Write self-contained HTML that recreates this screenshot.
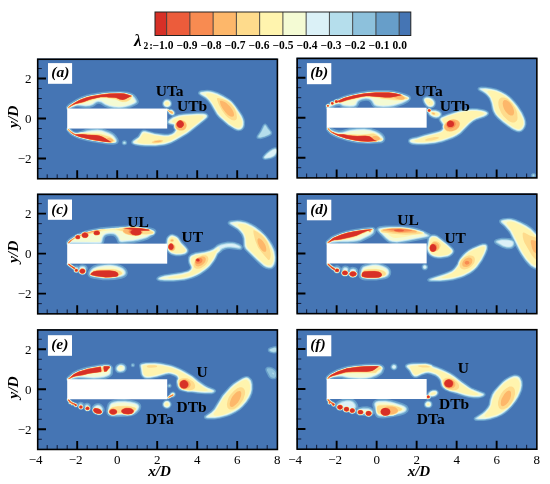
<!DOCTYPE html><html><head><meta charset="utf-8"><style>html,body{margin:0;padding:0;background:#fff;width:550px;height:484px;overflow:hidden}svg{display:block}</style></head><body>
<svg width="550" height="484" viewBox="0 0 550 484">
<rect width="550" height="484" fill="#fff"/>
<rect x="155.00" y="12.00" width="11.63" height="23.50" fill="#d73027"/>
<rect x="166.63" y="12.00" width="23.25" height="23.50" fill="#ec5c3b"/>
<rect x="189.88" y="12.00" width="23.25" height="23.50" fill="#f88b51"/>
<rect x="213.14" y="12.00" width="23.25" height="23.50" fill="#fdb76a"/>
<rect x="236.39" y="12.00" width="23.25" height="23.50" fill="#fedb8c"/>
<rect x="259.65" y="12.00" width="23.25" height="23.50" fill="#fff4ae"/>
<rect x="282.90" y="12.00" width="23.25" height="23.50" fill="#f4fbd4"/>
<rect x="306.15" y="12.00" width="23.25" height="23.50" fill="#dbf1f7"/>
<rect x="329.41" y="12.00" width="23.25" height="23.50" fill="#b5deec"/>
<rect x="352.66" y="12.00" width="23.25" height="23.50" fill="#8dc1dc"/>
<rect x="375.92" y="12.00" width="23.25" height="23.50" fill="#679ec9"/>
<rect x="399.17" y="12.00" width="11.63" height="23.50" fill="#4575b4"/>
<line x1="166.63" y1="12.00" x2="166.63" y2="35.50" stroke="#333" stroke-width="0.9"/>
<line x1="189.88" y1="12.00" x2="189.88" y2="35.50" stroke="#333" stroke-width="0.9"/>
<line x1="213.14" y1="12.00" x2="213.14" y2="35.50" stroke="#333" stroke-width="0.9"/>
<line x1="236.39" y1="12.00" x2="236.39" y2="35.50" stroke="#333" stroke-width="0.9"/>
<line x1="259.65" y1="12.00" x2="259.65" y2="35.50" stroke="#333" stroke-width="0.9"/>
<line x1="282.90" y1="12.00" x2="282.90" y2="35.50" stroke="#333" stroke-width="0.9"/>
<line x1="306.15" y1="12.00" x2="306.15" y2="35.50" stroke="#333" stroke-width="0.9"/>
<line x1="329.41" y1="12.00" x2="329.41" y2="35.50" stroke="#333" stroke-width="0.9"/>
<line x1="352.66" y1="12.00" x2="352.66" y2="35.50" stroke="#333" stroke-width="0.9"/>
<line x1="375.92" y1="12.00" x2="375.92" y2="35.50" stroke="#333" stroke-width="0.9"/>
<line x1="399.17" y1="12.00" x2="399.17" y2="35.50" stroke="#333" stroke-width="0.9"/>
<rect x="155.00" y="12.00" width="255.80" height="23.50" fill="none" stroke="#222" stroke-width="1"/>
<text x="163.00" y="49" text-anchor="middle" font-family="'Liberation Serif','Times New Roman',serif" font-weight="bold" font-size="11.5">−1.0</text>
<text x="187.00" y="49" text-anchor="middle" font-family="'Liberation Serif','Times New Roman',serif" font-weight="bold" font-size="11.5">−0.9</text>
<text x="211.00" y="49" text-anchor="middle" font-family="'Liberation Serif','Times New Roman',serif" font-weight="bold" font-size="11.5">−0.8</text>
<text x="235.00" y="49" text-anchor="middle" font-family="'Liberation Serif','Times New Roman',serif" font-weight="bold" font-size="11.5">−0.7</text>
<text x="259.00" y="49" text-anchor="middle" font-family="'Liberation Serif','Times New Roman',serif" font-weight="bold" font-size="11.5">−0.6</text>
<text x="283.00" y="49" text-anchor="middle" font-family="'Liberation Serif','Times New Roman',serif" font-weight="bold" font-size="11.5">−0.5</text>
<text x="307.00" y="49" text-anchor="middle" font-family="'Liberation Serif','Times New Roman',serif" font-weight="bold" font-size="11.5">−0.4</text>
<text x="331.00" y="49" text-anchor="middle" font-family="'Liberation Serif','Times New Roman',serif" font-weight="bold" font-size="11.5">−0.3</text>
<text x="355.00" y="49" text-anchor="middle" font-family="'Liberation Serif','Times New Roman',serif" font-weight="bold" font-size="11.5">−0.2</text>
<text x="379.00" y="49" text-anchor="middle" font-family="'Liberation Serif','Times New Roman',serif" font-weight="bold" font-size="11.5">−0.1</text>
<text x="399.80" y="49" text-anchor="middle" font-family="'Liberation Serif','Times New Roman',serif" font-weight="bold" font-size="11.5">0.0</text>
<text x="134" y="45.6" font-family="'Liberation Serif','Times New Roman',serif" font-weight="bold" font-style="italic" font-size="17">λ</text>
<text x="143.4" y="48.8" font-family="'Liberation Serif','Times New Roman',serif" font-weight="bold" font-size="9.5">2</text>
<text x="149.2" y="48.6" font-family="'Liberation Serif','Times New Roman',serif" font-weight="bold" font-size="11">:</text>
<g transform="translate(37.20 58.55)">
<rect x="0" y="0" width="240" height="120" fill="#4575b4"/>
<path fill="#679ec9" fill-rule="evenodd" d="M163.9 31.8 170.1 31.1 173.4 31.5 176.4 32.2 180.9 33.8 186.1 36.3 192.1 40 194.1 41.4 196.4 43.6 200.5 48.9 204.2 54.4 205.8 56.9 207.3 60.4 207.8 63.1 207.7 66.9 207.1 69.1 205.6 71.1 203.9 72.3 201.1 72.7 199.6 72.5 197.1 71.4 190.4 67.2 181.2 59.1 178.7 56.1 172.9 46 170.4 42.6 168.1 40.4 162.9 37.3 160.9 35.4 160.8 33.9 161.9 32.5Z M72.3 32.6 86.1 32.6 90.6 33.3 93.9 34.2 96.9 35.7 99.1 37.9 101.3 41.6 101.6 42.9 101.5 44.1 100.7 45.4 99.6 46.2 94.6 48.7 89.6 50.3 83.1 51.3 76.9 51 71.9 50 67.4 48.2 63.4 45.6 61.4 45.2 59.6 45.6 57.4 47.5 55.6 48.4 51.6 49.6 48.1 49.8 40.9 48.8 38.6 48.8 37.2 49.1 32.9 51.2 31.1 51.6 29.7 51.1 28.8 49.9 28.7 48.6 29.1 47.6 31.1 45.4 39.4 40.2 44.1 38 49.1 36.3 53.4 35.3 64.1 33.5Z M129.2 40.1 131.1 40.2 132.4 40.7 133.7 41.9 134.5 43.1 134.9 45.1 134.3 47.4 132.9 48.8 130.9 49.6 131.9 50.3 133.4 50 134.6 50.2 137.1 51.9 138 53.1 138.3 54.1 138.2 55.1 137.6 56.5 141.4 55.5 145.9 54.7 159.6 53.7 165.9 53.7 168.6 54.2 170.5 55.4 171.5 57.1 171.2 58.9 170.1 60.3 167.9 62.2 151.1 75.5 139.4 82.5 133.4 85.5 129.6 86.7 125.9 87.5 118.4 88.3 107.9 88.3 104.1 88 98.6 87.2 95.4 86 94.4 85.1 93.9 84.1 94 83.1 94.4 82.1 95.9 80.7 100.4 77.8 103.2 73.1 104.4 71.9 105.6 71.3 108.1 71.2 117.4 73.9 128.1 75.3 130.6 75.3 133.1 74.6 135.2 73.6 136.6 72.3 137.2 71.4 136.2 69.9 135.6 67.1 132.4 66.5 131.1 66 129.9 64.9 129.5 63.6 129.8 62.1 130.8 60.6 135.1 57.6 132.9 56.8 131.4 55.6 130.5 54.4 130.3 53.4 128.8 51.6 128.8 50.6 129.4 49.8 127.6 49.3 126.4 48.5 125.5 47.4 124.9 45.9 125 43.9 125.7 42.4 127.4 40.7Z M226.9 65.1 228.4 65 230.1 66.4 231.6 68.9 234.7 72.9 235 74.1 234.8 75.4 234.1 76.4 232.6 77.5 228.4 79.2 223.4 80.6 220.4 80.3 219.7 79.9 219.3 79.1 219.5 77.1 222.9 72.1 225.5 66.6Z M30.3 68.6 31.1 68.5 32.1 68.8 36 72.1 37.4 72.9 38.9 73.2 40.4 73.1 43.4 72.4 48.4 70.5 53.6 69.5 60.6 69.1 65.6 69.7 73.6 72.8 77.1 75 79 76.9 81 79.9 81.6 81.6 81.5 83.4 80.5 84.9 78.9 85.8 76.6 86.2 72.9 86.2 67.9 85.8 56.4 84 50.9 83 42.9 81 38.4 79.3 34.1 77 32.4 75.6 29.5 72.1 29 71.1 29.2 69.6Z M85.9 81.9 87.9 81.7 88.9 82.2 89.5 82.9 89.9 83.9 89.9 84.6 89.5 85.6 88.9 86.2 87.6 86.7 86.6 86.7 85.6 86.3 84.8 85.4 84.5 84.4 85 82.6Z M237.4 88.6 238.4 88.6 239.9 89 239.9 96.3 238.3 98.1 235.6 99.8 232.6 100.8 227.9 101.4 226.4 101 225.6 100.5 225.1 99.4 225.2 98.1 226 96.9 227.8 94.9 232.1 91.3 235.1 89.5Z"/>
<path fill="#8dc1dc" fill-rule="evenodd" d="M164.6 32.7 170.1 32.2 173.1 32.5 176.4 33.3 180.6 34.8 185.4 37.1 191.4 40.7 193.6 42.3 195.6 44.1 198.2 47.4 203.5 55.1 205 57.6 206.2 60.6 206.8 63.1 206.8 66.4 206.1 68.6 204.9 70.4 203.4 71.3 201.4 71.6 199.9 71.4 197.6 70.5 191.1 66.5 181.9 58.4 179.6 55.6 173.8 45.6 171.1 41.9 168.5 39.4 163.4 36.4 162.1 35.1 162 34.1 162.9 33.2Z M72.6 34 83.4 33.8 87.6 34.2 91.6 35 95.1 36.3 97.2 37.9 99 40.4 100 42.4 99.9 43.9 98.1 45.4 93.6 47.6 88.9 49 83.4 49.8 77.1 49.6 72.1 48.5 67.6 46.7 63.9 44.3 61.4 43.8 59.4 44.1 55.9 46.7 52.4 48 48.4 48.3 39.4 47.3 34.8 48.9 31.4 50.8 30.6 50.8 30 50.1 29.9 48.9 30.6 47.9 34.4 44.9 42.1 40.4 47.9 38.2 53.6 36.7 64.1 34.9Z M128.7 41.1 130.4 41 131.9 41.5 133.2 42.6 133.9 44.1 134 45.6 133.4 47.1 132.4 48.1 130.9 48.7 129.1 48.8 127.6 48.3 126.6 47.4 125.9 45.9 125.8 44.4 126.3 43.1 127.4 41.8Z M129.7 50.4 130.6 50.3 132.1 51.1 134.1 50.9 135.6 51.6 136.7 52.6 137.3 53.6 137.4 54.6 137.1 55.6 136.1 56.5 135.1 56.6 134.1 56.5 132.6 55.7 131.6 54.6 131.1 53.4 129.5 51.9 129.3 51.1Z M157.5 54.9 164.9 54.6 167.6 55 168.9 55.5 169.9 56.2 170.4 57.1 170.3 58.1 169.8 59.1 168.6 60.3 152.9 73 148.9 75.7 134.4 84 130.1 85.5 127.4 86.2 118.4 87.3 107.9 87.3 102.1 86.7 97.1 85.7 95.9 85.1 95.2 84.4 95 83.4 95.6 82.3 101 78.6 101.9 77.6 104.1 73.6 105.1 72.7 106.1 72.2 108.1 72.3 117.9 75 127.1 76.3 131.1 76.2 134.6 75.1 136.8 73.6 138.3 71.4 136.9 69.4 136.5 66.4 132.4 65.4 130.9 64.4 130.7 62.9 131.9 61.1 135.6 58.5 141.4 56.5 146.1 55.7Z M227.7 66.1 228.4 66.3 229.1 66.9 230.9 69.7 233.4 72.9 233.8 73.9 233.7 75.1 231.6 76.8 227.6 78.3 223.1 79.5 220.9 79.2 220.4 78.4 220.8 77.1 223.9 72.6 226.5 67.1 227.1 66.4Z M30.6 69.4 31.9 69.7 36 73.1 37.7 73.9 38.9 74.1 45.4 73.1 49.1 71.8 53.9 70.9 60.1 70.5 64.9 71 72.9 74 75.9 75.8 77.7 77.6 79.5 80.1 80.1 81.6 80 82.9 79.3 83.9 77.9 84.6 74.1 84.8 70.4 84.6 52.1 81.8 42.9 79.5 37.1 77.3 33.1 74.7 30 71.4 29.8 70.1Z M87 82.6 88.4 83.1 88.9 84.1 88.6 85.1 87.4 85.8 86.1 85.4 85.5 84.4 85.9 83.2Z M237.5 89.6 238.4 89.6 239.9 90.2 239.9 94.6 237.6 97.4 235.4 98.8 232.6 99.8 228.1 100.4 227.1 100.2 226.4 99.7 226.1 98.9 226.5 97.9 229.1 95 232.9 92 235.4 90.4Z"/>
<path fill="#b5deec" fill-rule="evenodd" d="M163.4 33.6 169.9 32.6 172.9 32.9 175.9 33.6 179.9 35 186.9 38.4 191.6 41.3 194.4 43.5 197.7 47.4 202 53.6 204.2 57.1 205.7 60.4 206.3 63.1 206.3 66.1 205.7 68.4 204.6 70 203.1 70.9 201.1 71.2 199.9 71 197.6 70 191.4 66.1 182.6 58.4 180 55.4 174.1 45.2 171.4 41.5 168.9 39.1 163.6 36 162.6 34.9 162.7 34.1Z M72.4 34.3 83.4 34 86.9 34.3 94.9 36.5 95.5 36.9 95.9 37.6 97.1 38.8 98.7 41.1 99.3 42.6 99.2 43.6 97.6 45 93.1 47 88.4 48.4 83.1 49.2 77.1 48.9 72.4 47.9 68.1 46.2 64.1 43.6 61.1 43.1 58.9 43.6 55.6 46.1 52.6 47.2 48.6 47.7 40.9 46.7 38.9 47.1 34.6 48.6 31.4 50.5 30.6 50.5 30.1 49.9 30.2 48.9 30.8 47.9 35.1 44.7 42.1 40.7 49.4 38 54.4 36.8 64.9 35.1Z M129.6 41.4 130.9 41.5 132.1 42.1 133.2 43.4 133.6 44.6 133.5 45.9 132.9 47.1 131.6 48 130.1 48.4 128.6 48.2 127.4 47.6 126.5 46.4 126.1 45.1 126.3 43.9 127.1 42.6 128.1 41.8Z M129.8 50.6 130.6 50.5 132.4 51.4 134.1 51.2 135.6 52 136.5 52.9 137 53.9 137.1 54.9 136.7 55.6 135.9 56.2 135.1 56.3 132.9 55.5 132 54.6 131.4 53.4 129.8 51.9 129.5 51.1Z M159.6 55.1 165.4 55.1 167.6 55.5 169.6 56.6 169.9 57.4 169.8 58.1 169.1 59.2 167.1 60.9 150.1 74.4 138.6 81.2 133.6 83.8 127.1 85.8 118.1 86.9 107.9 86.8 102.4 86.3 97.6 85.4 96.4 84.9 95.7 84.1 95.6 83.4 96.1 82.4 101.4 78.9 102.4 77.6 104.4 74 105.4 73.1 106.4 72.6 108.1 72.7 117.6 75.4 126.9 76.7 130.9 76.7 134.6 75.6 137.1 73.9 138.7 71.4 137.3 69.4 136.9 66 132.6 65 131.3 64.1 131.2 62.9 132.4 61.3 135.9 58.9 141.6 56.9 146.4 56.1Z M227.4 67.1 228.1 67 228.6 67.5 230.3 70.1 232.6 73 233.1 73.9 233 74.9 231.1 76.3 227.6 77.6 223.6 78.7 221.6 78.6 221.3 78.1 221.5 77.4 224.3 73.1Z M30.5 69.6 31.6 69.8 34 72.1 35.7 73.4 38.6 74.4 40.4 74.4 43.9 73.5 46.1 73.4 50.1 72.2 54.6 71.5 60.4 71.1 64.6 71.6 71.1 74 75.1 76.1 76.8 77.6 78.4 79.6 79.2 81.1 79.4 82.4 78.9 83.6 78.1 84.1 73.1 84.5 62.9 83.3 52.1 81.5 46.6 80.3 41.1 78.7 37.6 77.3 34.9 75.7 33.1 74.4 30.2 71.4 29.9 70.4Z M86.4 83.4 87.1 83.1 87.9 83.4 88.4 84.1 88.1 84.9 87.1 85.2 86.4 84.9 86 84.1Z M237.5 90.1 238.4 90.1 239.9 90.9 239.9 93.6 237.1 97.2 235.1 98.4 232.9 99.2 228.4 99.9 226.9 99.4 226.7 98.9 226.9 98.1 229.6 95.2 233.1 92.4 235.6 90.9Z"/>
<path fill="#dbf1f7" fill-rule="evenodd" d="M168.5 33.1 170.9 33.1 174.9 33.8 180.4 35.6 185.1 37.9 191.1 41.4 193.1 42.8 195.1 44.7 197.9 48.1 202.7 55.4 204.1 57.8 205.4 60.6 205.9 63.1 205.9 66.1 205.4 68.1 204.4 69.7 202.9 70.6 200.6 70.7 198.4 70 195.9 68.6 191.4 65.6 182.6 57.9 180.3 55.1 174.5 45.1 171.8 41.4 169.1 38.8 163.9 35.6 163.2 34.9 163.4 34.2 164.1 33.8Z M72.4 34.4 83.1 34.2 86.9 34.5 88.9 34.8 94.9 36.7 95.5 37.1 95.6 38.1 96.9 39.5 98.3 41.6 98.6 42.6 98.5 43.4 96.5 44.9 92.4 46.6 86.7 48.1 81.4 48.7 76.6 48.2 72.1 47.2 68.2 45.6 64.1 43 62.4 42.6 60.6 42.5 58.6 43.1 55.4 45.5 52.6 46.6 48.6 47.1 41.4 46.3 38.9 46.8 34.4 48.4 32.1 49.5 31.1 50.4 30.6 50.3 30.3 49.9 30.3 48.9 31 47.9 35.1 44.9 42.4 40.8 49.1 38.2 54.1 37 64.9 35.2Z M128.8 41.9 129.9 41.7 131.1 41.9 132.2 42.6 132.9 43.6 133.2 44.6 133.1 45.9 132.6 46.9 131.6 47.6 130.4 48.1 128.9 48 127.7 47.4 126.9 46.4 126.5 45.1 126.7 43.9 127.6 42.6Z M129.8 50.9 130.6 50.7 132.4 51.7 133.6 51.4 135.1 52 136.7 53.6 136.8 54.6 136.6 55.4 135.9 55.9 135.1 56.1 133.1 55.4 132.3 54.6 131.6 53.4 130 51.9Z M158.6 55.6 166.6 55.7 168.9 56.5 169.4 57.1 169.4 57.9 168.8 58.9 166.9 60.6 149.8 74.1 138.5 80.9 133.6 83.4 127.1 85.4 118.4 86.5 108.1 86.5 104.1 86.1 98.1 85.1 96.8 84.6 96.1 83.9 96.2 83.1 96.6 82.6 101.9 79 104.6 74.4 105.4 73.5 106.4 73.1 108.1 73.1 117.6 75.8 127.1 77.1 131.1 77.1 134.9 75.9 137.5 74.1 139.1 71.4 138.1 70.3 137.5 69.1 137.1 65.6 132.9 64.7 131.7 63.9 131.7 62.9 132.6 61.6 135.9 59.3 141.6 57.3 146.4 56.5Z M30.4 69.9 30.9 69.7 31.6 70 33.6 72.1 35.6 73.6 37.4 74.5 38.6 74.7 40.6 74.6 43.9 73.8 47.1 73.7 51 72.6 55.1 72.1 60.6 71.7 64.6 72.2 71.1 74.6 74.9 76.6 76.6 78.3 78.1 80.4 78.6 81.5 78.8 83.1 77.9 83.9 75.4 84.3 73.4 84.4 68.4 84 52.1 81.4 42.9 79.1 37.4 77 34.4 75.2 30.6 71.6 30.1 70.6Z M86.9 83.9 87.5 83.9 87.6 84.4 86.9 84.4Z M237.7 90.6 238.6 90.8 239.9 91.8 239.9 92.5 236.7 96.9 233 98.6 229.6 99.2 227.6 99.1 227.4 98.6 227.8 97.9 231.4 94.4 235.4 91.6Z"/>
<path fill="#f4fbd4" fill-rule="evenodd" d="M165.1 34.1 170.6 33.5 174.5 34.1 180.5 36.1 184.7 38.1 190.9 41.6 194.6 44.7 197.6 48.4 202.4 55.7 204.9 60.6 205.5 63.1 205.5 65.9 204.9 68.1 204 69.4 202.6 70.1 200.6 70.2 198.4 69.5 195.9 68.1 191.7 65.4 183 57.6 180.6 54.9 174.8 44.9 172.1 41.1 169.4 38.4 164.2 34.9 164.4 34.4Z M72.4 34.6 83.4 34.3 86.9 34.6 88.9 35 94.9 36.8 95.4 37.4 95.2 38.9 97.3 41.6 97.6 42.4 97.5 43.1 94.8 44.9 89.8 46.6 85.4 47.6 81.1 47.9 76.4 47.4 72.1 46.4 68.5 44.9 64.4 42.3 62.4 41.8 60.6 41.8 58.1 42.5 55 44.9 52.4 45.9 48.6 46.3 42.9 45.6 38.9 46.5 34.4 48 32.6 48.9 31.1 50.3 30.4 49.9 30.5 48.9 31.6 47.5 37.6 43.5 42.4 40.9 49.4 38.3 54.4 37.1 64.9 35.3Z M128.6 42.4 130.6 42.2 131.6 42.7 132.4 43.4 132.8 44.6 132.8 45.6 132.3 46.6 130.4 47.6 129.1 47.6 128 47.1 127.3 46.4 126.9 45.4 127 44.4 127.6 43.2Z M130.1 50.9 130.9 50.9 132.4 51.8 133.9 51.7 135.1 52.3 136.5 53.9 136.4 55.2 135.1 55.8 133.2 55.1 131.8 53.4 130 51.6Z M146.4 57 160.9 55.9 166.1 56.1 168.4 56.8 168.8 57.4 168.8 57.9 168.1 58.9 166.2 60.6 149.4 73.9 138 80.6 133.1 83.1 127.3 84.9 118.4 86 108.4 86 104.6 85.7 99.1 84.9 97.5 84.4 96.8 83.9 96.7 83.4 97.1 82.9 102.1 79.3 104.9 74.7 105.7 73.9 106.6 73.5 110.1 74.1 117.6 76.3 126.9 77.6 131.1 77.5 135.1 76.3 136.6 75.5 137.9 74.3 138.9 72.9 139.5 71.4 138.5 70.4 137.7 69.1 137.4 67.4 137.5 65.4 132.5 63.9 132.2 63.1 132.9 62.1 136.3 59.6 141.9 57.7Z M30.8 69.9 31.6 70.2 33.1 71.9 35.4 73.6 36.9 74.6 38.4 75 40.4 74.9 44.1 74.1 48.4 74.1 52.6 73.1 58.1 72.6 61.6 72.6 64.6 73 70.3 75.1 74.3 77.1 76.6 79.6 78.2 81.9 78.5 82.9 77.9 83.5 75.1 84.1 73.4 84.3 68.1 83.8 52.1 81.3 42.9 79 37.6 77 34.6 75.2 30.5 71.4 30.2 70.4Z"/>
<path fill="#fff4ae" fill-rule="evenodd" d="M72.4 34.7 83.4 34.4 88.4 35 94.6 36.8 95.1 37.1 95.2 37.6 94.2 40.1 93.1 41.4 90.1 43.2 88.1 43.7 85.6 43.8 83.9 43.5 79.6 41.6 77.6 41.1 71.4 40.3 69.6 39.8 63.9 39.8 60.1 40.5 45.9 44.7 38.6 46.2 34.4 47.7 32.4 48.9 31.1 50.1 30.5 49.6 30.7 48.6 31.9 47.4 37.9 43.5 42.4 41 49.6 38.3 54.1 37.3 64.9 35.5Z M169.6 34.9 171.4 34.6 173.9 34.9 179.1 36.4 190.1 41.6 193.6 44.2 195.4 46.1 197.6 49.1 199.4 52.5 202.9 58 203.9 60.2 204.6 62.6 204.6 64.9 204.3 66.6 203.4 68.2 202.4 68.9 200.6 69.2 198.6 68.6 196.5 67.6 192 64.6 183.8 57.4 181.1 54.3 175 43.9 172.4 40.4 169 36.6 168.8 35.6Z M129.1 43.1 130.6 43.1 131.6 43.9 131.9 45.4 131.2 46.4 129.6 46.8 128.9 46.6 128.1 46 127.9 44.4 128.4 43.6Z M130.1 51.1 130.9 51.1 132.6 52.1 133.6 51.9 134.9 52.4 136.2 53.6 136.4 54.4 136.2 55.1 135.1 55.6 133.4 55 130.4 51.9Z M146.6 57.7 161.6 56.8 164.9 57.1 165.9 57.6 166.2 58.6 165.4 59.9 162.4 62.6 149.2 73.1 133.1 82.1 126.8 84.1 118.6 85.2 106.6 85.1 101.9 84.4 99.9 83.4 100.1 82.4 103.1 79.4 105.4 75.6 106.9 74.6 109.7 74.9 117.6 77 126.9 78.3 131.6 78.3 135.6 77 137.1 76.1 138.4 74.9 139.5 73.4 140.2 71.6 138.6 70.2 137.9 68.9 137.6 66.9 137.9 64.7 135.5 63.6 134.8 62.9 135 62.1 135.9 61.1 138.5 59.6 142.5 58.4Z M30.6 70.1 31.4 70.1 34.1 72.9 37.1 74.9 38.4 75.3 40.6 75.2 44.1 74.4 46.9 74.3 53.6 74.8 59.4 74.8 63.9 75.3 67.1 76 73.5 78.1 77.6 81.6 78.1 82.4 78.1 82.9 77.4 83.3 75.9 83.4 75.6 83.9 74.9 84 70.6 83.9 56.4 81.9 46.9 79.9 41.1 78.3 35.6 75.8 33.4 74.1 30.9 71.6 30.4 70.9Z"/>
<path fill="#fedb8c" fill-rule="evenodd" d="M72.4 34.8 83.1 34.5 86.9 34.8 93.9 36.7 95.1 37.4 94.1 38.1 93.9 39.5 92.8 40.9 91.4 41.9 89.1 42.9 85.4 43.1 82.6 42.4 78.9 40.7 69.9 39.2 63.6 39.2 60.4 39.8 45.7 44.1 37.9 45.9 34.6 47.3 32.2 48.9 31.3 49.9 30.9 49.9 30.6 49.6 30.8 48.6 31.9 47.6 37.9 43.6 42.6 41 49.4 38.5 54.1 37.4 64.9 35.6Z M179.7 39.6 180.9 39.5 184.8 40.4 188.9 41.9 192.1 43.9 194.6 46.4 197.4 50.2 199.1 54.2 199.7 58.4 199.5 60.1 198.9 61.2 197 61.9 194.5 61.4 190.7 58.9 187.9 56.1 184.4 51.3 181.6 45.9 179.9 41.3Z M130.6 51.1 132.6 52.3 133.6 52.1 134.8 52.6 135.9 53.6 136 54.9 135.6 55.2 134.9 55.3 133.4 54.7 130.4 51.6 130.3 51.4Z M142.1 61.6 144.4 61.5 146.9 62.3 148.4 63.5 149.5 65.4 149.7 67.4 149.1 69.3 147.9 70.9 146.1 72 143.6 72.3 141.6 71.9 139.4 70.6 138.3 69.1 137.9 66.9 138.4 64.7 139.9 62.9Z M30.5 70.4 30.9 70.1 31.4 70.3 33.9 72.9 38.1 75.4 46.6 74.9 53.9 75.4 59.4 75.4 63.6 75.9 72.7 78.4 75.5 80.4 77.3 82.4 77.1 82.7 75.1 83.3 75.3 83.6 74.9 83.9 70.6 83.8 56.4 81.8 46.9 79.8 41.4 78.2 35.6 75.6 33.6 74.1 31.1 71.7 30.5 70.9Z M121.6 81.1 125.1 81.4 125.9 81.8 126 82.4 124.5 83.6 121.8 84.4 116.4 84.6 115.1 84.4 114.5 83.9 114.8 83.1 117.3 81.9Z"/>
<path fill="#fdb76a" fill-rule="evenodd" d="M72.4 34.9 83.4 34.6 88.4 35.2 94.1 36.9 94.9 37.4 94.6 37.7 91.2 39.1 88.1 41 85.9 41.5 82.1 41 79.6 39.8 77.4 39.3 70.9 39 69.4 38.7 63.1 38.8 54.6 40.8 50.9 41.9 46.4 43.7 37.6 45.8 34.6 47.2 32.1 48.8 31.1 49.8 30.8 49.6 30.9 48.8 32 47.6 37.9 43.7 42.6 41.1 49.4 38.6 54.4 37.4 64.9 35.7Z M183.2 42.1 184 42.1 186.5 42.9 188.9 44.1 192.6 47.6 194.9 50.7 196.4 53.6 196.9 56.1 196.4 57.6 195.1 58.1 193.3 57.9 190.8 56.4 188.4 54 185.4 50 183.6 46.6 182.7 43.4 182.8 42.6Z M130.6 51.4 132.9 52.7 133.6 52.5 134.6 52.9 135.6 53.9 135.6 54.7 134.9 55 133.9 54.6 131.5 52.6Z M141.7 61.9 143.9 61.7 146 62.4 147.6 63.4 148.9 65.2 149.2 66.9 148.9 68.8 148 70.1 146.3 71.4 144.4 71.8 142.2 71.6 139.9 70.4 138.8 69.1 138.4 67.1 138.6 65.3 139.7 63.6Z M30.8 70.4 31.6 70.6 33.9 73 36.9 75 38.1 75.6 44.6 75.4 50.6 76.1 54.9 76.1 61.6 76.8 64.4 77.5 69.4 80.1 70.9 79.4 73.6 79.6 75.5 80.9 76.1 82.1 75.6 82.7 74.4 83.1 74.8 83.6 74.4 83.8 70.6 83.7 56.4 81.7 46.9 79.7 41.4 78.1 35.6 75.5 33.7 74.1 31.1 71.5 30.7 70.9Z M117.7 82.6 122.6 81.9 124.4 82.1 124.7 82.4 123.4 83.1 121.2 83.6 118.4 83.8 116.1 83.6Z"/>
<path fill="#f88b51" fill-rule="evenodd" d="M72.4 35 83.1 34.7 86.9 35 93.7 36.9 94.6 37.4 94.4 37.7 91.1 39 88.1 40.8 85.6 41.3 82.1 40.8 79.4 39.6 77.4 39.2 71.1 38.9 69.4 38.6 63.1 38.7 54.4 40.8 50.9 41.8 46.4 43.5 37.6 45.7 34.6 47.1 31.1 49.6 30.9 49.4 31.1 48.7 32.5 47.4 40.9 42.1 44.7 40.4 49.7 38.6 54.1 37.6 64.9 35.8Z M131.3 52.1 131.4 51.9 132.3 52.4 132.8 53.1 132 52.9Z M142 61.9 143.4 61.8 144.6 62.2 145.9 63.4 146.8 64.9 146.5 67.1 144.4 69.3 143.1 69.5 141.6 69.3 140 67.9 139.3 66.6 139.2 65.1 139.6 64.1 140.9 62.6Z M30.8 70.6 31.4 70.6 32.5 72.1 33.6 73 36.9 75.2 38.1 75.7 44.9 75.5 50.4 76.2 58.6 76.5 62.7 77.1 65.4 78.1 68.7 79.9 70.9 81.4 73.9 83 74.3 83.6 73.4 83.8 68.4 83.4 56.4 81.6 52.1 80.8 42.9 78.5 38.6 76.9 35.6 75.4 33.6 73.9 31.1 71.3Z"/>
<path fill="#ec5c3b" fill-rule="evenodd" d="M78.9 34.9 86.9 35.2 89.1 35.6 94.3 37.4 88.1 40.6 85.6 41.2 82.1 40.7 79.4 39.5 77.1 39 71.1 38.8 69.4 38.4 63.4 38.5 53.1 41 46.4 43.4 37.9 45.5 31.5 48.6 32.1 47.9 35.3 45.6 41.1 42.2 44.4 40.6 50.2 38.6 54.6 37.6 65.1 35.9 72.4 35.1Z M142.7 61.9 143.6 61.9 144.7 62.4 146.1 63.9 146.6 65.1 146.6 66.4 146.1 67.4 144.7 68.9 143.6 69.3 142.1 69.2 141.3 68.9 139.8 67.4 139.4 66.1 139.4 64.9 140.1 63.6 141.4 62.3Z M33.6 73.4 36.6 75.3 38.1 75.8 44.9 75.6 50.4 76.3 58.6 76.6 62.6 77.2 66.1 78.6 73.9 83.4 73.4 83.6 70.6 83.5 62.9 82.5 52.1 80.7 46.9 79.5 42.9 78.4 38.3 76.6 35.5 75.1Z"/>
<path fill="#d73027" fill-rule="evenodd" d="M72.6 35.3 83.1 35 86.9 35.3 88.6 35.6 93.9 37.4 88.1 40.5 85.6 41.1 82.4 40.6 79.4 39.3 77.4 38.9 71.1 38.6 69.4 38.3 63.4 38.4 53.1 40.8 46.4 43.3 39.1 44.9 34.4 46.6 38 44.1 42.5 41.6 49.9 38.9 54.1 37.9 64.9 36.1Z M142.2 62.1 143.4 62 144.4 62.4 145.9 63.8 146.4 64.9 146.5 66.1 146.1 67.2 144.8 68.6 143.9 69.1 142.4 69.1 141.6 68.9 140.1 67.5 139.6 66.6 139.5 65.1 139.9 64.2 141.2 62.6Z M38 76.1 44.9 75.8 50.4 76.5 58.6 76.8 62.6 77.4 65.3 78.4 68.6 80.1 73.4 83.4 68.4 83.1 52.1 80.5 42.6 78.1Z"/>
<rect x="30" y="50" width="100" height="20" fill="#fff"/>
<rect x="10.80" y="4.55" width="24.10" height="20.70" fill="#fff"/>
<text x="14.10" y="18.75" font-family="'Liberation Serif','Times New Roman',serif" font-weight="bold" font-style="italic" font-size="15.5">(a)</text>
<path d="M40.0 120.5V111.7M80.0 120.5V111.7M120.0 120.5V111.7M160.0 120.5V111.7M200.0 120.5V111.7M0 20.0H8.8M0 60.0H8.8M0 100.0H8.8" stroke="#000" stroke-width="1.9" fill="none"/>
<path d="M10.0 120.5V115.8M20.0 120.5V115.8M30.0 120.5V115.8M50.0 120.5V115.8M60.0 120.5V115.8M70.0 120.5V115.8M90.0 120.5V115.8M100.0 120.5V115.8M110.0 120.5V115.8M130.0 120.5V115.8M140.0 120.5V115.8M150.0 120.5V115.8M170.0 120.5V115.8M180.0 120.5V115.8M190.0 120.5V115.8M210.0 120.5V115.8M220.0 120.5V115.8M230.0 120.5V115.8M0 10.0H4.6M0 30.0H4.6M0 40.0H4.6M0 50.0H4.6M0 70.0H4.6M0 80.0H4.6M0 90.0H4.6M0 110.0H4.6" stroke="#0a0a20" stroke-width="0.85" fill="none"/>
<rect x="0.5" y="0.7" width="239.7" height="119.5" fill="none" stroke="#000" stroke-width="1.6"/>
<text x="118.50" y="37.95" font-family="'Liberation Serif','Times New Roman',serif" font-weight="bold" font-size="15.5">UTa</text>
<text x="139.80" y="52.15" font-family="'Liberation Serif','Times New Roman',serif" font-weight="bold" font-size="15.5">UTb</text>
<text x="-5.7" y="24.60" text-anchor="end" font-family="'Liberation Serif','Times New Roman',serif" font-size="13">2</text>
<text x="-5.7" y="64.60" text-anchor="end" font-family="'Liberation Serif','Times New Roman',serif" font-size="13">0</text>
<text x="-5.7" y="104.60" text-anchor="end" font-family="'Liberation Serif','Times New Roman',serif" font-size="13">−2</text>
<text transform="translate(-18.8 58.2) rotate(-90)" text-anchor="middle" font-family="'Liberation Serif','Times New Roman',serif" font-weight="bold" font-style="italic" font-size="15.5">y/D</text>
</g>
<g transform="translate(296.65 57.70)">
<rect x="0" y="0" width="240" height="120" fill="#4575b4"/>
<path fill="#679ec9" fill-rule="evenodd" d="M181.9 29.5 184.6 28.9 189.4 29 194.6 29.7 200.1 31 204.4 32.7 209.4 35.5 212.9 38 215.1 40.1 218.6 43.9 222 48.1 226.2 54.6 228.8 60.4 229.7 64.4 229.7 67.1 228.7 70.1 226.9 72.6 225.1 74 222.6 74.8 220.4 74.5 217.1 73.2 214.4 71.8 210.1 68.8 204.9 64.7 200.4 60.7 197.7 57.6 195.7 53.9 195 51.6 193.9 45.9 192.9 42.8 191.9 40.8 190.1 38.6 187.9 36.6 185.7 35.1 182.4 33.4 181.2 32.4 180.9 31.4 181.1 30.4Z M79.3 32.4 92.4 32.4 97.6 33 103.1 34.2 109.1 36 112.6 37.5 114.1 39.1 114.3 41.1 113.3 42.9 111.6 44.6 107.1 47.1 98.4 50 92.6 51 86.6 51.3 81.9 51 79.1 50.5 77.4 49.7 75.9 48.6 74.9 47.4 73.9 45.1 72.9 44 71.6 43.4 69.4 43.1 65.9 43.6 63.9 44.4 62.9 45.3 62 47.6 60.9 49.1 59.6 50 57.4 50.7 53.4 51.1 48.6 50.8 45.4 50 42.7 48.4 41.9 48.2 39.2 48.9 35.1 51 33.1 51.6 30.4 51.6 29.6 51.3 29 50.4 28.7 47.6 29.9 46.2 30.9 45.8 34.4 43.3 36.1 42.9 38.6 41.2 39.9 41 46.4 38.2 51.9 36.5 63.1 34 71.1 32.9Z M130.2 38.4 132.6 38.5 135.6 39.7 137.6 41.4 139 43.6 139.3 45.9 138.7 48.1 137.4 49.7 134.7 50.9 134.9 51.1 135.1 51.4 139.4 51.5 143.1 52.9 144.5 54.1 145.3 55.4 145.6 56.6 145.4 58 150.4 56 161.9 52.3 170.4 50.8 175.4 50.4 180.6 50.5 185.6 51.2 188.6 52 190.6 53 191.7 53.9 192.4 55.4 192.3 56.6 190.9 58.3 187.9 60 180.1 62.6 176.9 64.4 173.8 66.9 164.6 76.2 160.9 78.8 155.9 81.2 145.9 84.8 138.1 86.6 127.1 87.6 119.6 87.5 116.4 87.2 114.4 86.7 112.4 85.6 111.8 84.9 111.3 83.6 111.7 81.9 113.1 80.5 115.9 79.5 119.9 78.9 127.1 76.5 141.5 72.9 143.6 72.1 145.1 70.6 145.2 67.4 142.4 63.4 142 62.1 142.1 60.8 138.9 61.2 135.4 60.3 132.6 58.6 130.8 56.1 130.3 54.6 129.7 53.6 129.6 52.6 129.9 51.6 131.2 50.4 129.4 49 127.7 47.1 126.3 44.6 125.7 42.4 125.9 40.9 126.9 39.6 128.4 38.7Z M30.6 68.9 32.1 68.8 39.3 72.1 42.6 72.8 45 72.6 52.9 70.3 59.4 69.4 67.6 69.1 74.9 70.2 81.6 72.7 85.4 75.3 87.1 77.1 88.2 78.9 88.7 80.6 88.6 82.1 87.4 84.3 85.1 85.6 73.1 86.3 62.1 85.8 58.1 85.2 51.1 83.8 40.9 80.5 36.4 78.5 33.4 76.8 30.7 74.1 29.5 72.4 29.2 71.4 29.5 70.1Z M236.3 115.4 238.1 115.6 239.3 116.9 239.3 118.4 238.2 119.9 235.5 119.9 234.3 118.4 234.2 117.4 234.5 116.6 235.4 115.7Z"/>
<path fill="#8dc1dc" fill-rule="evenodd" d="M183.4 30.1 189.1 30 194.4 30.7 199.9 32 204.1 33.8 209.1 36.5 212.1 38.7 214.4 40.8 217.7 44.4 221.1 48.6 225.3 55.1 227.5 59.9 228.5 63.1 228.7 66.6 228 69.1 226.4 71.7 224.6 73.1 222.6 73.7 220.4 73.5 217.4 72.2 215.1 71.1 211.1 68.2 205.6 64 201.2 60.1 198.6 57.1 196.7 53.6 196 51.4 194.9 45.7 192.9 40.5 190.9 38 188.6 35.9 182.5 32.1 182.2 31.6 182.2 30.9Z M78.5 33.9 91.1 33.8 98.6 34.7 104.4 36 110.9 38.2 112.6 39.6 113 40.4 112.9 41.1 112.4 42.1 110.1 43.9 105.9 46 97.4 48.8 92.1 49.6 86.6 49.9 82.1 49.6 79.4 49 77.9 48.3 76.7 47.4 75 44.1 73.9 42.9 72.1 42 69.4 41.7 65.9 42.1 62.9 43.3 61.6 44.5 60.6 47.1 59.9 48.1 58.6 48.9 56.9 49.3 52.9 49.7 48.4 49.2 46.1 48.7 43.1 46.9 41.9 46.7 39.1 47.4 34.9 49.5 31.1 50.8 30.1 50.4 29.2 48.4 29.4 47.4 30.1 46.7 30.9 46.4 32.6 46.4 33.4 45.9 33.7 44.6 34.6 43.8 35.9 43.6 37.1 44 37.7 42.6 38.9 41.7 41.4 41.9 47.1 39.4 51.9 38 62.1 35.6 70.9 34.4Z M130.6 39.4 132.6 39.6 134.9 40.5 136.6 41.8 137.8 43.4 138.3 44.9 138.2 46.6 137.5 48.1 136.1 49.3 134.1 49.9 131.9 49.5 129.7 47.9 127.7 45.1 126.8 42.6 127 41.1 128.4 39.8Z M132.3 50.6 133.9 50.9 134.6 51.6 134.9 52.4 139.1 52.5 142.6 53.8 143.8 54.9 144.4 56.1 144.5 57.1 143.9 58.4 142.1 59.7 139.4 60.2 136.9 59.8 134.1 58.4 132.4 56.9 131.5 54.9 130.2 53.4 130.2 52.4 130.6 51.6 131.4 50.9Z M175.9 51.4 180.4 51.5 187.6 52.8 190.6 54.3 191.2 55.1 191.3 56.1 190.1 57.6 187.4 59.1 179.8 61.6 176.2 63.6 172.9 66.4 164.1 75.3 159.6 78.3 155.6 80.2 145.9 83.7 137.9 85.6 127.6 86.6 119.9 86.5 114.9 85.8 113.4 85.1 112.6 84.1 112.4 83.1 112.6 82.4 113.4 81.6 114.6 81 116.9 80.3 121.1 79.6 127.4 77.5 141.7 73.9 144.7 72.6 146.1 70.9 145.8 69.4 146.2 67.1 143.6 63.4 143.1 61.9 143.4 60.6 144.6 59.5 150.6 57 161.9 53.3 170.6 51.7Z M30.8 69.6 32.1 69.8 34.1 71.5 38.4 73.4 42.1 74.2 45.1 74.1 52.6 71.8 60.1 70.8 67.6 70.5 74.1 71.5 80.4 73.7 83.9 75.9 85.4 77.4 86.7 79.1 87.2 80.6 87.1 82.1 86.1 83.5 84.4 84.3 71.6 85 62.1 84.3 52.4 82.6 49.1 81.8 42.9 79.7 34.9 76.1 33.4 74.9 30.4 71.6 30.1 70.6Z M236 116.6 237.1 116.4 238 116.9 238.3 117.9 237.9 118.6 236.6 119 235.6 118.5 235.4 117.4Z"/>
<path fill="#b5deec" fill-rule="evenodd" d="M183.6 30.6 189.1 30.5 194.4 31.2 199.1 32.3 205.9 35.2 209.4 37.2 212.7 39.9 217.1 44.4 220.3 48.4 224.8 55.1 226.9 59.6 228 62.9 228.3 66.4 227.5 69.1 226.1 71.4 224.4 72.7 222.4 73.2 220.4 73 217.4 71.7 215.1 70.5 210.9 67.5 205.9 63.7 201.6 59.9 199 56.9 197.2 53.6 196.4 51.1 194.9 44.4 193.2 40.1 191.2 37.6 188.9 35.5 186.4 33.7 183.3 32.1 182.9 31.4Z M78.9 34.1 91.6 34 97.9 34.8 104.1 36.3 109.1 38 111.9 39.4 112.5 40.1 112.6 40.9 112 41.9 109.4 43.6 104.9 45.7 96.9 48.2 91.9 49 86.6 49.2 82.4 48.9 79.6 48.4 78.1 47.7 77.2 46.9 75.4 43.6 74.1 42.3 72.3 41.4 69.4 41 65.6 41.5 62.6 42.7 61.1 44.1 59.6 47.4 58.6 48.1 56.9 48.7 53.1 49 48.6 48.6 46.1 48 43.5 46.4 42.1 46.1 40.1 46.4 37.3 47.4 31.4 50.4 30.5 50.1 29.4 48.4 29.5 47.6 30.4 46.8 31.4 46.6 32.4 46.9 33.4 46.4 33.8 44.9 34.6 44 35.9 43.8 37.4 44.4 37.7 42.9 38.9 42 39.9 41.8 41.4 42.2 47.1 39.7 51.9 38.2 62.6 35.8 72.1 34.6Z M129.8 39.9 131.6 39.9 133.4 40.3 135.4 41.3 136.7 42.6 137.7 44.4 137.9 45.9 137.4 47.4 136.4 48.6 134.6 49.3 132.6 49.3 130.6 48.2 129.2 46.6 127.7 44.1 127.2 42.1 127.9 40.6Z M132 50.9 133.1 50.8 133.9 51.2 134.9 52.8 138.9 52.9 142.1 54 143.2 54.9 143.9 55.9 144 56.9 143.7 57.9 142.1 59.2 139.6 59.8 137.4 59.4 134.9 58.4 133 56.9 131.9 54.9 130.9 54.1 130.4 53.4 130.7 51.9Z M174.8 51.9 180.1 51.9 187.4 53.2 190.1 54.5 190.8 55.4 190.8 56.1 189.9 57.2 187.1 58.7 179.4 61.3 176.5 62.9 172.8 65.9 163.4 75.3 160.1 77.5 156.9 79.2 150.1 81.8 145.1 83.5 138.4 85 127.6 86.1 121.4 86.1 116.6 85.8 114.4 85.1 113.1 84.1 112.9 83.1 113.2 82.4 115.1 81.3 120.1 80.3 127.4 78 139.1 75.1 143.6 73.7 145.1 72.9 146.5 71.1 146.1 69.1 146.6 66.9 144 63.1 143.6 61.9 144 60.6 145.1 59.7 151.1 57.3 161.9 53.8 169.1 52.4Z M30.8 69.9 31.9 69.9 34.9 72.6 38.5 74.1 42.1 74.9 45.4 74.7 52.6 72.5 59.6 71.5 67.4 71.2 73.4 72 78.9 73.8 82.6 75.8 85.6 78.6 86.7 80.9 86.8 81.6 86.4 82.6 85.6 83.4 83.4 84.1 81.9 83.9 79.4 84.3 76.9 84.2 71.1 84.7 62.9 84.2 57.1 83.3 49.1 81.5 42.9 79.5 36.1 76.5 33.6 74.8 30.8 71.9 30.3 70.6Z M236.5 117.1 237.5 117.4 237.4 118.1 236.9 118.3 236.3 118.1 236.1 117.6Z"/>
<path fill="#dbf1f7" fill-rule="evenodd" d="M184 31.1 188.6 30.9 193.9 31.5 200.4 33.1 204.5 34.9 208.9 37.3 211.6 39.4 214 41.6 217.1 45 220.4 49.1 224.6 55.6 226.9 60.6 227.7 63.4 227.8 66.6 227.1 69 225.6 71.2 223.9 72.5 222.1 72.8 220.4 72.5 217 71.1 212.4 68.1 207.1 64.1 201.7 59.4 199.3 56.6 197.5 53.4 196.8 51.1 195.7 45.6 193.8 40.4 191.6 37.5 189.4 35.4 183.7 31.6Z M71.9 34.7 91.6 34.2 96.9 34.8 105.6 36.9 111.3 39.4 112.1 40.1 112.3 40.9 111.4 41.9 110 42.4 108 43.6 103.4 45.6 96.8 47.6 91.9 48.4 86.6 48.6 82.4 48.3 79.9 47.9 77.8 46.6 75.9 43.2 74.4 41.7 72.4 40.8 69.1 40.4 65.1 41 62.1 42.3 60.5 43.9 59.1 47 58.2 47.6 56.9 48 53.4 48.4 49.4 48.1 46.4 47.4 43.9 45.9 42.1 45.8 39.9 46.1 34.9 47.9 31.6 50 30.9 49.9 29.6 48.4 29.7 47.6 30.6 46.8 31.6 46.7 32.6 47.2 33.6 46.6 33.9 44.9 34.9 44.1 36.1 44 37.5 44.6 37.9 42.9 39.1 42 40.1 42 41.1 42.4 47.4 39.8 52.1 38.3 62.4 36Z M129.3 40.4 131.1 40.2 132.9 40.5 134.8 41.4 136.1 42.5 137.1 44 137.5 45.4 137.2 46.9 136.4 48.1 134.9 48.9 133.4 49 131.9 48.6 130.3 47.4 128.5 44.9 127.6 42.6 127.9 41.3Z M131.7 51.1 132.9 51 133.9 51.4 134.4 52.1 134.6 53.3 138.9 53.3 141.9 54.3 143.4 55.9 143.6 56.6 143.4 57.6 142.1 58.8 139.9 59.4 137.9 59.2 135.4 58.2 133.6 57 132.4 54.9 130.7 53.6 130.6 52.4Z M173.6 52.4 179.4 52.2 185.1 53 189.1 54.3 190.1 55.1 190.3 55.9 189.6 56.9 186.9 58.4 179.4 60.9 176.2 62.6 172.5 65.6 163.1 75 160 77.1 156.6 78.9 150.1 81.4 145.1 83.1 140.8 84.1 137.6 84.8 130.9 85.5 121.9 85.7 117.1 85.4 114.9 84.9 113.5 83.9 113.4 83.1 113.6 82.6 115.4 81.6 120.1 80.7 127.4 78.4 139.4 75.4 143.6 74.1 145.1 73.3 146.1 72.4 146.9 71.1 146.4 69.1 147 66.6 144.1 62.4 144.2 61.1 145.2 60.1 151.1 57.7 161.9 54.2 166.1 53.2Z M30.7 70.1 31.4 69.9 31.9 70.1 34.4 72.7 35.5 73.4 38.6 74.5 41.9 75.2 46.1 75.1 52.9 73 60.1 72.1 67.4 71.8 73.4 72.6 78.1 74.1 81.9 76 84.6 78.4 86.4 80.8 86.5 81.6 85.9 82.8 84.9 83.4 83.4 83.9 82.1 83.6 79.4 84.2 76.9 84.1 71.1 84.6 62.9 84 57.4 83.2 49.1 81.4 42.9 79.3 37.6 77.1 33.6 74.6 30.7 71.4 30.5 70.6Z"/>
<path fill="#f4fbd4" fill-rule="evenodd" d="M187.8 31.4 193.3 31.9 197.1 32.6 203 34.6 209.2 38.1 211.8 40.1 215.1 43.4 219.4 48.4 223.1 54 224.6 56.6 226.6 61.1 227.3 64.1 227.3 66.9 226.6 69 225.1 71.1 223.5 72.1 221.6 72.3 220.4 72.1 216.5 70.4 207.1 63.6 201.6 58.7 199.6 56.4 197.9 53 195.8 44.4 194 39.9 191.9 37.2 189.9 35.2 185.5 31.9 185.9 31.6Z M79 34.4 91.6 34.3 97.9 35.1 105.6 37 106.9 37.9 111.1 39.6 111.8 40.1 112 40.9 111.1 41.7 108.9 42.1 105.2 44.1 99.5 46.1 94.1 47.3 86.9 47.9 82.4 47.6 79.6 46.9 78.2 45.9 76.4 42.6 74.4 40.8 71.6 39.9 67.9 39.9 62.7 41.1 61.6 41.7 59.9 43.4 58.5 46.4 56.6 47.3 53.4 47.6 49.5 47.4 46.6 46.7 44.6 45.4 41.4 45.5 39.4 46 36.4 47.2 34.4 47.7 31.6 49.5 30.4 49.2 29.7 48.4 29.8 47.6 30.6 46.9 31.9 46.9 32.6 47.5 33.9 46.8 33.9 45.1 34.9 44.2 36.1 44.1 37.4 45 37.7 44.9 37.9 44.6 37.7 43.9 37.9 43.1 38.9 42.2 40.1 42.1 41.1 42.6 47.1 40 52.1 38.5 64.1 35.8 72.1 34.8Z M129.2 40.9 130.9 40.6 132.6 40.9 134.3 41.6 135.6 42.6 136.6 43.9 137 45.1 136.9 46.6 136.2 47.6 135.1 48.4 133.6 48.6 132.4 48.3 130.9 47.3 129.1 45.1 128.1 42.9 128.2 41.6Z M132.1 51.1 133.1 51.1 134 51.6 134.4 52.4 134.4 53.7 138.6 53.7 141.9 54.8 143 56.1 143.1 56.9 142.9 57.6 141.6 58.5 139.4 58.9 137.5 58.6 135.2 57.6 133.5 56.1 132.9 54.6 131.6 54.3 130.7 53.4 130.8 52.1Z M175.4 52.6 179.6 52.7 185.1 53.5 188.6 54.6 189.6 55.4 189.7 55.9 189.1 56.6 186.9 57.9 179.1 60.6 176.1 62.2 172.1 65.4 163 74.6 159.6 76.9 156.2 78.6 149.6 81.1 141.2 83.6 137.6 84.3 130.9 85.1 127.1 85.3 119.9 85.2 115.7 84.6 114.5 84.1 114 83.6 114 83.1 114.4 82.6 116.1 81.9 120.1 81.2 127.4 78.8 139.6 75.8 143.9 74.5 145.4 73.6 146.4 72.7 147.2 71.4 146.6 69.1 147.3 66.4 144.5 62.1 144.8 61.1 145.8 60.4 151.2 58.1 161.9 54.6 169.8 53.1Z M31 70.1 31.9 70.3 34.4 72.9 35.4 73.6 38.6 74.8 41.9 75.5 47.6 75.5 53.8 73.6 63.9 72.5 68.1 72.6 73.3 73.4 77.3 74.6 81 76.4 83.3 78.1 84.9 80.1 85.9 80.7 86.2 81.6 85.3 82.9 83.4 83.5 82.1 83.3 79.6 84 76.9 84 71.6 84.4 63.1 83.9 57.1 83 49.1 81.2 43.1 79.3 37.9 77 35.4 75.7 33.6 74.5 30.8 71.4 30.6 70.6Z"/>
<path fill="#fff4ae" fill-rule="evenodd" d="M192.4 32.9 198.1 33.6 204.4 36.1 210.4 39.9 215.6 44.7 219.4 49.6 222.9 54.9 225.9 61.3 226.5 64.1 226.5 66.6 225.6 68.9 224.4 70.4 223.1 71.1 221.4 71.3 219 70.6 216.3 69.4 207 62.6 202.8 58.9 200.9 56.8 199.6 54.9 198.4 52.2 196.8 45.4 195.2 40.9 194.3 39.1 190.7 34.1 190.9 33.3Z M72.1 34.9 80.1 34.4 91.4 34.4 96.9 35 105.4 37 106.9 38.2 111 39.9 111.5 40.4 111.6 40.9 110.9 41.5 108.1 41.8 106.4 42.5 100.1 43 85.4 41.5 80.6 40.4 76.4 39.8 69.9 39.4 66.9 39.7 53.1 42.8 44.2 45.1 41.1 45.2 37.6 46.3 36.1 47.2 34.6 47.1 34 46.1 34.2 44.9 35.1 44.2 36.4 44.3 37.4 45.4 38.1 45 37.9 43.6 38.2 42.9 38.9 42.4 40.1 42.2 41.1 42.7 47.4 40 52.4 38.5 64.1 36Z M129.6 41.6 132.4 41.6 134.9 43 135.6 43.9 136.2 45.1 136.1 46.2 135.6 47 134.7 47.6 133.6 47.8 132.4 47.4 131.4 46.7 130.1 45.2 129.1 43.2 129 42.1Z M30.5 47.1 31.4 46.9 32.1 47.2 32.8 48.1 32.5 48.6 31.6 49.3 30.4 49 29.8 48.1Z M131.8 51.4 133.1 51.2 134 51.9 134.3 53.1 133.9 54 132.4 54.5 131 53.6 130.8 52.4Z M174.7 53.4 179.4 53.4 182.9 53.9 186.3 54.9 187.1 55.4 187.4 55.9 186.8 56.6 185.6 57.4 178.6 60 174.9 62.2 171.6 64.9 163.1 73.6 158.6 76.6 154.4 78.6 145.2 81.9 137.5 83.6 126.9 84.5 120.1 84.2 117.6 83.4 117.8 82.9 118.3 82.6 127.4 79.6 142.1 75.8 144.4 74.9 145.9 74 147.6 71.9 146.9 69.1 147.1 67.6 147.8 66.1 146.1 63.3 145.7 61.9 146 61.4 147.7 60.4 151.8 58.6 162.6 55.1 169.4 53.9Z M135 54.4 136.4 54.1 139.9 54.9 141.8 55.9 142.1 56.9 141.4 57.6 139.9 58 136.6 57.6 135.1 56.7 134.1 55.4 134.1 54.9Z M30.9 70.4 31.4 70.2 31.9 70.4 34.4 73.1 35.6 73.9 38.6 75.1 41.6 75.8 64.4 76.5 69.6 76.2 75.1 75.3 76.9 75.4 80.5 77.1 83.6 80 85.5 80.9 85.8 81.6 85.4 82.4 84.6 82.8 82.4 83 79.9 83.9 76.9 83.9 71.6 84.3 62.9 83.8 57.4 82.9 49.1 81.1 43.1 79.1 37.9 76.9 33.9 74.6 31.1 71.6 30.7 70.9Z"/>
<path fill="#fedb8c" fill-rule="evenodd" d="M78.8 34.6 91.6 34.5 96.9 35.1 105.3 37.1 106 37.6 105.9 37.9 106.2 38.1 110.7 40.6 110.1 41 108.4 41.1 107.4 41.9 106.1 42.3 100.3 42.4 85.5 40.9 80.9 39.8 76.9 39.2 69.6 38.9 66.6 39.2 53.1 42.2 44.4 44.8 42.9 44.9 41.4 44.6 40.6 45.3 39.4 45.5 38.6 45.2 38 44.1 38.2 43.1 39.1 42.4 40.1 42.3 41.1 42.8 47.4 40.1 57.1 37.5 67.6 35.6Z M204.9 39.9 206.1 39.7 207.4 39.9 210.5 41.1 211.6 41.9 215.4 45.5 218.6 50.5 219.9 53.2 220.6 55.8 220.9 60.4 220.7 61.9 220.1 63 218.3 64.6 217.4 64.9 215.6 64.8 213.4 64.1 211.7 63.1 207.1 58.9 204.6 55.3 202.4 50.1 201.9 48 201.6 45.1 201.9 43.4 202.6 41.6 203.6 40.5Z M35 44.4 36.2 44.4 37.1 45.1 37.2 46.1 36.4 47 35.1 47.1 34.2 46.4 34.2 45.1Z M132.3 44.4 132.9 44.3 133.4 44.9 133.1 45.1 132.6 45Z M30.8 47.1 31.6 47.1 32.4 47.6 32.5 48.4 32.1 48.9 31.1 49.2 30.1 48.6 30 47.9Z M132 51.4 133.2 51.4 134.1 52.1 134.1 53.4 133.4 54.2 132.1 54.3 130.9 53.4 130.9 52.4Z M135.3 54.6 136.4 54.5 137.7 54.9 138.6 55.6 138.8 56.6 137.6 57.2 135.9 56.8 134.8 55.6 134.9 55.1Z M155.2 61.6 158.4 61.6 161.6 62.7 162.7 63.9 163.5 65.6 163.2 68.1 161.7 70.6 160.1 72 158.6 72.9 154.9 74 152.9 74.1 150.6 73.7 148.9 72.6 147.6 70.9 147.2 69.4 147.6 67.1 149.1 64.9 150.6 63.6 152.9 62.3Z M31.1 70.4 31.9 70.6 34.3 73.1 35.4 73.9 38.9 75.4 41.6 76.2 46.6 76.2 48.4 76.6 53.1 76.9 64.1 77.2 69.4 76.8 75.1 76 76.9 76.1 79.8 77.4 82.1 78.9 83.1 79.8 83.6 80.6 84.8 81.1 85.1 81.6 84.4 82.3 82.9 82.4 80.9 83.1 80.6 83.5 79.9 83.8 71.6 84.2 63.1 83.7 57.4 82.8 49.1 81 43.1 79 38.1 76.9 33.9 74.4 31.1 71.4 30.9 70.9Z M137.7 79.4 140.6 79.4 142.1 79.7 142.6 80.1 142.1 80.6 139.8 81.6 135.3 82.9 129.9 83 128.2 82.6 128.7 81.9 130.9 80.9Z"/>
<path fill="#fdb76a" fill-rule="evenodd" d="M79.8 34.6 91.6 34.6 97.9 35.4 105.4 37.4 105.7 37.6 105.3 38.1 107.4 39.3 108.1 40.6 107.9 41.1 107 41.6 104.6 42 100.8 41.4 98.3 40.4 97.1 39.6 93.9 40 88.6 40 82.6 39.3 72.9 38.6 69.6 38.6 65.6 39.1 53.6 41.8 44.1 44.7 42.6 44.8 41.4 44.4 40.6 45.2 39.6 45.4 38.6 45 38.1 44.1 38.3 43.1 39.1 42.5 40.1 42.4 41.1 43 47.4 40.3 57.1 37.6 67.9 35.6Z M207.9 42.4 209.9 42.6 212.6 44.4 214.6 46.7 216.1 49.2 217.1 52.1 217.5 54.6 217.1 56.6 215.9 57.9 213.9 57.9 211.8 56.9 209.1 54.1 207.4 51.2 206.4 48.4 206 45.6 206.6 43.4Z M34.8 44.6 35.9 44.4 36.8 44.9 37.1 45.9 36.7 46.6 35.6 47 34.5 46.6 34.2 45.6Z M30.5 47.4 31.1 47.2 32 47.4 32.4 47.9 32.2 48.6 31.4 49.1 30.5 48.9 30.1 48.1Z M131.8 51.6 132.9 51.4 133.8 51.9 134.1 52.9 133.6 53.9 132.4 54.2 131.2 53.6 131 52.6Z M135.7 55.1 137.4 55.4 138 55.9 138.1 56.4 137.4 56.7 136.2 56.4 135.5 55.6Z M156.8 61.9 160.4 62.6 161.4 63.2 162.4 64.3 162.9 65.4 163 66.6 162.1 69.3 159.6 71.9 156 73.4 153.1 73.6 150 72.9 148.4 71.4 147.7 69.9 147.8 68.1 148.4 66.7 149.6 65 151.9 63.1 154.1 62.3Z M31.1 70.6 31.4 70.5 31.9 70.7 34.1 73.1 35.4 74 38.9 75.5 41.6 76.3 46.6 76.4 50.9 77.2 60.4 78.1 68.1 77.8 71.1 78.1 72.9 78.5 74.1 79.1 75.4 80.1 75.6 79.3 76.4 78.6 77.6 78.2 78.9 78.2 80.7 78.6 82.1 79.3 83.1 80.4 83.3 81.1 82.6 82.1 80.4 82.8 80.5 83.4 79.4 83.7 76.9 83.6 71.1 84.1 63.1 83.6 57.4 82.7 49.1 80.9 43.1 78.9 38.3 76.9 34.1 74.5 31.4 71.6Z"/>
<path fill="#f88b51" fill-rule="evenodd" d="M78.6 34.9 91.9 34.8 98.1 35.6 102.7 36.6 105.2 37.6 103.4 38.3 100.6 38.6 98.6 39.3 93.6 39.9 88.6 39.9 73.1 38.5 69.1 38.5 65.4 39 53.9 41.6 50.1 42.6 45.1 44.4 42.9 44.7 41.4 44.3 40.6 45.1 39.6 45.3 38.6 44.9 38.2 44.1 38.4 43.2 39.1 42.6 40.1 42.6 41.1 43.1 47.4 40.4 57.4 37.6 67.6 35.8Z M35 44.6 35.9 44.5 36.6 44.9 37 45.9 36.6 46.6 35.6 46.9 34.5 46.4 34.3 45.4Z M30.8 47.4 31.4 47.3 32.1 47.6 32.3 48.1 32.1 48.6 31.4 49 30.4 48.6 30.2 47.9Z M132 51.6 133.1 51.6 133.8 52.1 134 53.1 133.4 53.9 132.4 54.1 131.2 53.4 131.2 52.4Z M153.2 62.9 155.1 62.7 157.1 63.2 158.1 63.9 159 65.4 159.1 66.9 158.4 68.5 156.9 69.9 155.3 70.6 153.1 70.7 151.5 70.4 150.4 69.4 149.6 67.9 149.6 66.8 150.4 64.9 151.6 63.6Z M31.2 70.9 31.4 70.7 31.9 70.9 33.9 73.1 35.1 74 39.9 76 42.1 76.5 46.6 76.5 51.4 77.4 56.4 78 60.4 78.2 68.4 78 71.6 78.3 74.1 79.2 77.1 81.7 80.2 83.1 80.1 83.4 79.4 83.6 76.9 83.5 71.4 84 63.1 83.5 58.9 82.9 49.5 80.9 41.1 78 36 75.6 34.1 74.3 31.6 71.7Z"/>
<path fill="#ec5c3b" fill-rule="evenodd" d="M79.6 34.9 91.9 34.9 97.7 35.6 103.1 36.9 104.6 37.4 104.7 37.6 99.4 38.9 93.6 39.7 88.6 39.7 72.9 38.3 69.4 38.3 65.4 38.9 53.9 41.5 50.1 42.4 44.4 44.4 42.9 44.5 41.4 44.1 40.6 44.9 39.6 45.1 38.8 44.9 38.3 44.1 38.4 43.4 39.1 42.8 40.1 42.7 41.1 43.2 47.6 40.4 57.1 37.8 67.9 35.9Z M34.8 44.9 35.6 44.6 36.4 44.9 36.8 45.6 36.6 46.4 35.6 46.8 34.6 46.4 34.4 45.6Z M30.6 47.6 31.6 47.5 32.1 47.9 32.1 48.4 31.6 48.8 30.9 48.8 30.4 48.3Z M131.8 51.9 132.9 51.7 133.6 52.1 133.9 52.9 133.5 53.6 132.6 54 131.6 53.6 131.2 52.9Z M152.7 63.1 153.9 62.9 155.4 63.3 156.6 64.2 157.3 65.1 157.5 66.4 157.3 67.6 156.4 68.7 155.1 69.4 152.6 69.4 151.1 68.5 150.3 67.1 150.2 66.1 150.6 64.9 151.8 63.6Z M31.5 71.1 32.1 71.4 32.4 72 31.9 71.7Z M33.9 73.6 38.9 75.8 41.9 76.6 46.6 76.6 51.4 77.6 56.1 78.1 60.4 78.3 68.6 78.1 72.4 78.6 74.1 79.4 77.4 82 79.8 83.1 79.4 83.4 71.1 83.9 63.1 83.4 57.4 82.5 49.4 80.7 43.1 78.6 36.3 75.6 34.5 74.4Z"/>
<path fill="#d73027" fill-rule="evenodd" d="M78.8 35.1 91.9 35 98.2 35.9 102.6 36.9 104 37.4 104.1 37.6 96.1 39.3 92.4 39.6 88.6 39.6 72.9 38.2 69.1 38.2 65.4 38.7 53.9 41.3 50.1 42.3 44.9 44.1 42.7 44.4 41.1 43.8 40.7 44.6 39.9 45 39.1 44.9 38.5 44.1 38.6 43.4 39.3 42.9 40.2 42.9 41.1 43.5 47.5 40.6 57.6 37.9 67.6 36.1Z M35.1 44.9 35.9 44.8 36.4 45.1 36.7 45.9 36.4 46.4 35.5 46.6 34.7 46.1 34.6 45.4Z M30.9 47.6 31.6 47.6 31.9 48.4 30.9 48.6 30.5 48.1Z M132.1 51.9 133.1 51.9 133.6 52.4 133.7 53.1 133.3 53.6 132.4 53.8 131.6 53.4 131.4 52.6Z M153.4 63.1 155.6 63.6 156.7 64.6 157.2 65.6 157.3 66.9 156.9 67.9 156.2 68.6 154.6 69.4 152.9 69.3 151.6 68.7 150.9 68 150.4 66.8 150.4 65.9 151 64.6 152.1 63.6Z M35.6 74.9 36.5 74.9 38.9 76 41.9 76.7 46.6 76.8 51.4 77.7 56.1 78.2 60.4 78.5 68.4 78.3 71.7 78.6 73.9 79.4 77.1 82 79.3 83.1 71.4 83.7 63.1 83.2 58.9 82.6 49.4 80.5 41.1 77.7Z"/>
<rect x="30" y="50" width="100" height="20" fill="#fff"/>
<rect x="10.25" y="5.40" width="24.40" height="21.10" fill="#fff"/>
<text x="13.55" y="19.60" font-family="'Liberation Serif','Times New Roman',serif" font-weight="bold" font-style="italic" font-size="15.5">(b)</text>
<path d="M40.0 120.5V111.7M80.0 120.5V111.7M120.0 120.5V111.7M160.0 120.5V111.7M200.0 120.5V111.7M0 20.0H8.8M0 60.0H8.8M0 100.0H8.8" stroke="#000" stroke-width="1.9" fill="none"/>
<path d="M10.0 120.5V115.8M20.0 120.5V115.8M30.0 120.5V115.8M50.0 120.5V115.8M60.0 120.5V115.8M70.0 120.5V115.8M90.0 120.5V115.8M100.0 120.5V115.8M110.0 120.5V115.8M130.0 120.5V115.8M140.0 120.5V115.8M150.0 120.5V115.8M170.0 120.5V115.8M180.0 120.5V115.8M190.0 120.5V115.8M210.0 120.5V115.8M220.0 120.5V115.8M230.0 120.5V115.8M0 10.0H4.6M0 30.0H4.6M0 40.0H4.6M0 50.0H4.6M0 70.0H4.6M0 80.0H4.6M0 90.0H4.6M0 110.0H4.6" stroke="#0a0a20" stroke-width="0.85" fill="none"/>
<rect x="0.5" y="0.7" width="239.7" height="119.5" fill="none" stroke="#000" stroke-width="1.6"/>
<text x="118.15" y="38.60" font-family="'Liberation Serif','Times New Roman',serif" font-weight="bold" font-size="15.5">UTa</text>
<text x="143.05" y="53.00" font-family="'Liberation Serif','Times New Roman',serif" font-weight="bold" font-size="15.5">UTb</text>
</g>
<g transform="translate(37.20 193.65)">
<rect x="0" y="0" width="240" height="120" fill="#4575b4"/>
<path fill="#679ec9" fill-rule="evenodd" d="M194.1 26.5 200.4 26 203.6 26.2 207.6 27 210.6 28 214.9 30 218.6 32.2 223.9 36.2 226.6 38.8 230.5 43.1 233.7 47.4 235.8 50.9 238 55.4 239 58.9 239.6 63.9 239.3 68.4 238 72.4 236.1 74.7 234.4 75.6 231.6 75.8 228.4 75.1 225.9 73.8 223.6 72 218.9 67.5 207.6 56.4 206.5 54.6 205.8 52.9 205.4 44.9 203.9 41 201.9 38.5 199.8 36.4 191.9 31.7 190.5 30.1 190.5 28.6 191.9 27.2Z M94 31.6 100.9 31.8 104.4 32.2 111.6 33.4 116.1 34.7 117.6 35.3 118.7 36.4 119.2 37.6 119.1 38.9 117.4 41.6 110.9 45.8 105.9 47.5 95.9 49.5 84.6 50.5 82.4 50.3 81.1 49.7 80.3 48.9 79.1 45.5 77.6 43.4 75.9 42.4 73.6 42.1 70.1 42.5 68.6 43.4 67.6 44.9 67 48.4 66.5 49.6 65.1 51.1 63.4 51.7 58.1 51.9 36.9 51.6 32.1 51.9 30.1 51.5 29.4 50.9 29 49.9 29 48.4 29.8 46.9 31.6 45 33.6 43.5 39.1 40.3 48.9 36.7 55.9 35 63.6 33.7 79.1 32.3Z M133.4 40.4 135.4 40.2 138.1 41 140.4 42.2 142.2 43.9 144.9 48.2 149.2 52.6 151.3 55.4 151.6 56.6 151.4 58.1 151 59.1 149.9 60.3 147.9 61.5 145.1 62.2 142.9 62.5 138.4 62.5 133.9 61.3 132.1 60.2 130.8 58.9 129.3 56.6 128.5 53.6 128.2 50.6 128.5 46.6 129 44.6 129.8 43.1 131.6 41.3Z M190.3 47.9 196.6 48 201.6 49.5 204.1 51 205.1 52.1 205.6 53.6 205.3 55.1 204.1 56.3 202.6 56.7 192.1 55.4 189.4 55.6 185.9 56.8 183.6 59.1 182.2 59.9 181.1 60.9 179.2 65.1 177.2 68.4 174 72.6 171.4 75.3 168.6 77.5 163.6 81 159.9 83 155.6 84.8 147.4 87 136.6 88.1 127.9 88.1 123.1 87.8 120.6 87.2 119.3 86.1 119.1 84.9 119.6 83.8 121.1 82.7 123.4 81.7 127.9 80.5 144.6 78.1 149.7 76.9 151.6 75.9 152.6 74.9 152.9 73.9 151 69.4 150.7 67.1 150.7 64.4 151 63.1 151.8 61.9 153.9 60.2 157.9 58.7 167.6 57.1 172.3 55.9 175.6 54.4 178 52.6 179.1 51.3 181.4 50 184.4 49Z M29.9 68.9 31.4 68.3 32.1 68.5 34.7 70.6 37.1 72.2 39.1 71.7 41.4 72 43.1 71 44.9 70.6 46.6 70.8 48.4 71.4 49.8 72.6 50.5 74.4 50.5 75.6 49.6 77.3 49.2 79.1 48.5 80.1 47.4 81 45.1 81.5 43.9 81.3 42.6 80.7 41.6 79.9 41.1 79 39.4 79.5 37.4 79.1 36.4 78.1 35.6 76.1 31.4 73.1 29.5 71.4 29.2 69.9Z M69 69.1 73.9 69.1 78.6 69.7 82.9 71 85.9 72.5 88.6 74.6 90.1 76.9 90.6 79.4 89.8 81.9 88.9 82.9 87.6 83.8 84.4 85 77.4 86.3 71.6 86.6 65.6 86.5 55.9 85 52.9 84 51.1 82.6 50.2 80.6 50.5 78.4 52 75.6 54.1 73.3 56.4 71.9 59.4 70.8 65.1 69.5Z"/>
<path fill="#8dc1dc" fill-rule="evenodd" d="M196.8 27.4 200.1 27.1 204.1 27.5 208.1 28.3 210.6 29.2 214.6 31.2 218.4 33.5 223.4 37.3 228.5 42.4 232.5 47.6 234.5 50.9 236.8 55.6 237.7 58.4 238.4 63.4 238.3 67.4 237.3 71.1 235.6 73.5 233.9 74.5 231.9 74.6 228.9 74 226.4 72.7 219.6 66.6 208.5 55.6 207.5 54.1 207 52.6 206.6 45.4 205.9 42.5 204.9 40.4 202.9 37.9 200.4 35.4 192.9 30.9 191.9 29.9 192 28.9 192.8 28.1Z M91.7 32.6 97.1 32.5 99.9 33.2 104.4 33.7 111.9 35 116.8 36.6 117.7 37.9 117.8 39.4 117.3 40.4 116.4 41.2 114.4 41.9 111.6 43.7 108.9 45 101.6 47 95.9 48.1 84.9 49 82.9 48.9 81.5 47.9 80.3 44.6 78.4 42.1 76.6 41.1 73.4 40.7 69.7 41.1 67.6 42.2 66.4 44.1 65.2 48.9 64.4 49.8 63.1 50.3 58.1 50.5 36.4 50.2 32.4 50.4 31.1 50.8 30.4 50.7 29.9 50.1 30.2 48.6 31.6 47 33.4 45.4 37.4 42.9 38.6 41.2 40.1 40.6 41.9 40.8 43.9 40 45.6 38.5 46.9 38 49.2 38.1 55.9 36.4 63.9 35.1 75.9 34 87.9 33.3Z M133.6 41.4 135.4 41.2 137.9 42 139.9 43.1 141.5 44.6 144.1 48.9 148.3 53.1 150.3 55.6 150.5 57.6 150.1 58.6 149.4 59.4 147.6 60.5 145.1 61.2 142.9 61.5 138.6 61.5 134.6 60.5 133.1 59.7 131.7 58.4 130.3 56.4 129.5 53.6 129.2 50.9 129.5 47.4 129.8 45.4 130.5 43.9 132.1 42.2Z M190.4 49.1 195.6 49.1 200.1 50.3 202.1 51.2 203.6 52.3 204.2 53.4 204.1 54.4 203.4 55.2 202.1 55.4 193.6 54.2 190.6 54.2 188.1 54.6 185.1 55.8 180.4 60.2 178.4 64.4 176.8 67.1 172.4 72.9 167.9 76.8 163.1 80.1 159.6 81.9 152.1 84.8 147.1 86 141.1 86.7 136.1 87.1 127.4 87 122.4 86.6 121.1 86.2 120.5 85.6 120.5 84.6 121.4 83.8 123.6 82.8 126.9 81.8 143.6 79.4 151.1 77.4 153.1 75.9 153.9 74.4 153.8 73.1 152.1 69.4 151.6 66.4 152.1 63.4 153.6 61.6 158.1 59.7 167.6 58.2 172.5 56.9 176 55.4 180.1 52.1 182.1 51 184.6 50.2Z M30.9 68.9 31.9 69 34.8 71.4 38.1 73.3 39.9 73.1 41.6 74 42.6 72.8 44.1 72.1 45.9 72 47.6 72.6 48.6 73.4 49.1 74.4 48.8 76.1 49.1 77.6 48.8 78.9 48.1 79.8 47.1 80.5 45.1 80.9 43.9 80.7 42.4 79.9 41.8 79.1 41.4 77.8 40.1 78.8 37.9 78.7 36.8 77.6 36.6 76.1 31.9 72.8 30 71.1 29.8 69.9Z M64.9 71 73.1 70.5 76.6 70.8 79.9 71.5 83.9 73 86.4 74.6 88.3 76.6 89.1 78.6 88.8 80.6 87.4 82.2 84.4 83.5 77.9 84.7 71.9 85.2 65.9 85.1 58.1 83.9 54.1 83 52.1 81.5 51.7 79.9 52.2 78.1 53.8 75.6 55.6 74 57.6 73 60.1 72.1Z"/>
<path fill="#b5deec" fill-rule="evenodd" d="M193.4 28.5 200.1 27.7 204.1 28 208.1 28.9 210.6 29.8 214.6 31.8 218.1 33.9 222.9 37.6 228.2 42.6 232.2 48.1 234.2 51.4 236.4 55.9 237.2 58.4 237.9 63.4 237.8 67.1 236.9 70.6 235.3 73.1 233.6 74 231.6 74.1 228.9 73.4 226.6 72.2 219.9 66.2 208.9 55.4 207.5 52.6 207.1 45.1 206.4 42.5 205.4 40.3 203.3 37.6 200.9 35.1 193.5 30.6 192.7 29.9 192.7 29.1Z M92.3 32.9 97.4 32.9 99.9 33.5 103.6 33.8 111.6 35.2 114.6 36.2 116.9 37.4 117.4 38.1 117.4 39.4 116.9 40.3 116.1 40.9 113.6 41.6 110.6 43.5 107.9 44.7 100.9 46.5 95.6 47.4 84.9 48.4 83.1 48.2 82 47.4 80.8 44.1 78.5 41.4 76.4 40.3 73.1 40 69.4 40.5 67.1 41.8 65.7 44.1 64.7 48.4 64.1 49.1 63.1 49.6 58.4 49.8 51.6 49.6 32.6 49.6 31.1 50.6 30.4 50.4 30.1 49.9 30.5 48.6 32.4 46.6 37.5 43.1 38 42.1 38.9 41.3 40.4 40.8 42.1 41 43.9 40.3 45.6 38.7 46.9 38.2 49.4 38.3 56.4 36.6 64.9 35.3 79.1 34.1 86.4 33.7Z M133.6 41.9 135.1 41.7 137.1 42.2 139.4 43.3 140.9 44.6 143.9 49.3 147.9 53.4 149.7 55.6 150.1 57.4 149.1 59 147.6 60 145.1 60.7 142.9 61.1 138.9 61.1 134.9 60.1 133.4 59.3 132.1 58.2 130.9 56.6 130.2 54.6 129.7 51.9 129.8 48.4 130.2 45.9 130.7 44.4 132.1 42.8Z M189.6 49.9 194.6 49.7 197.9 50.2 202.1 52 203.2 52.9 203.5 53.9 203.1 54.5 202.1 54.8 193.6 53.6 190.6 53.6 187.9 54.1 184.9 55.2 180 59.9 177.9 64.4 176.3 67.1 173.3 71.1 170.6 74 167.9 76.2 162.9 79.7 159.1 81.7 155.4 83.3 151.9 84.4 147.1 85.5 136.6 86.6 127.1 86.6 122.9 86.2 121.8 85.9 121.1 85.4 121.2 84.6 122.4 83.8 127.1 82.2 144.1 79.7 151.2 77.9 153.5 76.1 154.4 74.4 154.2 72.9 152.5 69.4 152.1 66.6 152.5 63.6 153.9 62 158.4 60.1 167.5 58.6 172.6 57.3 176 55.9 180.6 52.5 182.4 51.6 184.6 50.9Z M30.8 69.1 31.9 69.2 34.5 71.4 38.4 73.9 39.6 73.8 40.5 74.1 41.6 76.9 42.2 75.6 42.3 74.1 43.1 73.2 45.1 72.6 47.4 73.2 48.1 73.9 48.4 74.6 48.2 75.6 48.9 77.4 48.5 78.9 47.1 80.3 45.1 80.7 43.9 80.5 42.4 79.6 41.8 78.6 41.4 77 41 77.9 40.4 78.5 39.1 78.7 37.9 78.5 37 77.6 36.9 76.1 31.9 72.6 30.3 71.1 30 70.1Z M67.4 71.4 71.1 71.1 75.6 71.3 79.1 72 82.9 73.3 85.4 74.6 87.5 76.6 88.4 78.6 88.1 80.4 86.6 81.9 83.6 83.1 77.1 84.2 71.6 84.6 66.6 84.5 59.6 83.7 54.9 82.7 52.6 81.4 52.4 79.6 52.9 78.1 54.2 76.1 55.9 74.6 59.9 72.8Z"/>
<path fill="#dbf1f7" fill-rule="evenodd" d="M199.8 28.1 203.9 28.4 208.1 29.3 214.3 32.1 217.4 33.9 222.4 37.7 226.4 41.2 228.9 44 234.1 52.2 236.1 56.4 236.8 58.9 237.5 63.6 237.3 67.1 236.4 70.6 234.9 72.9 233.4 73.6 231.4 73.6 228.9 72.9 226.6 71.7 220.2 65.9 209.1 54.9 207.9 52.4 207.5 44.9 206.8 42.4 205.8 40.1 203.7 37.4 201.1 34.8 194.1 30.4 193.4 29.6 193.6 29.1 194.9 28.7Z M92.3 33.1 97.1 33.1 111.4 35.3 114.4 36.3 116.4 37.4 117.1 38.1 117.2 39.1 116.7 40.1 115.9 40.7 112.9 41.4 109.6 43.4 105.9 44.7 95.9 46.8 84.6 47.8 83.4 47.6 82.7 47.1 81 43.4 79.6 41.6 78.1 40.4 76.9 39.9 74.9 39.5 70.9 39.6 68.1 40.4 66.3 41.9 65 44.1 64.3 47.9 63.6 48.6 62.9 49 57.9 49.2 33.1 48.9 31.4 50.4 30.6 50.4 30.2 49.9 30.6 48.6 32.4 46.8 37.6 43.2 38.1 42.2 38.9 41.5 40.4 40.9 42.1 41.2 44.1 40.4 45.4 39.1 46.9 38.3 47.9 38.2 49.4 38.5 56.1 36.8 64.6 35.5 75.6 34.5 77.1 34.6 78.9 34.3 80.9 34.4 82.6 34 86.4 33.9Z M134.1 42.1 135.6 42.1 137.8 42.9 139.4 43.7 140.9 45.1 143.6 49.6 147.6 53.6 149.4 55.8 149.7 57.4 148.7 58.9 147.1 59.8 144.9 60.4 138.9 60.7 134.9 59.7 133.4 58.9 132.3 57.9 131.1 56.4 130.5 54.6 130.1 51.4 130.3 47.9 130.6 45.6 131.1 44.5 132.6 42.9Z M191.3 50.4 194.9 50.4 197.7 50.9 201.4 52.4 202.3 53.1 202.5 53.6 201.6 53.9 193.9 52.9 191.1 52.8 188.1 53.2 184.4 54.7 183.1 55.7 182.3 57.4 179.7 59.6 177.6 64.1 176.2 66.6 172 72.1 167.4 76.1 162.7 79.4 159.1 81.3 151.6 84.1 147.1 85.1 141.1 85.9 136.1 86.2 127.9 86.2 123.1 85.8 121.8 85.1 122 84.6 123.2 83.9 127.1 82.6 144.1 80.1 151.4 78.2 153.8 76.4 154.8 74.4 154.5 72.6 152.9 69.4 152.5 66.9 152.8 63.9 154.1 62.3 158.4 60.5 167.6 59 172.6 57.7 176.1 56.3 180.3 53.4 183 52.1 186.7 51.1Z M30.7 69.4 31.4 69.2 31.9 69.4 34.6 71.6 37.9 73.6 38.6 74.6 39.4 74.5 40.1 74.9 41.2 76.4 40.8 77.9 39.6 78.6 38.4 78.5 37.6 78.1 37.1 77.4 37 75.9 32.1 72.6 30.5 71.1 30.1 70.1Z M68.3 71.9 72.9 71.7 76.1 72 79.2 72.6 82.6 73.8 85 75.1 86.9 76.9 87.7 78.6 87.5 80.1 86.3 81.4 83.9 82.4 78.4 83.7 72.6 84.3 67.1 84.3 59.6 83.4 55.1 82.5 52.8 81.4 52.6 80.6 53.4 78.4 54.9 76.3 56.6 74.9 60.4 73.3 64.9 72.3Z M44.5 73.4 45.9 73.3 47.2 73.9 48.7 76.9 48.7 77.9 48.2 79.1 47.4 80 46.1 80.5 44.6 80.5 43.4 80.1 42.4 79.4 41.8 78.1 41.8 76.6 42.9 75.1 43 74.4 43.6 73.7Z"/>
<path fill="#f4fbd4" fill-rule="evenodd" d="M195.4 29.3 200.4 28.7 203.9 29 207.9 29.8 210.2 30.6 217.1 34.4 225.3 40.6 227.6 43 230.4 46.7 233.4 51.9 235.4 55.9 236.2 58.4 237 63.1 236.9 66.8 236.1 70 234.6 72.3 233.4 73 231.6 73.1 229.1 72.5 227.1 71.4 220.6 65.6 209.6 54.7 208.4 52.1 208 44.9 207.2 42.1 206.2 39.9 204.1 37.1 201.6 34.5 194.9 29.9Z M92.1 33.4 97.1 33.3 103.6 34.1 111.4 35.4 114.4 36.5 116.2 37.6 116.8 38.4 116.9 39.1 116.4 40 115.6 40.5 111.9 41.1 108.8 42.9 105.1 44.1 95.6 46.1 84.6 46.9 83.9 46.8 83.2 46.4 81.6 42.9 80.1 41.1 78.6 39.8 77.4 39.2 75.4 38.7 71.4 38.8 68.1 39.5 65.9 41.1 64.4 43.6 63.5 47.4 62.6 48.2 58.1 48.4 38.9 48.2 35.4 48 34.4 47.6 31.6 50.2 30.9 50.3 30.4 49.9 30.8 48.6 32.6 46.7 37.6 43.4 38.9 41.6 40.4 41.1 42.1 41.3 44.1 40.5 45.4 39.2 46.9 38.5 47.9 38.3 49.2 38.6 56.4 36.9 64.9 35.6 71.9 35.3 75.6 34.7 77.1 35 79.1 34.4 81.1 34.7 82.6 34.2 86.1 34.1Z M133.9 42.6 135.4 42.5 137.3 43.1 138.9 43.9 140.3 45.1 143.4 49.9 148.9 55.8 149.2 57.1 148.6 58.4 146.9 59.4 144.9 60 142.6 60.3 138.6 60.3 134.6 59.1 131.9 57 130.9 55.4 130.5 53.4 130.8 46.6 131.6 44.5 132.9 43.2Z M180.8 53.6 181.6 53.4 182.2 53.9 182.5 55.1 182.3 56.4 179.2 59.6 177.1 64.2 174.4 68.4 171.9 71.6 169.5 73.9 161.8 79.4 154.7 82.6 151.5 83.6 145.6 84.9 140.9 85.5 135.1 85.7 127.4 85.7 123.9 85.3 123.1 84.9 124 84.1 127.6 83 144.4 80.5 151.6 78.6 154.1 76.6 154.8 75.6 155.2 74.4 155.1 72.9 153.4 69.4 153 67.1 153.1 64.4 154.1 62.9 155.3 62.1 158.6 60.9 167.6 59.4 173.1 58 176.6 56.5Z M31 69.4 31.9 69.6 34.4 71.6 37.9 73.8 38.6 74.9 39.4 74.8 40.5 75.4 41.1 76.6 40.7 77.9 39.4 78.4 38.4 78.4 37.6 78 37.1 77.1 37.2 75.9 31.9 72.2 30.4 70.9 30.3 70.1Z M68.4 72.6 75 72.6 78.1 73.1 81.3 74.1 84 75.4 85.6 76.6 86.7 78.1 86.8 79.6 86 80.6 83.1 82.2 78.6 83.5 72.6 84.1 67.1 84.1 58.6 83 54.4 82 53.1 81.5 52.8 81.1 52.8 80.4 54.1 77.9 57.4 75.3 61.2 73.9Z M43.4 75 45.4 74.4 46.6 74.7 48.4 76.4 48.6 77.4 48.4 78.4 47.8 79.4 46.9 80.1 45.6 80.4 44.1 80.3 42.9 79.7 42.2 78.9 41.8 77.6 42.1 76.4Z"/>
<path fill="#fff4ae" fill-rule="evenodd" d="M202.7 30.1 205.7 30.4 208.8 31.1 215 34.1 223.4 39.6 226.1 41.9 228.6 44.9 231.1 48.9 234.6 56.5 235.6 59.9 236.1 63.9 235.9 67.1 235.1 69.5 233.9 71.1 232.4 71.7 230.4 71.6 228.8 71.1 226.7 69.9 220.9 64.6 210.5 54.1 209.4 51.6 208.8 44.9 207.5 40.6 205.3 37.1 200.5 31.6 200.8 30.6Z M92 33.6 96.6 33.5 98.6 33.9 101.4 33.9 111.4 35.5 114.7 36.9 114.9 37.4 116.3 38.1 116.5 39.1 116 39.9 115.1 40.3 109.6 41.2 104.4 41 101.6 42 99.9 42.3 95.1 42.3 88.9 40.8 86.6 39.6 85.1 37.8 79.6 36.8 75.9 36.6 70.4 36.8 63.1 38.1 62.9 38.4 63.1 39.9 62.8 40.6 61.1 41.8 57.9 41.8 56.9 41.1 55.9 39.9 51.6 41 51.3 42.9 50.1 44.1 49.1 44.6 46.4 44.5 45.4 44 44.4 43 43.4 43.2 43.3 44.4 41.9 45.8 39.4 45.8 38.1 45 35.1 46.6 31.6 50 30.9 50.2 30.5 49.9 30.9 48.7 32.6 46.9 37.8 43.4 38.3 42.4 39.1 41.6 40.4 41.2 42.1 41.5 44.3 40.6 45.6 39.2 47.1 38.5 49.4 38.7 56.1 37 64.9 35.7 67.9 35.5 69.6 36 73.6 35.6 72.8 35.4 73.4 35.2 74.1 35.6 75.8 35.4 75.2 35.1 75.6 35 76.1 35.3 77.9 35.3 78.9 35.1 78.4 34.9 79.1 34.6 79.9 35.1 81.4 35 82.4 34.9 82 34.6 82.6 34.3Z M69.9 35.6 70.6 35.4 70.9 35.6 70.9 35.9Z M134.1 43.4 135.4 43.3 137.3 43.9 138.8 44.6 139.9 45.6 142.8 50.1 147.9 55.7 148.3 56.9 147.9 57.9 146.3 58.9 144.5 59.4 138.9 59.7 135.6 58.9 133.1 57.7 132.1 56.9 131.4 55.8 130.7 53.6 131.4 47.4 132.1 45Z M179.3 56.1 180.1 56.2 180.1 56.9 178.5 59.1 176.6 63.4 175.4 65.6 172.6 69.5 170.9 71.5 167.7 74.4 161.6 78.6 155 81.6 147.6 83.6 142.2 84.4 136.6 84.7 132.6 84.6 130.2 84.1 133.2 83.1 145.1 81.3 151.9 79.3 154.6 77.1 155.8 74.9 155.8 73.1 154.1 69.1 153.8 67.1 154 64.9 154.9 63.4 158.8 61.6 168.1 60.1 173.1 58.8 176.6 57.5Z M30.8 69.6 31.4 69.5 31.9 69.7 34.4 71.8 37.8 73.9 38.4 74.9 39.6 75 40.4 75.4 41 76.6 40.6 77.8 39.6 78.3 37.9 78 37.2 77.1 37.4 75.8 30.9 71.2 30.4 70.4Z M43.9 74.9 46.4 74.8 48.1 76.1 48.5 77.9 48.1 78.9 47.4 79.7 46.1 80.2 44.9 80.3 43.6 80 42.5 79.1 42 77.9 42.1 76.6 42.6 75.8Z M64.7 75.1 75.4 75 79.6 75.6 83.6 77.2 85.1 78.7 85.4 79.9 85 80.6 84.1 81.4 81.1 82.3 80.1 83 76.1 83.8 72.6 84 67.1 84 59.1 82.9 54.6 81.9 52.9 81.1 52.9 80.4 54.2 78.4 56.1 76.6 59.6 75.7Z"/>
<path fill="#fedb8c" fill-rule="evenodd" d="M87.6 34 96.4 33.7 101.4 34 111.1 35.6 113.7 36.6 112.5 37.1 115.1 38.1 115.9 38.9 115.6 39.4 114.9 39.8 109.4 40.6 104.6 40.4 102.1 41.7 100.6 42 99.1 42.1 94.9 41.9 91.1 41.1 88.2 40.1 86.3 38.9 85.4 37.3 78.8 35.9 86.4 35.4 86.4 35.1 84.2 34.6Z M64.8 35.9 68.1 35.9 62.1 37.1 61.9 37.4 62.4 37.7 62.8 38.4 62.9 39.9 62.4 40.9 61.4 41.5 59.6 41.7 57.6 41.5 56.6 40.6 56.1 39.3 55.6 39.3 51.3 40.4 51.4 41.9 50.9 43.1 49.6 44.1 48.4 44.5 46.9 44.5 45.6 44 44.6 43.1 44.1 41.9 43 42.4 43.2 44.1 42.1 45.5 41.4 45.7 39.6 45.7 38.1 44.5 34.9 46.7 31.6 49.9 31.1 50.1 30.7 49.9 30.9 48.9 32.9 46.8 37.9 43.5 38.4 42.4 39.6 41.5 40.9 41.3 42.1 41.6 44.4 40.7 45.5 39.4 47.1 38.6 49.1 38.9 56.4 37.1Z M216.1 36.9 216.9 36.7 220.3 38.4 224.6 41.6 227.6 44.9 229.9 48.2 230.9 50.3 232.6 55.5 233.4 59.7 233.5 61.9 233.1 64.3 232.6 65.6 231.9 66.4 231.4 66.4 230.9 66 224.4 58.7 220.9 53.8 218.1 47 216.4 40.1Z M134.3 45.1 135.6 45.2 136.7 46.1 136.9 47.1 136.1 48.2 134.4 48.5 132.9 47.6 132.6 46.9 132.9 46.1Z M133.2 49.6 134.4 49.5 136.1 50.2 137.3 51.1 138 52.1 138.3 53.1 138.2 54.9 137.5 56.4 136.1 57.4 134.4 57.7 133.3 57.4 132.1 56.4 131 54.4 130.8 52.9 131.1 51.6 132.1 50.2Z M165.7 61.6 168.3 61.6 169.6 62.1 170.6 63 171.1 64.3 171.2 65.9 170.4 68.3 169.1 70.3 167.4 72.1 164 74.4 162.8 74.9 160.7 75.1 159.4 75.1 158.1 74.6 156.9 73.6 156.3 71.6 156.6 69.9 158.1 65.9 159.4 64.5 160.5 64.1 163.4 62.4Z M31 69.6 31.9 69.8 34.3 71.9 37.6 73.9 38.1 74.4 38.3 75.1 39.4 75.1 40.4 75.6 40.9 76.6 40.6 77.6 39.6 78.2 38.6 78.2 37.8 77.9 37.3 76.9 37.7 75.6 36.6 75.3 31.6 71.7 30.6 70.6 30.5 70.1Z M44.2 74.9 46.4 74.9 48.1 76.4 48.4 77.4 48.2 78.4 47.6 79.3 46.9 79.8 45.6 80.2 44.4 80.1 43.1 79.6 42.4 78.8 42 77.6 42.2 76.6 43 75.6Z M63.4 75.9 75.1 75.7 79.1 76.1 83.2 77.6 84.6 79.1 84.8 79.9 83.3 81.1 81.4 81.6 80.9 82.4 80.1 82.9 76.1 83.7 72.6 83.9 68.4 84 64.4 83.6 58.1 82.7 54.9 81.9 53.1 81.1 53.1 80.4 53.6 79.5 56.5 77.1 59 76.4Z"/>
<path fill="#fdb76a" fill-rule="evenodd" d="M94.4 33.9 103.6 34.4 111.4 35.7 113.2 36.6 111.6 37.2 105.2 37.4 105.7 38.6 105.1 39.6 102.1 41.5 99.4 42 94 41.4 90.8 40.6 88.1 39.6 86.1 38 85.9 37.4 86.1 36.6 87.5 35.4 85.3 34.6 87.9 34.1Z M61.9 36.4 63.8 36.4 61.6 37.1 62.6 38.4 62.9 39.4 62.4 40.6 61.4 41.4 58.9 41.6 57.4 41.3 56.3 39.9 56.3 38.9 56.6 38 51.4 39.3 50.5 39.9 51.2 40.9 51.1 42.6 50.5 43.4 49.4 44.1 47.6 44.4 46.1 44.1 44.9 43.2 44.4 41.6 44.1 41.7 42.6 42.4 43 43.1 43 44.1 42 45.4 41.1 45.6 39.6 45.5 38.8 45.1 38.1 44.3 34.9 46.5 31.6 49.7 31.1 49.9 30.8 49.6 31.1 48.7 32.9 46.9 37.9 43.6 38.5 42.4 39.6 41.6 40.9 41.4 42.1 41.7 44.4 40.9 45.4 39.6 47.1 38.7 49.4 39 56.1 37.3Z M221.3 44.6 222.7 44.9 224.4 46.1 225.9 47.8 227.4 50.1 228.4 52.2 229 54.6 229.1 56.9 228.4 58.2 226.6 58.1 225.1 57.1 223.4 55.2 221.9 52.7 220.6 49.4 220.3 47.4 220.4 45.6Z M134.1 46.1 134.9 45.9 135.6 46.1 136 46.6 136 47.1 135.1 47.6 133.9 47.4 133.6 46.6Z M132.8 49.9 133.9 49.6 134.9 49.9 136.6 51.3 137.4 52.4 137.7 53.4 137.6 54.7 136.9 56.2 135.9 56.9 134.6 57.1 133.6 56.9 132.4 56.1 131.1 54.5 130.9 53.1 131.1 51.9 131.7 50.9Z M164.8 62.9 167 63.1 168.4 64.4 168.6 66.2 167.9 68.3 166.2 70.4 164.1 71.9 160.9 72.8 159.1 72.4 158.3 71.6 158 70.6 157.8 68.1 158.4 65.8 159.6 64.7Z M30.8 69.9 31.7 69.9 34.1 71.9 37.6 74 38.1 74.6 38.1 75.1 37.6 75.5 36.9 75.3 32.3 72.1 30.7 70.6Z M44.9 74.9 46.9 75.3 47.9 76.2 48.3 77.1 48.2 78.1 47.6 79.1 45.9 80.1 44.6 80.1 43.4 79.6 42.6 78.9 42.2 77.9 42.2 76.9 42.6 76.1 43.8 75.1Z M38.2 75.4 39.4 75.2 40.4 75.8 40.8 76.6 40.4 77.7 38.9 78.1 37.7 77.6 37.4 76.4Z M63.1 76.6 71.9 76.6 77.4 77.3 79.4 78 80.5 78.9 81.3 80.1 81.3 81.6 80.4 82.6 78.6 83.2 72.6 83.8 68.4 83.9 58.4 82.6 54.4 81.6 53.1 81 53.2 80.4 53.9 79.4 56.1 77.8 58.9 77Z"/>
<path fill="#f88b51" fill-rule="evenodd" d="M87.9 34.3 96.6 34 103.6 34.5 111.4 35.8 112.8 36.6 111.4 37.1 104.1 37.3 104 37.4 104.5 38.4 104.5 39.4 103.6 40.6 101.6 41.6 98.1 41.9 95.4 41.3 91.9 39.2 91.4 38.4 91.4 37.6 91.9 36.9 93.1 36.1 89.9 35.4 88.1 35.2 86.6 34.6Z M56.3 37.4 62.3 36.6 60.9 37.1 62.3 38.1 62.7 39.4 62.4 40.5 61.1 41.4 58.4 41.5 57.1 40.9 56.4 39.6 56.9 37.8 51.4 39.1 50.1 39.6 50.9 40.6 51.1 42.1 50.6 43.1 49.1 44.1 47.1 44.2 45.6 43.7 44.6 42.6 44.4 41.2 42.5 42.4 42.9 43.1 42.9 44.1 41.8 45.4 39.6 45.4 38.9 45 38.1 44.1 37.6 44.1 38.1 43.7 38.6 42.5 39.4 41.8 40.6 41.5 42.1 41.9 44.4 41.1 45.2 39.9 46.9 38.9 47.9 38.8 49.1 39.1 51.4 38.8Z M36.1 44.9 36.7 44.9 32.9 48.2 31.6 49.6 31 49.6 31.2 48.9 33.1 46.9Z M133.1 49.9 134.1 49.8 135.1 50.1 135.9 50.9 136.4 52.1 136.5 53.9 136.2 54.9 135.6 55.6 134.6 56.3 133.6 56.3 132.6 56 131.6 55.1 131.1 54.1 131 52.9 131.4 51.6 132.1 50.6Z M161.9 64.4 163.4 64.4 164.8 65.1 165.3 66.1 165.1 67.5 164.1 69 162.7 69.9 161.4 70.2 159.6 70.1 158.6 69.4 158.3 68.6 158.5 66.1 159.6 65Z M31.1 69.9 31.6 69.9 34.1 72 37.6 74.1 38 74.6 37.9 75.1 37.4 75.4 36.9 75.2 32.1 71.9 30.9 70.6 30.8 70.1Z M44.1 75.1 46.4 75.1 47.8 76.4 48.1 77.9 47.1 79.4 46.1 79.9 44.9 80 43.7 79.6 42.7 78.9 42.3 77.9 42.4 76.8 42.9 76Z M38.5 75.4 39.6 75.4 40.4 75.9 40.7 76.9 40.1 77.8 38.6 78 37.7 77.4 37.6 76.2Z M59.4 77.1 71.9 76.7 76.9 77.3 78.9 78 80.3 78.9 81.1 80.1 81.2 81.4 80.4 82.5 78.4 83.1 72.6 83.7 68.4 83.7 58.4 82.5 54.7 81.6 53.2 80.9 54.1 79.4 56.2 77.9Z"/>
<path fill="#ec5c3b" fill-rule="evenodd" d="M94.1 34.1 103.4 34.6 111.1 35.9 112.4 36.6 110.9 37 103.6 37 104.4 38.9 103.6 40.4 101.6 41.4 98.1 41.7 95.4 41.1 93.4 39.4 93.2 37.9 93.9 36.9 94.9 36.4 94.9 36.1 88.1 35 87.2 34.6Z M58.9 37.1 60.6 37.2 62.2 38.1 62.6 39.4 62.1 40.6 60.9 41.3 59.6 41.4 57.9 41.2 57 40.6 56.5 39.6 56.7 38.6 57.6 37.5Z M46.6 39.1 47.9 38.9 50.1 39.4 49.7 39.6 50.6 40.4 51 41.6 50.9 42.5 50.5 43.1 49.1 44 47.9 44.1 46.4 43.9 45.1 43.1 44.6 42.1 44.8 40.6 45.4 39.9Z M40.5 41.6 42 42.1 42.9 43.4 42.5 44.6 41.4 45.4 39.4 45.2 38.4 44.1 38.4 43.1 38.9 42.4Z M33.1 47.1 34.4 46.4 33.6 47.4 31.6 49.4 31.1 49.4Z M133.8 49.9 134.9 50.1 135.7 50.9 136.2 51.9 136.4 53.4 136.2 54.6 135.6 55.4 134.9 56 133.9 56.2 132.6 55.9 131.9 55.2 131.3 54.4 131.1 53.1 131.9 51 132.9 50.1Z M159.8 65.1 161.1 65 162.1 65.6 162.7 66.6 162.4 67.5 160.9 68.2 159.4 67.7 158.9 67.1 158.9 66.1Z M31 70.1 31.6 70.1 33.9 72 37.4 74.1 37.8 74.6 37.7 75.1 36.9 75 32.4 71.9 31 70.6Z M44.7 75.1 46.6 75.4 47.9 76.7 47.8 78.4 46.5 79.6 45.4 79.9 44.1 79.7 43.1 79.1 42.6 78.4 42.4 77.4 42.6 76.6 43.6 75.6Z M38.3 75.6 39.1 75.4 40.2 75.9 40.5 76.9 40.1 77.6 38.9 77.9 37.9 77.4 37.7 76.4Z M62.8 76.9 72.1 76.9 76.9 77.4 78.9 78.1 80.1 78.9 81 80.1 81.1 81.4 80.4 82.4 78.6 83 72.6 83.6 68.4 83.6 58.4 82.4 55.2 81.6 53.4 80.9 53.6 80.1 54.3 79.4 56.4 77.9 59.6 77.2Z"/>
<path fill="#d73027" fill-rule="evenodd" d="M93.6 34.4 101.4 34.5 111.1 36.1 111.9 36.4 111.9 36.6 103.4 36.9 104.2 38.9 103.4 40.4 101.6 41.3 98.4 41.6 95.3 40.9 94.3 40.1 93.4 38.9 93.3 38.1 93.8 37.4 95.8 36.1 88.2 34.6Z M58.4 37.4 60.4 37.3 61.6 37.9 62.4 38.9 62.1 40.4 60.6 41.2 58.6 41.2 57.5 40.9 56.8 40.1 56.7 39.1 57.2 38.1Z M47.1 39.1 49 39.4 50.6 40.6 50.9 41.6 50.7 42.6 49 43.9 46.6 43.9 45.6 43.4 44.9 42.5 44.8 41.4 45.1 40.4Z M39.9 41.9 41.2 41.9 42.4 42.7 42.7 43.9 42.1 44.9 41.4 45.2 40.1 45.2 38.9 44.6 38.6 43.9 38.6 43 39.1 42.4Z M133.3 50.1 134.4 50.1 135.1 50.5 135.9 51.5 136.2 52.6 136.2 53.9 135.9 54.9 135.1 55.7 134.1 56 133.1 55.9 132.4 55.5 131.6 54.6 131.3 53.6 131.7 51.6Z M160.2 65.1 161.1 65.2 162 65.9 162.2 66.9 161.6 67.5 160.1 67.7 159.2 67.1 159.1 66.1 159.6 65.4Z M31.2 70.4 31.6 70.3 33.9 72.3 37.4 74.3 37.6 74.9 36.9 74.9 32.3 71.6Z M44.3 75.4 46.2 75.4 47.6 76.6 47.9 77.4 47.8 78.1 46.7 79.4 44.6 79.7 42.9 78.6 42.6 77.9 42.7 76.9Z M38.6 75.6 39.5 75.6 40.2 76.1 40.4 76.9 39.9 77.6 38.6 77.7 37.9 77.1 37.9 76.3Z M59.4 77.4 71.9 77 76.9 77.6 79.1 78.4 80.1 79.1 80.9 80.3 80.9 81.4 80.1 82.3 78.2 82.9 72.6 83.4 68.4 83.5 58.4 82.2 53.6 80.9 53.6 80.4 54.2 79.6 56.4 78.1Z"/>
<rect x="30" y="50" width="100" height="20" fill="#fff"/>
<rect x="10.70" y="5.85" width="24.10" height="20.30" fill="#fff"/>
<text x="14.00" y="20.05" font-family="'Liberation Serif','Times New Roman',serif" font-weight="bold" font-style="italic" font-size="15.5">(c)</text>
<path d="M40.0 120.5V111.7M80.0 120.5V111.7M120.0 120.5V111.7M160.0 120.5V111.7M200.0 120.5V111.7M0 20.0H8.8M0 60.0H8.8M0 100.0H8.8" stroke="#000" stroke-width="1.9" fill="none"/>
<path d="M10.0 120.5V115.8M20.0 120.5V115.8M30.0 120.5V115.8M50.0 120.5V115.8M60.0 120.5V115.8M70.0 120.5V115.8M90.0 120.5V115.8M100.0 120.5V115.8M110.0 120.5V115.8M130.0 120.5V115.8M140.0 120.5V115.8M150.0 120.5V115.8M170.0 120.5V115.8M180.0 120.5V115.8M190.0 120.5V115.8M210.0 120.5V115.8M220.0 120.5V115.8M230.0 120.5V115.8M0 10.0H4.6M0 30.0H4.6M0 40.0H4.6M0 50.0H4.6M0 70.0H4.6M0 80.0H4.6M0 90.0H4.6M0 110.0H4.6" stroke="#0a0a20" stroke-width="0.85" fill="none"/>
<rect x="0.5" y="0.7" width="239.7" height="119.5" fill="none" stroke="#000" stroke-width="1.6"/>
<text x="90.10" y="33.85" font-family="'Liberation Serif','Times New Roman',serif" font-weight="bold" font-size="15.5">UL</text>
<text x="144.40" y="48.25" font-family="'Liberation Serif','Times New Roman',serif" font-weight="bold" font-size="15.5">UT</text>
<text x="-5.7" y="24.60" text-anchor="end" font-family="'Liberation Serif','Times New Roman',serif" font-size="13">2</text>
<text x="-5.7" y="64.60" text-anchor="end" font-family="'Liberation Serif','Times New Roman',serif" font-size="13">0</text>
<text x="-5.7" y="104.60" text-anchor="end" font-family="'Liberation Serif','Times New Roman',serif" font-size="13">−2</text>
<text transform="translate(-18.8 58.2) rotate(-90)" text-anchor="middle" font-family="'Liberation Serif','Times New Roman',serif" font-weight="bold" font-style="italic" font-size="15.5">y/D</text>
</g>
<g transform="translate(296.65 193.45)">
<rect x="0" y="0" width="240" height="120" fill="#4575b4"/>
<path fill="#679ec9" fill-rule="evenodd" d="M206.4 24.7 212.9 24.2 215.4 24.5 219.6 25.7 224.1 27.7 230.4 30.9 234.4 33.5 239.9 38.7 239.9 76.5 236.9 75.5 233.9 73.7 232.1 72.3 228.7 68.6 223.5 61.1 218.6 52.2 217.1 54.1 215.4 55.3 213.1 55.8 210.1 55.8 205.4 54.4 198.9 50.8 197.6 49.6 197.3 48.1 197.9 46.9 199.1 45.9 201.6 45 205.1 44.3 208.1 44.3 212.1 44.6 215.2 45.1 212.9 40.3 211.1 37.7 206.9 33 203.3 30.1 202.4 28.6 202.5 26.9 203.6 25.7Z M88.6 32.1 104.1 32 114.4 33.2 120.9 34.7 126.9 37 133.1 40.1 134.4 41.1 137.9 40.9 140.4 41.5 142.4 42.7 146.9 46.2 152.1 50.5 156.2 54.4 157.2 55.6 157.7 56.9 157.8 58.1 157.5 59.4 156.1 61.2 153.4 63.2 151.6 64.1 148.4 64.8 144.4 65.3 141.6 65.3 138.1 64.7 134.9 63.6 132.9 62.3 131 60.1 130.2 58.9 129.4 56.6 129.2 53.9 130.4 48.9 130.6 45.3 111.4 49 101.1 50.5 98.6 50.6 95.9 50.3 92.4 49.3 90.6 48.3 87.9 46 80.6 38.6 79.4 37.1 79.4 35.6 80.4 34 82.6 32.9Z M73.9 33.4 76.6 33.5 77.9 34.2 78.7 35.1 79.3 36.1 79.4 37.4 79.2 38.6 78.5 40.4 77.1 41.9 74.9 43.5 64.6 48.5 60.9 49.5 57.4 50 51.4 50.5 42.6 50.4 31.6 51.9 30.6 51.7 29.9 51.3 29 49.9 28.9 48.6 29.5 47.4 33.9 43.4 37.1 41.5 43.4 39 49.9 37 55.9 35.8 65.6 34.2Z M185.8 49.9 188.6 49.8 189.9 50.3 190.8 51.1 191.6 53.1 191.3 56.4 189.5 60.9 186 67.6 180.8 74.9 176.4 78.8 173.4 80.8 167.4 83.8 163.9 85 156.6 87 149.4 88.1 142.9 88.6 133.1 88.5 131.6 88.1 130.8 87.4 130.6 86.6 130.7 85.9 132.1 84.5 147.9 79.4 152.4 77.6 154.8 76.4 156.9 74.6 158.6 72.4 160.4 69.7 161 67.9 162.8 64.6 165.5 61.1 168.1 58.5 171.4 56 175.6 53.7 182.6 50.7Z M30.8 68.6 31.6 68.5 32.6 69 34.7 71.1 36.9 72.7 39.6 71.9 41.1 71.9 42.4 72.3 43.7 73.4 44.4 74.7 45.9 73 47.4 72.3 48.6 72.1 51.1 72.6 53.1 74.2 54.6 73.5 55.9 73.4 58.6 73.8 60.4 74.9 61.4 76.6 61.6 77.9 61.2 79.1 61.4 80.9 61 81.9 60.4 82.9 59.4 83.7 56.6 84.6 55.4 84.5 53.9 84 52.4 82.9 51.6 82 50.6 82.7 49.4 83.1 48.1 83.2 46.4 82.8 45 81.9 44.2 80.6 44.1 79.4 44.5 77.6 44.1 76.6 43.6 78.4 42.1 79.7 40.4 80.2 38.6 79.7 37.4 78.9 36.7 77.6 34.1 75.9 29.9 71.9 29.5 71.1 29.4 70.1 30 69.1Z M76.8 68.9 80.9 68.9 84.4 69.7 88.9 71.5 92.1 73.6 93.7 75.6 94.6 78.4 94.3 81.1 92.9 83.4 91.1 84.8 88.4 85.8 79.6 87.1 68.4 87 65.6 86.5 63.4 85.2 62.5 84.1 62.1 83.1 61.9 80.6 62.7 75.9 64.1 73.1 65.6 71.7 67.9 70.7 72.6 69.5Z M126.9 70.6 128.4 70.4 129.6 70.7 130.6 71.5 131.3 72.6 131.5 73.9 131.2 74.9 130.4 76.1 129.4 76.7 128.1 76.9 126.9 76.7 125.9 76.1 125.2 75.1 124.9 73.6 125.2 72.1 125.9 71.2Z"/>
<path fill="#8dc1dc" fill-rule="evenodd" d="M211.2 25.4 214.4 25.5 218.4 26.5 224.6 29.2 229.9 32 233.9 34.6 239.9 40.3 239.9 75.3 237.4 74.5 234.1 72.5 229.2 67.4 227 64.4 222.5 57.1 212.9 38.1 207.9 32.4 204.5 29.6 203.8 28.6 203.8 27.4 204.9 26.4 207.4 25.7Z M94.6 33.1 105.4 33.4 113.4 34.4 118.6 35.5 126.9 38.1 132.4 41.3 132.9 41.9 133 42.6 132.4 43.4 131.1 43.9 110.1 47.9 100.1 49.3 94.9 48.8 92.1 47.7 88.6 45 81.8 37.9 81 36.9 80.9 36.1 81.1 35.4 81.6 34.8 83.6 34 88.9 33.4Z M65.9 35.6 76.1 34.8 76.9 35.2 77.4 35.9 77.8 36.9 77.8 37.9 76.8 40.1 74.1 42.3 63.9 47.2 60.6 48.1 56.6 48.6 51.4 49 42.6 49 35.1 49.8 33.6 50 31.6 51 30.6 50.7 29.9 49.9 29.9 49.1 30.4 48.4 35.6 43.9 39.1 42.2 44.4 40.2 50.1 38.4 56.1 37.2Z M135 42.1 138.1 42 140.6 42.8 151.1 51 155.1 54.7 156.4 56.4 156.7 58.1 155.8 60.1 153.4 62 151.4 63.1 144.1 64.3 141.4 64.2 138.1 63.7 135.6 62.8 133.6 61.6 132.1 59.9 131.1 58.4 130.3 55.9 130.2 54.1 132.1 44.6 133.2 43.1Z M204.8 45.6 208.6 45.5 211.6 45.8 215.6 46.8 216.9 47.6 217.5 48.6 217.7 50.1 217.2 51.9 216.1 53.3 214.4 54.3 212.4 54.6 209.6 54.4 205.9 53.3 199.9 49.9 198.9 49.1 198.8 48.1 199.6 47.1 201.6 46.3Z M186 50.9 187.6 50.7 188.9 50.9 189.9 51.6 190.4 52.6 190.4 55.4 188.7 60.1 185.6 66.4 181 73.1 177.6 76.5 173.4 79.6 167.6 82.6 165.1 83.6 156.4 86 149.1 87 143.4 87.5 134.4 87.5 132.9 87.3 132.2 86.9 132.1 86.4 132.3 85.9 133.6 85.1 148.1 80.4 155.1 77.4 157.4 75.6 159.4 73.1 161.1 70.4 161.5 68.9 163 65.9 166.4 61.6 168.9 59.2 172.1 56.7 175.9 54.7 182.9 51.7Z M31.1 69.1 32.4 69.5 34.5 71.6 37.9 73.9 40.1 73.2 42.1 73.8 42.8 74.6 43.4 76.6 43.3 77.6 42.9 78.4 41.9 79.2 40.6 79.6 39.4 79.5 38.1 78.8 37.5 78.1 37.3 77.4 34.6 75.7 30.4 71.6 30 70.9 30 70.1 30.4 69.5Z M76.2 70.4 79.6 70.3 82.9 70.8 87.1 72.2 90.4 74 92 75.6 93 77.6 93.1 79.9 92.2 81.9 90.9 83.2 88.4 84.3 83.6 85.2 79.6 85.7 68.9 85.6 66.1 85.1 64.4 84.1 63.5 82.6 63.4 80.4 64.2 76.1 65.3 73.9 66.6 72.8 68.1 72.2 72.6 71Z M127.9 71.4 129.6 71.9 130.5 73.4 130.4 74.4 130 75.1 129.4 75.6 128.4 75.9 127.4 75.8 126.6 75.4 125.9 73.9 126 72.9 126.4 72.1Z M47.7 73.6 49.9 73.6 51.6 74.6 52.1 76.1 51.5 77.6 52.1 79.2 52.7 78.6 52.5 77.6 52.7 76.6 54.1 75.2 56.6 74.7 58.9 75.4 59.9 76.6 60 78.6 60.8 79.9 60.8 80.9 60.3 82.1 58.6 83.5 56.1 84.1 54.6 83.7 53.4 83.1 52.2 81.9 51.9 80.8 50.6 82.1 49.4 82.5 47.6 82.6 45.9 82 44.8 80.6 44.7 78.9 45.7 77.1 45.5 76.1 45.7 75.1 46.4 74.3Z"/>
<path fill="#b5deec" fill-rule="evenodd" d="M211.4 25.9 214.4 26 218.9 27.2 223.9 29.4 229.4 32.3 234.4 35.6 239.1 40.6 239.9 41 239.9 74.8 237.6 74 234.4 72 229.5 66.9 225.3 60.9 222.9 56.9 213.4 38 208.4 32.2 204.9 29.2 204.3 28.4 204.5 27.4 205.6 26.7 207.6 26.2Z M90.7 33.9 104.9 33.7 111.9 34.5 116.6 35.5 122.1 36.8 126.6 38.3 127.9 39.5 131.5 41.6 132 42.4 131.6 42.9 130.3 43.4 110.4 47.3 100.4 48.7 95.6 48.3 92.6 47.3 89.7 45.1 83.5 39.1 81.7 36.6 81.9 35.5 83.1 34.8 86.1 34.2Z M66.6 35.8 75.9 35 76.9 35.6 77.1 37.9 76.2 39.9 73.6 41.8 63.9 46.5 60.4 47.5 56.6 48 51.4 48.4 42.6 48.3 34.6 49.2 31.6 50.6 30.6 50.5 30.1 49.9 30.1 49.1 30.6 48.4 35.6 44.3 39.1 42.5 44.4 40.4 50.1 38.7 56.9 37.3Z M136 42.4 138.6 42.5 140.6 43.3 151.6 52.1 154.9 55.1 156 56.6 156.2 58.4 155.4 59.9 153.1 61.7 151.1 62.7 143.9 63.9 141.1 63.7 137.9 63.2 135.6 62.3 133.6 61 131.5 58.1 130.8 55.9 130.7 53.9 132.6 44.6 134.1 43Z M204.2 46.4 209.6 46.2 212.6 46.5 215.1 47.2 216.2 47.9 216.9 48.9 217 50.1 216.7 51.4 215.4 53.1 213.4 53.9 209.9 53.8 206.6 52.9 200.4 49.4 199.6 48.6 199.8 47.9 200.6 47.4Z M185.7 51.4 187.4 51.2 188.6 51.4 189.5 51.9 190 52.9 189.9 55.6 188.2 60.1 185 66.4 180.6 72.9 177.4 76.1 173.4 79 167.6 82.1 165.1 83.1 156.6 85.5 149.1 86.6 143.4 87.1 134.9 87 133.2 86.6 133.1 86.4 133.4 85.9 134.9 85.1 148.1 80.9 152.6 79.1 155.4 77.7 157.7 75.9 159.8 73.4 161.4 70.9 161.9 68.9 163.3 66.1 167 61.6 168.9 59.8 172.1 57.2 176.1 55.1 182.6 52.3Z M31 69.4 32.1 69.6 34.5 71.9 38.4 74.4 39.9 73.9 41.6 74.3 43.1 76.4 43.2 77.4 42.8 78.1 41.9 79 40.6 79.4 39.4 79.2 38.4 78.7 37.4 77.2 34.9 75.6 30.6 71.6 30.2 70.4Z M75.5 71.1 79.1 70.9 82.1 71.3 86.1 72.5 89.4 74.1 91.2 75.6 92.2 77.4 92.5 79.4 91.8 81.4 90.4 82.8 87.9 83.8 84.9 84.5 79.9 85.1 70.1 85.1 66.9 84.6 64.9 83.8 64.1 82.4 64 80.4 64.8 76.4 65.8 74.4 66.9 73.4 68.4 72.8Z M127.6 71.9 129.1 72.1 129.9 73.1 129.9 74.4 128.9 75.4 127.4 75.4 126.4 74.4 126.5 72.9 126.9 72.3Z M48.5 74.1 50.1 74.3 51.1 75.1 51.4 76.1 50.9 77.4 51.7 78.4 52.1 80 52.5 79.1 53.3 78.4 53.4 76.8 54.4 75.8 56.6 75.4 58.6 76.1 59.4 77.1 59.3 78.1 60.6 79.9 60.5 81.1 60 82.1 58.6 83.3 56.1 83.8 54.6 83.5 53.1 82.6 52.3 81.6 51.9 80.2 50.9 81.6 49.6 82.3 47.9 82.4 45.9 81.7 44.9 80.4 45 78.6 45.5 77.6 46.5 76.9 46.2 75.9 46.5 75.1 47.4 74.4Z"/>
<path fill="#dbf1f7" fill-rule="evenodd" d="M210.8 26.4 214.1 26.4 217.9 27.4 224.1 30 229.5 32.9 233.1 35.2 235.9 37.6 238.9 40.9 239.9 41.5 239.9 74.3 237.6 73.5 234.6 71.7 229.9 66.7 225.6 60.6 223.4 56.8 213.8 37.9 208.6 31.8 205 28.4 205.2 27.6 206.1 27.1Z M92.8 34.1 104.9 34 111.6 34.8 116.6 35.7 122.1 37.1 126.5 38.6 127.3 39.1 127.6 40 130.3 41.6 130.6 42.4 129.7 42.9 126.4 43.6 105.1 47.6 99.6 48.2 95.6 47.8 92.9 46.8 89.6 44.4 85.2 39.9 83.6 38.8 82.4 36.4 82.8 35.6 84.1 35.1Z M66.6 36 75.9 35.2 76.7 35.6 76.4 38.1 75.6 39.6 73.1 41.4 63.6 46 60.3 46.9 56.6 47.4 51.4 47.8 42.6 47.7 35.4 48.4 31.4 50.4 30.6 50.3 30.3 49.9 30.3 49.1 30.6 48.6 35.9 44.3 38.9 42.8 44.6 40.5 50.4 38.8 56.6 37.5Z M135.4 42.9 138.1 42.8 140.4 43.6 150.6 51.6 154.3 55.1 155.6 56.6 155.9 58.1 155.1 59.6 152.9 61.4 151.1 62.3 144.1 63.5 141.4 63.4 138.3 62.9 135.9 62 134.1 60.9 131.9 58.1 131.2 55.9 131.1 54.1 132.8 45.1 133.9 43.7Z M205.5 46.9 211.6 47.1 214.8 47.9 216.1 49 216.1 50.9 215.4 52.1 214.1 52.9 212.4 53.3 210 53.1 206.5 52.1 200.8 48.6 201 48.1 201.6 47.8Z M186.8 51.6 188.1 51.6 189.1 52.1 189.7 53.1 189.7 54.4 189.4 56.1 188.1 59.4 185.8 64.1 184.6 66.4 179.2 73.9 176.2 76.6 172.9 78.9 167.4 81.8 164.9 82.8 156.4 85.1 148.9 86.2 143.4 86.7 136.4 86.6 134.9 86.4 134.5 86.1 136.2 85.1 150.9 80.2 155.6 78 158 76.1 160 73.6 161.7 71.1 162.1 69.1 163.6 66.1 167.4 61.8 169.4 59.9 172.4 57.5 176.4 55.4 183.1 52.5Z M30.8 69.6 31.4 69.5 32.1 69.8 34.4 72 38.9 75.1 40.1 74.6 41.6 75 42.9 76.4 43 77.4 42.7 78.1 41.9 78.8 40.6 79.3 39.6 79.2 38.4 78.5 37.6 77.1 34.9 75.4 30.8 71.6 30.4 70.6Z M76.2 71.6 79.4 71.5 82 71.9 86 73.1 88.9 74.5 90.6 75.9 91.5 77.4 91.9 79.1 91.3 80.9 90.2 82.1 87.9 83.4 81.9 84.7 78.1 85 71.1 85 67.4 84.5 64.9 83.6 64.5 82.6 64.5 80.6 65.4 76.5 66.4 74.6 67.4 73.9 69.3 73.1Z M127.6 72.4 128.6 72.4 129.4 73 129.5 74.1 128.9 74.8 127.9 75 127 74.4 126.9 73.1Z M48.1 74.9 49.4 74.8 50.4 75.4 50.7 76.1 50.1 76.9 51.4 78.1 51.8 79.4 51.7 80.4 50.9 81.4 50.1 82 48.6 82.3 46.1 81.7 45.3 80.9 45 79.9 45.4 78.1 46.1 77.3 47.3 76.6 47.1 75.6Z M55.3 76.1 56.9 76 58.1 76.5 58.6 77.1 58.6 77.9 60.3 79.6 60.5 80.6 60.2 81.6 59.4 82.6 58.4 83.2 56.6 83.7 55.1 83.5 53.4 82.6 52.4 81.4 52.2 80.4 52.5 79.4 54 77.9 54.2 76.9Z"/>
<path fill="#f4fbd4" fill-rule="evenodd" d="M211.3 26.9 214.1 26.9 218.6 28.1 223.2 30.1 228.9 33.1 233.8 36.4 238.7 41.4 239.9 42 239.9 73.7 237.5 72.9 234.5 70.9 230.9 67.1 228.6 64.2 225.4 59.2 222.4 53.9 214.3 37.6 212.2 34.9 206 28.4 206.2 27.9 207.4 27.4Z M93 34.4 105.9 34.3 110.6 34.8 116.6 36 126.4 38.9 127.2 39.6 127.1 40.5 128.8 41.9 128.3 42.4 126.6 42.9 110.3 46.1 100.1 47.5 95.7 47.1 93.4 46.4 91.9 45.4 89.2 43.1 86.1 39.9 84.1 38.9 83.3 37.6 83.7 36.1 84.9 35.5 89.6 34.7Z M66.6 36.1 75.9 35.3 76.6 35.9 76.2 37.1 74.6 39.4 72.3 40.9 63.1 45.4 58.7 46.4 53.8 46.9 46.6 46.9 43.1 47.4 36.9 47.5 35.1 48.1 31.4 50.3 30.7 50.1 30.4 49.6 30.9 48.5 36.1 44.3 39.1 42.8 44.6 40.6 50.1 39 56.9 37.6Z M135.3 43.4 137.4 43.2 139.5 43.6 145.4 47.9 150.5 52.1 154.7 56.1 155.4 57.6 154.9 59.2 152.9 60.9 151 61.9 144.1 63 141.4 63 138.4 62.5 136.1 61.7 134.4 60.6 132.4 58.1 131.6 56 131.5 54.4 133.1 45.4 133.9 44.3Z M186.5 52.1 187.9 52.1 188.6 52.4 189.2 53.6 189 55.9 187.4 60 184.4 65.9 180.1 72.1 178.4 74.2 175.1 76.9 172.1 78.9 167.1 81.4 163.9 82.6 157.7 84.4 146.9 86 139.9 86.2 137 85.9 137 85.6 138 85.1 151.4 80.5 156.1 78.2 158.6 76.1 160.9 73.1 162 71.4 162.4 69.3 164 66.1 169.5 60.4 172.6 57.9 176.4 55.9 182.9 53.1Z M31.2 69.6 32.1 69.9 34.3 72.1 38.9 75.3 40.4 74.8 41.9 75.3 42.9 76.6 42.9 77.4 42.5 78.1 41.6 78.8 40.4 79.2 38.4 78.4 37.8 77.1 35 75.4 31 71.6 30.5 70.4Z M76.4 72.4 79.4 72.3 81.9 72.6 85.2 73.6 87.9 74.9 89.7 76.1 90.6 77.4 91 78.9 90.6 80.5 89.1 82.3 87.9 83.1 81.9 84.6 78.1 84.9 71.1 84.9 67.1 84.3 64.9 83.4 64.5 82.1 64.8 79.9 65.6 77.6 67.1 75 68.1 74.4 70.3 73.6Z M47.3 76.9 49.4 76.8 50.4 77.3 51.2 78.1 51.6 79.1 51.6 80.1 50.4 81.7 49.1 82.1 47.9 82.2 46.4 81.7 45.5 80.9 45.1 79.6 45.4 78.4 46.1 77.4Z M55.2 77.6 57.4 77.4 58.6 78 59.8 79.1 60.3 79.9 60.3 80.9 59.4 82.5 57.9 83.2 55.9 83.6 54.1 83 52.9 82 52.4 80.9 52.5 79.6 54.1 78Z"/>
<path fill="#fff4ae" fill-rule="evenodd" d="M212 28.1 214.4 28.1 217.8 28.9 226.1 32.6 232.3 36.4 235.1 38.7 238.4 42.1 239.9 42.7 239.9 72.4 237 71.4 234.3 69.4 230.9 65.7 226.4 59.2 222.9 53 216 38.9 214.3 36.1 210.1 30.6 209.9 29.9 210.1 29.1 210.6 28.6Z M89.9 34.9 103.4 34.4 110.9 35.1 119.4 36.9 126.1 39.1 126.8 39.9 126.3 40.4 125.4 40.7 118.9 41.6 116.3 41.6 111.8 42.9 104.6 44.1 99.1 44.5 96.9 44.2 95.1 43.6 92.7 42.1 90.9 40.1 85.6 39.3 84.6 38.9 83.8 37.9 83.9 36.6 84.9 35.9Z M66.6 36.2 75.6 35.4 76.4 35.9 75.7 37.1 74.9 37.6 74.6 38.4 73.9 38.9 72.6 39 71.6 38.5 70.6 38.8 65.6 40.8 60.1 43.5 56.6 44.5 47.9 46.4 43.1 47 38.1 46.9 35.6 47.6 31.4 50.1 30.9 50.1 30.5 49.6 31 48.6 36.4 44.2 44.6 40.8 50.4 39.1 56.9 37.7Z M136.4 43.9 138.6 44 140.4 44.9 149.9 52.4 154.1 56.6 154.6 57.9 154.1 58.9 152.4 60.4 150.4 61.4 144.1 62.4 141.8 62.4 138.7 61.9 136.5 61.1 134.9 60.1 132.9 57.6 132.3 55.9 132.2 54.1 133.8 45.6 134.9 44.4Z M184.8 53.4 186.9 53.2 187.5 53.4 188 53.9 188 55.6 186.9 59.2 183.9 65.3 180.1 70.8 178.1 73.4 175.2 75.9 171.9 78.1 167 80.6 161.3 82.6 157.4 83.6 152.7 84.4 147.4 84.8 144.9 84.6 144.8 84.4 146.1 83.6 155.1 79.7 158.4 77.3 162.2 72.4 162.6 69.6 164.4 66.2 171.9 59.4 177 56.4Z M30.9 69.9 31.9 69.9 34.2 72.1 38.6 75.3 40.4 74.9 41.8 75.4 42.8 76.6 42.5 77.9 41.6 78.7 40.6 79 39.6 78.9 38.6 78.4 38.1 77.9 37.9 77 35.1 75.3 31.1 71.6 30.6 70.6Z M72.4 75.4 79.6 75.3 82.9 75.8 85.9 76.5 87.6 77.3 89.1 78.6 89.7 79.6 89.6 80.9 89.1 81.9 87.6 82.9 81.9 84.5 78.1 84.8 71.1 84.7 67.4 84.2 65 83.4 64.7 82.4 64.9 80.1 66.4 77 67.4 76.3 68.6 75.8Z M46.9 77.1 49.1 76.9 50.6 77.6 51.2 78.4 51.6 79.4 51.4 80.4 50.9 81.1 49.9 81.8 48.4 82.1 46.9 81.8 45.9 81.2 45.2 80.1 45.3 78.9 45.8 77.9Z M54.8 77.9 57.6 77.7 59.4 78.8 60 79.6 60.2 80.4 59.6 82.1 58.4 83 56.4 83.5 54.9 83.2 53.4 82.3 52.5 81.1 52.5 79.9 53.1 79Z"/>
<path fill="#fedb8c" fill-rule="evenodd" d="M89.6 35.2 103.4 34.6 111.4 35.4 117.9 36.7 119.9 37.4 120.9 38.1 125.1 39.4 125.6 39.9 118.4 40.9 108.9 41.4 95.9 40.4 90.1 39.3 86.1 38.8 85 38.4 84.3 37.6 84.6 36.7 86.2 35.9Z M66.6 36.3 75.6 35.6 76.2 35.9 75.8 36.4 74.5 37.1 74.5 38.1 73.6 38.8 72.6 38.7 71.6 37.9 71.1 38 69.1 38.7 68.1 39.6 66.6 39.7 60.6 42.6 56.5 43.9 48.8 45.6 44.4 46.3 40.9 46.8 37.6 46.8 35.4 47.6 31.4 50 30.6 49.6 31.1 48.6 36.4 44.4 44.6 40.9 50.1 39.2 56.9 37.8Z M226.4 39.1 228 39.4 233.1 42 239.9 44.2 239.9 66.7 237.4 64.6 235.1 61.9 227.9 49.3 226.9 46.7 226.1 43.2 226 40.1Z M137.9 47.6 140.1 47.8 142.2 48.9 143.6 50.4 144 51.4 144 52.6 142.6 55.6 140.9 57.3 138.4 58.3 136.1 58.7 134.6 58.3 133.8 57.6 132.8 55.4 132.8 53.9 133.9 51.1 135.4 49.1 136.4 48.1Z M172.4 61.9 175.6 62.2 176.6 62.8 177.6 63.8 178.1 65 178.2 66.4 177.9 68.5 177.4 69.7 174.6 73.1 171.5 75.1 167.9 76.1 166.2 75.9 164.9 75.4 163.6 74.1 163.1 72.4 163.2 70.1 164.4 67.4 165.4 66.1 168.1 63.6Z M31.2 69.9 32 70.1 34.1 72.2 38.6 75.5 40.4 75 41.6 75.4 42.7 76.6 42.4 77.9 41.6 78.6 40.6 78.9 39.6 78.8 38.6 78.3 38.2 77.9 37.9 76.9 35.1 75.2 31.3 71.6 30.7 70.6Z M71.2 76.1 79.4 75.9 83.9 76.6 86.4 77.4 87.7 78.1 88.9 79.3 89.1 80.6 88.6 81.5 87.8 82.1 85.1 82.9 84.1 83.6 81.9 84.3 78.1 84.7 71.4 84.6 68.1 84.3 65.2 83.4 64.8 82.4 65 80.1 66.7 77.6 68.1 76.6Z M47.2 77.1 49.6 77.1 50.9 78.1 51.4 78.9 51.5 79.9 51.2 80.6 50.4 81.4 49.1 81.9 47.9 81.9 46.6 81.6 45.7 80.9 45.3 79.9 45.5 78.6 46.1 77.7Z M55.1 77.9 57.9 77.9 59.5 79.1 60.1 80.6 59.4 82.2 58.1 82.9 56.1 83.3 54.6 83 53.3 82.1 52.6 81.1 52.6 79.9 53.9 78.5Z"/>
<path fill="#fdb76a" fill-rule="evenodd" d="M93.9 35.1 103.4 34.9 110.1 35.5 117.5 36.9 119.9 37.9 120.3 38.4 119.8 38.9 118.9 39.1 105.6 39.5 96.6 38.8 86.6 37.2 85.8 36.9 86.2 36.4 88.1 35.8Z M66.6 36.4 74.9 35.6 75.9 35.9 75.6 36.4 74.2 36.9 74.3 37.9 73.6 38.5 72.4 38.4 71.9 37.4 70.9 37.6 68.6 38.4 68.6 38.9 68 39.4 66.4 39.4 60.1 42.4 54.4 44 45.1 46 40.6 46.7 37.6 46.7 35.4 47.5 31.4 49.9 30.8 49.6 31.1 48.8 36.4 44.5 44.6 41 50.1 39.3 56.9 37.9Z M234.9 46.6 236.6 46.8 239.9 47.6 239.9 60.4 237.1 58.4 235.4 54.9 234.1 49.1 234.2 47.4Z M137.1 48.9 139.1 48.8 140.6 49.4 142.3 51.4 142.6 53.4 142.1 55.1 140.7 56.6 137.9 58.2 136.1 58.5 134.6 58.2 133.8 57.4 133 55.6 132.9 53.9 133.7 51.9 135.8 49.6Z M171.8 64.1 173.7 64.4 175.1 65.4 175.6 66.4 175.7 67.4 175.2 69.6 173.6 71.6 171.6 73.1 169.6 73.6 167.1 73.4 166.1 72.5 165.6 71.4 165.6 69.9 166.4 67.9 167.4 66.5 168.7 65.4Z M31 70.1 31.9 70.1 34.1 72.4 37.9 74.9 38.6 75.7 40.1 75.1 41.6 75.5 42.5 76.6 42.4 77.7 41.6 78.5 40.6 78.8 38.9 78.3 38.2 77.6 38.1 76.8 35.2 75.1 31.4 71.6 30.9 70.9Z M47.9 77.1 49.9 77.4 51.1 78.6 51.3 80.1 50.1 81.4 48.6 81.9 47.4 81.7 46.4 81.3 45.5 80.4 45.4 79.4 45.9 78.1 46.9 77.4Z M73.1 77.4 77.9 77.4 80.9 77.7 82.6 78.2 83.6 78.7 85 80.1 85.5 81.4 85.2 82.4 84.2 83.4 82.4 84.1 78.4 84.6 71.1 84.5 67.1 83.9 65.1 83.1 64.9 82.1 65.1 80.1 66.1 78.6 67.4 77.9Z M55.9 77.9 58.1 78.1 59.8 79.6 59.9 81.1 58.6 82.6 56.9 83.2 55.6 83.2 53.9 82.4 52.9 81.4 52.7 80.4 53.1 79.4 54.4 78.3Z"/>
<path fill="#f88b51" fill-rule="evenodd" d="M95.7 35.4 103.6 35.4 109.9 35.9 115.1 36.9 116 37.4 112.9 37.9 102.6 38.7 99.1 38.2 96.9 37.4 89.9 36.4 89.5 36.1Z M66.6 36.5 75.1 35.8 75.6 36.1 73.4 37.1 73.9 37.6 73.6 38.1 72.6 38 72.4 37.3 70.6 37.5 68.2 38.4 67.9 38.9 66.4 39.3 59.8 42.4 54.3 43.9 44.8 45.9 40.4 46.6 37.4 46.7 35.4 47.4 31.6 49.6 31 49.6 31.2 48.9 36.4 44.6 44.6 41.1 50.5 39.4 56.9 38Z M136.1 50.5 138.5 50.6 139.9 51.8 140.4 52.9 140.5 54.6 139.9 56.3 138.6 57.6 137.4 58.2 135.9 58.4 134.4 57.9 133.6 57 133 55.4 133.1 53.6 133.6 52.2 134.4 51.3Z M170.2 67.4 171.9 67.9 172.6 68.7 172.8 69.4 172.1 70.6 170.1 71.2 168.6 70.6 167.9 69.4 168.6 68.1Z M31.3 70.1 32 70.4 34.1 72.5 37.7 74.9 38.6 76 40.1 75.3 41.6 75.6 42.4 76.6 42.1 77.9 40.6 78.7 38.8 78.1 38.4 77.6 38.1 76.6 35.4 75.1 31.4 71.4 31 70.6Z M47.1 77.4 49.1 77.3 50.4 77.9 51.2 79.4 51.2 80.1 50.7 80.9 49.9 81.4 48.4 81.7 46.9 81.4 46.1 81 45.6 80.1 45.6 78.9 46.1 78Z M67.4 78.1 77.6 77.5 82.4 78.3 83.6 78.9 84.9 80.1 85.3 81.1 85.2 82.1 84.4 83.1 82.6 83.9 78.6 84.4 71.1 84.4 67.4 83.9 65.3 83.1 65 82.1 65.2 80.4 66.1 78.7Z M55 78.1 57.4 78 58.7 78.6 59.9 80.1 59.9 80.9 59.3 81.9 58.3 82.6 56.4 83.1 55 82.9 53.6 82.1 52.9 81.1 52.9 79.9 54.1 78.6Z"/>
<path fill="#ec5c3b" fill-rule="evenodd" d="M66.9 36.6 74.6 35.9 75.2 36.1 74.2 36.6 68.6 38 59.4 42.4 44.9 45.7 40.6 46.4 37.6 46.5 35.4 47.2 31.6 49.4 31.1 49.4 33.1 47.4 36.6 44.6 44.9 41.2 50.1 39.6 57.1 38.1Z M97.5 36.4 101.6 35.9 104.6 36.1 107.1 36.9 107.4 37.4 106.4 37.9 104.7 38.1 101.6 38.1 98.6 37.6 97.2 36.9Z M135.4 50.9 136.9 50.7 138.4 51.6 139.2 52.6 139.7 54.4 139.5 55.9 138.7 57.4 136.6 58.3 135.3 58.1 134.3 57.6 133.6 56.6 133.1 55.1 133.1 53.9 133.6 52.4 134.5 51.4Z M31.3 70.4 31.9 70.5 33.9 72.5 37.8 75.1 38.6 76.3 39.9 75.4 41.4 75.6 42.3 76.6 42.2 77.6 41.6 78.2 40.6 78.6 39 78.1 38.4 77.4 38.4 76.4 37.6 76.4 35.3 74.9 31.5 71.4 31.2 70.9Z M47.7 77.4 49.6 77.5 50.9 78.6 51 80.1 50.1 81.2 48.9 81.6 47.9 81.6 46.6 81.2 45.9 80.5 45.6 79.6 45.9 78.6 46.6 77.8Z M72.9 77.6 77.9 77.6 82.2 78.4 83.6 79.1 84.6 80 85.1 81 85.1 81.9 84.2 83.1 82.4 83.9 78.4 84.3 71.1 84.3 66.9 83.6 65.3 82.9 65.1 81.9 65.4 80 66.5 78.6 67.6 78.1Z M55.7 78.1 57.9 78.3 59.4 79.5 59.7 80.1 59.7 80.9 58.9 82.1 57.1 82.9 55.9 83 54.4 82.5 53.3 81.6 52.9 80.6 53.1 79.7 54.4 78.6Z"/>
<path fill="#d73027" fill-rule="evenodd" d="M66.6 36.8 74.2 36.4 68.4 38 59.7 42.1 54.1 43.6 44.7 45.6 40.4 46.3 37.6 46.3 35.4 47.1 32.1 48.7 33.6 47.1 36.9 44.6 44.7 41.4 50.6 39.6 56.6 38.4Z M135.9 50.9 137 50.9 138.4 51.9 139.1 52.9 139.5 54.4 139.4 55.6 138.6 57.2 137.6 57.8 136.4 58.2 135 57.9 134.3 57.4 133.6 56.3 133.3 54.9 133.4 53.5 133.9 52.3 134.8 51.4Z M31.4 70.6 31.9 70.7 33.6 72.5 35.9 74.2 37.6 75.1 38.2 76.1 37.6 76.2 35.5 74.9 31.9 71.5Z M39.8 75.6 41 75.6 42 76.4 42.1 77.4 41.4 78.1 39.9 78.4 38.7 77.6 38.6 76.6Z M47.3 77.6 49.1 77.5 50.1 78 50.9 79.1 50.6 80.5 49.9 81.1 48.6 81.5 47.6 81.4 46.4 80.9 45.9 80.1 45.8 79.1 46.4 78.2Z M67.6 78.3 77.6 77.8 82.4 78.6 83.6 79.3 84.6 80.3 85 81.1 84.9 82.1 84.1 83 82.4 83.7 78.6 84.1 71.1 84.1 67.6 83.6 65.5 82.9 65.3 81.9 65.5 80.1 66.4 78.9Z M55.2 78.4 57.4 78.3 58.5 78.9 59.3 79.6 59.6 80.4 59.1 81.7 58.1 82.4 56.4 82.8 55.1 82.6 53.8 81.9 53.1 81 53.1 80 53.6 79.4Z"/>
<rect x="30" y="50" width="100" height="20" fill="#fff"/>
<rect x="10.25" y="6.25" width="24.40" height="20.60" fill="#fff"/>
<text x="13.55" y="20.45" font-family="'Liberation Serif','Times New Roman',serif" font-weight="bold" font-style="italic" font-size="15.5">(d)</text>
<path d="M40.0 120.5V111.7M80.0 120.5V111.7M120.0 120.5V111.7M160.0 120.5V111.7M200.0 120.5V111.7M0 20.0H8.8M0 60.0H8.8M0 100.0H8.8" stroke="#000" stroke-width="1.9" fill="none"/>
<path d="M10.0 120.5V115.8M20.0 120.5V115.8M30.0 120.5V115.8M50.0 120.5V115.8M60.0 120.5V115.8M70.0 120.5V115.8M90.0 120.5V115.8M100.0 120.5V115.8M110.0 120.5V115.8M130.0 120.5V115.8M140.0 120.5V115.8M150.0 120.5V115.8M170.0 120.5V115.8M180.0 120.5V115.8M190.0 120.5V115.8M210.0 120.5V115.8M220.0 120.5V115.8M230.0 120.5V115.8M0 10.0H4.6M0 30.0H4.6M0 40.0H4.6M0 50.0H4.6M0 70.0H4.6M0 80.0H4.6M0 90.0H4.6M0 110.0H4.6" stroke="#0a0a20" stroke-width="0.85" fill="none"/>
<rect x="0.5" y="0.7" width="239.7" height="119.5" fill="none" stroke="#000" stroke-width="1.6"/>
<text x="100.55" y="31.55" font-family="'Liberation Serif','Times New Roman',serif" font-weight="bold" font-size="15.5">UL</text>
<text x="147.75" y="49.15" font-family="'Liberation Serif','Times New Roman',serif" font-weight="bold" font-size="15.5">UT</text>
</g>
<g transform="translate(37.20 329.25)">
<rect x="0" y="0" width="240" height="120" fill="#4575b4"/>
<path fill="#679ec9" fill-rule="evenodd" d="M236.6 16.9 238.4 16.8 239.9 17.2 239.9 23.6 237.9 24.3 236.4 24.3 233.1 23.5 231.2 22.4 230.5 20.9 230.7 19.9 231.2 19.1 233.1 18Z M107.3 32.9 117.9 32.6 124.1 33.2 134.6 35.5 141.1 38 147.4 41 155.6 46 161.9 51.1 168.2 55.6 171.1 57.1 177.6 59.7 178.8 60.9 179 61.6 178.8 62.6 177.4 64 174.9 64.9 167.9 65.1 160.6 64.5 153.9 63.6 150.6 63.5 143.6 61.7 142.1 61 141.1 60.1 139.5 57.4 139 55.6 138.7 52.9 138.9 51.1 139.5 49.4 139.1 48.4 136.8 46.9 132.6 45.6 128.9 45.9 120.1 48.5 113.6 49.8 109.4 50 107.1 49.6 105 48.1 103.5 45.9 103 44.1 102.6 39.9 101.8 36.4 102.2 34.9 103.1 33.9 104.9 33.2Z M82.8 33.9 84.6 33.8 87.1 34.6 88.7 35.9 89.5 37.6 89.5 39.9 88.8 41.6 87.4 43 85.4 43.8 82.6 44.1 80.4 43.7 78.7 42.6 77.7 40.6 77.5 39.4 77.7 38.1 78.7 36.1 80.4 34.7Z M95.2 33.9 96.6 34 97.3 34.6 97.7 35.4 97.5 36.9 96.9 37.6 96.1 38 94.6 37.7 93.9 37.1 93.6 36.4 93.8 34.9 94.4 34.3Z M66.8 34.6 70.6 34.6 72.9 35 74.8 36.4 75.8 38.1 76 39.6 75.8 43.6 75.3 45.4 73.6 47.3 71.1 48.8 68.4 49.7 65.9 50.3 62.4 50.8 57.1 51.1 41.6 50.1 35.1 51.5 31.4 51.9 30.1 51.7 29.2 50.9 29 50.1 29.1 48.9 30 47.4 35.1 43 39.9 40.6 45.6 38.5 50.4 37.2 60.1 35.5Z M230.4 37.6 232.6 37.5 235.1 38.2 237.4 39.6 239 41.1 239.9 42.4 239.9 48.4 238.9 49.3 237.1 50.1 234.9 50 232.6 49 231.2 47.4 228.7 42.6 228.1 40.6 228.2 39.6 228.7 38.6Z M207.6 46.9 209.6 46.7 211.1 47 212.6 48 214.6 50.1 215.3 51.6 216 54.6 216.1 59.6 215.3 64.1 213.5 68.4 210.2 73.4 206.5 77.6 203.1 80.7 198.1 84 192.9 86.5 186.6 88.5 182.4 89.5 177.1 90.3 169.6 90.2 168.4 90 167.4 89.4 166.6 88.1 167 86.6 173.4 82.1 176.1 79.3 184.5 65.6 191.9 57.2 195.4 54.1 199.1 51.4 204.9 47.9Z M131.6 54.4 132.4 54.3 133.4 54.6 134.4 55.9 134.3 57.4 133.6 58.2 132.9 58.6 131.4 58.5 130.5 57.9 130.1 57.1 130 56.4 130.3 55.4Z M134.7 62.4 136.6 62.3 138.2 63.4 138.8 64.9 138.3 66.6 137.6 67.4 136.4 68.2 134.4 68.5 131.4 70.1 129.9 69.9 129.2 68.9 129.4 67.6 131.9 65.4 132.2 64.4 132.9 63.4Z M30.1 68.6 30.9 68.4 31.9 68.5 35.4 71.9 39.4 73.5 40.1 74.1 41.6 72.9 43.4 72.5 45.4 73.1 46.9 74.6 47.9 73.9 49.1 73.5 50.4 73.5 51.9 74 53 74.9 53.7 76.4 53.7 79.4 53.3 80.9 51.9 82 49.6 82.3 48.6 82 47.6 81.1 46.6 79.1 44.9 80.6 42.6 80.6 41.3 79.6 40.4 77.8 39.4 78.3 37.9 78.3 36.9 77.7 36.1 76.6 34.1 76.5 33.1 75.5 31.6 75 31 74.4 30.8 73.1 29.8 71.9 29.3 70.6 29.4 69.4Z M81.1 69.9 87.1 69.8 91.9 70.3 96.9 71.2 100.4 72.5 102.4 73.8 103.7 75.6 104.1 77.6 103.5 79.9 102.1 82.1 99.6 84.6 97.1 85.9 93.9 87 88.9 87.6 78.6 87.9 74.4 87.7 71.4 86.8 69.7 85.1 69 82.6 69.3 78.4 70.5 74.6 71.9 72.8 73.9 71.5 76.9 70.5Z M128.4 70.6 130.1 70.4 131.9 71 133.5 72.4 134.3 73.9 134.5 75.6 134 77.1 132.6 78.8 131.1 79.5 129.4 79.7 127.6 79.3 126 78.1 125 76.4 124.9 74.4 125.5 72.9 126.6 71.5Z M60.2 73.9 62.4 74 64.6 75.3 66.5 77.4 67.4 79.6 67.5 80.9 67.3 81.9 66.1 83.1 65.6 84.4 64.6 85.3 62.9 86 60.6 86.1 57.9 85.2 56.1 83.9 54.7 81.9 54.3 78.6 55 76.9 57.1 75 58.6 74.2Z"/>
<path fill="#8dc1dc" fill-rule="evenodd" d="M237.3 17.9 238.6 18 239.9 18.8 239.9 22 238.9 22.7 237.6 23.2 236.4 23.2 233.4 22.4 231.9 21.4 231.8 20.4 232.6 19.4Z M107.5 33.9 117.6 33.7 123.6 34.2 133.4 36.3 137.4 37.6 144.1 40.5 149.6 43.5 155.4 47 161.5 52.1 167.1 56.1 170.3 57.9 176.9 60.5 177.7 61.4 177.7 62.1 176.6 63.2 174.6 63.9 167.9 64 160.6 63.5 154.6 62.6 150.4 62.6 144.9 61.2 142.1 59.7 141.2 58.6 140.5 57.1 139.6 52.9 139.8 51.1 140.5 49.4 139.9 47.7 139 46.9 137.1 45.9 132.9 44.6 130.9 44.6 128.7 44.9 119.9 47.5 113.4 48.8 109.9 49 107.6 48.7 105.6 47.3 104.3 45.1 103.5 39.4 102.9 36.6 103 35.6 103.9 34.7Z M82.5 35.1 84.1 34.9 85.6 35.2 86.9 35.8 87.9 36.9 88.4 38.4 88.3 39.9 87.7 41.1 86.9 41.9 84.6 42.8 82.4 42.9 80.6 42.5 79.3 41.4 78.7 39.6 79.1 37.6 80.6 35.9Z M95 35.1 95.6 34.9 96.4 35.2 96.7 35.9 96.4 36.7 95.6 36.9 94.9 36.6 94.6 35.9Z M63.1 36.3 66.9 35.9 72.1 36.2 73.4 36.9 74.3 38.1 74.5 39.9 74 44.6 72.6 46.3 69.6 47.8 66.4 48.7 61.6 49.4 56.1 49.7 41.6 48.7 34.4 50.1 31.6 51.1 30.4 51 29.8 50.4 29.8 49.6 30.4 48.8 35.6 44.4 40.9 41.7 50.4 38.7Z M230.5 39.1 232.1 38.9 234.1 39.3 235.9 40.2 237.6 41.7 238.5 43.1 238.9 45.1 238.8 46.9 238.1 48.1 236.9 48.7 235.4 48.6 233.9 48.1 232.8 47.1 229.6 41.1 229.7 39.9Z M207.9 47.9 209.6 47.7 210.9 48 212.3 49.1 213.8 50.9 214.5 52.6 215 55.1 215 60.1 214.2 64.1 212.3 68.4 209.5 72.6 205.6 77.1 202.4 80 198.6 82.5 192.6 85.5 189.9 86.5 182.4 88.5 177.6 89.2 170.1 89.2 168.3 88.6 167.9 87.9 168.3 86.9 174.1 82.9 177.1 79.7 185.2 66.4 192.7 57.9 196.1 54.8 199.4 52.5 205.1 49Z M131.9 55.4 132.9 55.5 133.4 56.1 133.4 56.9 132.6 57.6 131.6 57.5 131.1 56.9 131.2 55.9Z M135.4 63.1 136.6 63.3 137.6 64.1 137.9 65.4 137.2 66.6 136.4 67.2 134.9 67.6 131.4 69.5 130.1 69.4 129.7 68.6 130.1 67.6 132.6 65.6 133.7 63.9Z M30.4 69.1 31.6 69 35.1 72.4 39.4 74.2 40.5 75.6 40.5 76.4 40.1 77.1 39.1 77.8 38.1 77.8 37.4 77.4 36.3 76.1 34.4 76 33.4 74.7 32.6 74.8 31.9 74.5 31.4 73.9 31.3 72.9 29.9 70.9 29.8 69.9Z M80.5 71.4 88.1 71.3 93.6 72 97.9 73 100.4 74.1 101.9 75.4 102.6 77.1 102.3 78.9 101.2 80.9 99.4 82.9 95.6 85.4 93.9 86.2 90.4 86.6 85.1 86.2 76.1 86.7 74.1 86.5 72.9 86.1 71.1 84.6 70.3 82.6 70.8 78.4 71.8 75.4 72.9 73.9 74.6 72.7 76.9 72Z M129.1 71.4 130.6 71.4 131.9 72 133.1 73.4 133.5 74.6 133.5 75.9 132.9 77.1 131.9 78.2 130.4 78.7 128.9 78.7 127.4 78.1 126.2 76.9 125.8 75.6 125.9 74.1 126.6 72.9 127.6 71.9Z M42.4 74.1 44.1 74 45.1 74.6 45.6 75.4 46.3 78.1 45.9 79.1 44.9 80 43.9 80.2 42.6 80 41.3 78.6 41.3 75.4Z M49.4 74.9 50.6 75 51.8 75.6 53.1 78.4 53 80.1 52.6 80.9 51.6 81.5 50.1 81.8 48.9 81.5 48.1 80.9 47.4 79.9 47.6 78.1 47.3 77.1 47.4 76.4 48.1 75.4Z M59.5 75.4 61.4 75.2 62.9 75.7 64.8 77.4 65.9 79.1 66.1 80.6 65.5 81.9 65.5 83.4 64.6 84.6 63.4 85.3 60.9 85.5 58.1 84.7 56.6 83.7 55.3 81.9 55.2 80.1 56.2 77.6 57.6 76.2Z"/>
<path fill="#b5deec" fill-rule="evenodd" d="M236.9 18.6 238.4 18.7 239.2 19.6 239.3 20.9 238.4 22.2 237.1 22.5 235.9 22.4 233.9 21.9 232.7 21.1 232.6 20.5 233.3 19.9Z M109.5 34.1 117.9 34.1 124.1 34.7 134.6 37.1 140.9 39.5 146.9 42.4 154.6 47.1 161.1 52.4 166.9 56.5 169.9 58.2 176.4 60.8 177 61.4 177.1 62.1 176.1 62.9 174.4 63.5 167.9 63.6 160.9 63.1 154.9 62.2 150.6 62.2 144.9 60.8 142.2 59.1 140.7 56.6 140 52.9 140.2 51.1 141 49.4 140.4 47.6 139.4 46.6 137.6 45.6 133.4 44.3 131.4 44.1 128.9 44.4 119.4 47.2 112.9 48.4 109.4 48.5 107.6 48.2 105.9 46.9 104.8 45.1 103.3 36.4 103.8 35.4 104.6 34.9Z M82.6 35.6 83.9 35.5 85.4 35.7 86.6 36.3 87.4 37 87.8 38.1 87.8 39.6 87.4 40.6 86.6 41.4 84.9 42.2 82.6 42.4 80.9 42.1 79.8 41.1 79.2 39.6 79.6 37.9 80.9 36.4Z M95.5 35.6 95.9 35.7 95.9 36.2 95.4 36.1Z M66.8 36.1 72.1 36.5 73.3 37.1 73.9 38.4 73.6 43.4 73.2 44.6 71.9 46 69.4 47.2 66.9 47.9 63.1 48.6 56.9 49 40.9 48.1 34.9 49.4 31.4 50.9 30.6 50.9 30 50.4 30 49.9 30.4 49.1 32.8 47.4 35.4 44.9 38.1 43.2 41.4 41.8 51.1 38.8 61.1 37.1 63.1 36.6 63.9 36.8 65.9 36.6Z M235.2 43.4 235.6 43.2 236.4 43.6 236.7 44.6 236.4 45.4 235.3 44.6 235.1 43.9Z M207.8 48.4 209.4 48.2 210.6 48.4 211.9 49.4 213.4 51.1 214.5 55.1 214.6 60.1 213.7 64.1 211.9 68.1 209.1 72.4 205.2 76.9 202.1 79.6 198.6 82 194.9 84 189.9 86 182.4 88 177.6 88.7 170.4 88.7 168.9 88.3 168.6 87.9 168.9 87.1 174.4 83.2 177.6 79.9 185.8 66.4 193.1 58.1 196.4 55.2 199.9 52.7 205.4 49.4Z M131.8 56.1 132.6 56 132.8 56.4 132.7 56.9 131.9 56.9Z M134.8 63.6 136.1 63.5 137.2 64.1 137.5 65.1 136.9 66.4 131.4 69.3 130.2 69.1 130 68.6 130.2 67.9 133 65.6 133.7 64.4Z M30.1 69.9 30.9 69.2 31.6 69.3 33.5 71.4 35.1 72.6 39.4 74.4 40.3 75.6 40.3 76.4 39.9 77.1 39.1 77.6 38.1 77.6 37.4 77.1 36.8 76.1 35.9 75.7 34.6 75.8 33.9 75.4 33.6 74.6 32 74.4 31.7 73.9 31.6 72.9 30 70.6Z M128.7 71.9 129.9 71.7 131.3 72.1 132.4 73.1 133 74.1 133.2 75.4 132.9 76.4 132.1 77.4 130.9 78.2 129.4 78.4 128.1 78.1 127.1 77.4 126.3 76.1 126.2 74.9 126.6 73.6 127.4 72.6Z M79.8 72.1 87.9 72 93.1 72.6 97.4 73.6 99.9 74.6 101.2 75.6 101.9 77.1 101.7 78.6 100.8 80.4 99.1 82.3 96.4 84.6 93.9 85.8 90.1 86.2 85.6 85.5 83.9 85.6 79.1 85.8 76.1 86.4 74.4 86.2 72.9 85.7 71.3 84.4 70.6 82.4 72.3 75.9 73.3 74.4 74.6 73.5 76.6 72.7Z M43.1 74.6 43.9 74.7 44.6 75.1 46 77.4 45.8 78.9 45.1 79.6 44.4 79.9 42.6 79.7 41.7 78.9 41.3 78.1 41.4 77.1 41.9 76.4 42.1 75.4Z M49.1 75.6 50.1 75.5 51 75.9 52.7 78.1 53 79.1 52.8 80.1 51.6 81.3 50.4 81.6 49.4 81.4 48.6 81.1 47.8 80.1 47.6 79.1 48.2 77.6 48.1 76.6Z M60.3 75.9 61.9 76 63.1 76.6 64.6 78.1 65.3 79.6 65.3 80.6 65 81.1 65.4 82.6 65.2 83.6 64.4 84.5 62.9 85.2 60.6 85.3 58.1 84.5 56.6 83.4 55.4 81.6 55.5 79.9 57 77.6 58.6 76.4Z"/>
<path fill="#dbf1f7" fill-rule="evenodd" d="M108.4 34.6 117.6 34.5 123.6 35.1 133.3 37.1 137.1 38.4 143.9 41.3 148.6 43.9 154.7 47.6 160.9 52.7 166.9 57 169.9 58.6 175.6 60.9 176.3 61.4 176.5 61.9 175.6 62.6 174.1 63.1 167.6 63.2 160.9 62.7 155.1 61.9 150.6 61.9 144.9 60.5 142.2 58.6 140.9 56.1 140.3 52.1 140.5 50.9 141.3 49.4 140.7 47.4 139.6 46.3 137.9 45.3 133.6 43.9 131.4 43.7 128.6 44 119.4 46.8 113.1 48 109.9 48.2 107.9 47.8 106.2 46.6 105.1 44.9 103.8 36.6 104 35.9 104.6 35.4Z M82.5 36.1 84.6 36 85.9 36.4 86.9 37.1 87.3 38.1 87.4 39.1 87.2 40.1 86.6 40.9 85.1 41.6 83.4 41.9 81.6 41.8 80.4 41.1 79.7 39.9 79.9 38.4 80.9 37Z M66.4 36.4 71.9 36.5 73 37.1 73.5 37.9 73.6 38.9 73.2 39.9 72.8 44.1 71.6 45.4 69.2 46.6 66.7 47.4 62.9 48 56.6 48.4 43.6 47.4 40.6 47.5 36.1 48.4 31.4 50.7 30.6 50.7 30.2 50.4 30.1 49.9 30.6 49.1 33 47.4 35.6 44.9 38.1 43.4 41.4 41.9 50.9 39 60.6 37.4 63.1 36.7 64.1 37.1 65.9 36.9Z M208.7 48.6 209.9 48.7 210.9 49.1 212.4 50.4 213.2 51.6 214.2 55.6 214.1 60.6 213.3 64.1 211.4 68.1 208.6 72.3 204.9 76.6 201.9 79.3 198.4 81.6 194.6 83.6 189.9 85.6 182.3 87.6 177.6 88.3 170.9 88.3 169.4 87.9 169.7 87.1 174.6 83.5 177.7 80.4 186.1 66.6 193.4 58.4 197.1 55.1 202.9 51.3 206.1 49.4Z M135 63.9 136.1 63.8 137 64.4 137.2 65.1 136.8 66.1 131.6 69 130.9 69.2 130.4 69 130.1 68.6 130.4 67.9 131.6 66.7 133.3 65.6 133.9 64.6Z M30.7 69.4 31.8 69.6 33.4 71.4 35.3 72.9 39.1 74.4 40.1 75.6 39.8 76.9 39.1 77.4 38.1 77.4 36.6 75.9 35.9 75.5 34.4 75.6 33.6 74.2 32.9 74.5 32.1 74.3 31.8 73.6 31.8 72.9 30.2 70.6 30.2 69.9Z M129.1 72.1 130.3 72.1 131.4 72.6 132.2 73.4 132.7 74.4 132.8 75.4 132.5 76.4 131.7 77.4 130.6 77.9 129.4 78 128.1 77.7 127.1 76.9 126.6 75.9 126.5 74.6 127.1 73.4 127.9 72.6Z M80.6 72.6 88.1 72.6 92.8 73.1 96.9 74 99.4 75 100.6 75.9 101.2 77.1 101.1 78.4 100.1 80.2 97.9 82.5 97.1 83.6 95.4 84.9 93.9 85.6 89.9 86 85.1 85 79.4 85.3 77.9 85.9 76.1 86.1 74.4 86 72.9 85.4 71.3 83.9 70.8 82.1 73 75.9 74 74.6 75.4 73.8Z M43.1 75.6 44.9 76 45.8 77.1 46 77.9 45.8 78.6 44.6 79.7 42.9 79.7 41.6 78.4 41.7 76.9Z M49.3 76.4 50.3 76.4 50.7 76.9 51.9 77.3 52.6 78.1 52.7 79.9 51.9 81 50.6 81.4 49.6 81.4 48.6 80.9 47.9 80.1 47.8 78.6Z M59.8 76.6 61.1 76.5 62.3 76.9 63.5 77.9 64.4 79.1 64.6 79.9 64.3 80.6 65.1 81.9 65.2 83.1 64.6 84.1 63.4 84.9 60.9 85.2 58.1 84.3 56.8 83.4 55.6 81.6 55.5 80.1 56.1 79.1 57.5 78.4 58.4 77.3Z"/>
<path fill="#f4fbd4" fill-rule="evenodd" d="M107.9 35.1 117.4 34.9 123.4 35.5 133.5 37.6 136.6 38.6 143.6 41.6 148.6 44.4 154.7 48.1 160.6 53.1 166.6 57.3 169.6 59 174.7 61.1 175.4 61.9 174.7 62.4 173.6 62.6 167.4 62.7 160.9 62.2 155.6 61.5 152.9 61.8 150.6 61.7 144.6 60.1 142.3 58.4 141 55.9 140.6 51.9 140.9 50.6 141.8 49.4 141 47.1 139.9 46 138.1 45 133.9 43.6 131.6 43.3 128.9 43.6 119.1 46.4 112.9 47.6 109.9 47.7 108 47.4 106.4 46.2 105.5 44.6 104.3 36.9 104.4 36.3 104.9 35.8Z M82.7 36.4 84.9 36.4 86.4 37.5 86.8 39.1 86.1 40.5 84.8 41.1 83.1 41.4 81.6 41.2 80.7 40.6 80.3 39.6 80.5 38.4 81.3 37.4Z M66.3 36.6 66.9 36.4 71.6 36.6 72.8 37.1 73.3 37.9 73.2 39.1 72.4 40.1 72.2 43.1 71.9 44 70.6 45.1 68.4 46.1 62.6 47.3 56.6 47.7 43.6 46.7 37.6 47.6 31.4 50.6 30.6 50.5 30.3 50.1 30.8 49.1 32.9 47.6 36.4 44.5 41.6 42 51.1 39.1 63.1 36.9 64.1 37.4 65.9 37.2Z M208.7 49.1 209.9 49.2 210.8 49.6 212.1 50.9 212.9 52 213.7 55.9 213.6 60.9 212.9 63.9 211.1 67.8 208.4 71.9 204.6 76.2 201.7 78.9 198.4 81.1 194.7 83.1 189.8 85.1 184.7 86.6 177.9 87.8 173.1 87.8 170.8 87.4 171.1 86.9 175.6 83.3 178.2 80.4 186.1 67.4 193.6 58.8 196.8 55.9 200.4 53.4 205.9 50.1Z M135.3 64.1 136.1 64.1 136.8 64.6 136.8 65.6 136.4 66.3 131.4 69 130.4 68.9 130.3 68.4 130.8 67.6 133.6 65.6 134.4 64.6Z M30.6 69.6 31.1 69.4 31.6 69.6 33.4 71.6 35.1 72.9 39.1 74.6 40 75.6 39.7 76.9 38.9 77.4 38.1 77.3 36.9 75.9 35.9 75.4 34.9 75.6 34.4 75.4 33.6 74.1 32.9 74.3 32.2 74.1 31.9 73.6 32 72.9 30.4 70.9 30.3 70.1Z M128.8 72.6 130.6 72.6 131.4 73.1 132.2 74.1 132.3 75.9 131.6 76.9 130.9 77.4 129.9 77.6 128.6 77.5 127.7 76.9 127.1 76.1 126.9 75.1 127.1 74.1 127.9 73.1Z M80.7 73.4 87.6 73.3 95.1 74.4 97.7 75.1 99.6 76.1 100.3 77.1 100.3 78.1 99.4 80.6 97.7 82.1 97.1 83.4 95.4 84.7 93.9 85.3 89.9 85.8 86.9 85.3 85.1 84.7 79.4 85 77.9 85.7 76.1 85.9 74.1 85.7 72.8 85.1 71.4 83.6 71.1 81.9 71.6 80.4 72.7 79.1 73.1 77.4 73.9 75.9 74.6 75.1 76 74.4Z M43.3 75.9 44.9 76.1 45.8 77.4 45.6 78.6 44.6 79.6 42.9 79.6 41.7 78.4 41.8 76.9Z M49.5 77.1 51.4 77.2 52.4 78.1 52.6 79.6 51.9 80.9 50.6 81.3 49.6 81.2 48.8 80.9 48.1 80.1 47.8 79.4 48 78.4 48.6 77.6Z M58 78.4 60.4 78.5 62.9 79.4 64.9 81.9 65.1 82.9 64.7 83.9 63.1 84.9 61.4 85.1 59.6 84.8 57.4 83.7 55.8 81.9 55.6 80.6 56.3 79.1Z"/>
<path fill="#fff4ae" fill-rule="evenodd" d="M112.5 35.4 117.1 35.4 125.5 36.6 134.1 38.6 140.5 41.1 146.2 43.9 153.7 48.4 160.4 53.8 166.1 58 170.4 60.6 170.7 61.1 169.7 61.6 167.6 61.8 161.1 61.5 156.4 60.9 154.6 61.3 152.4 61.4 150.1 61.2 144.5 59.9 142.4 58.1 141.3 55.6 140.9 51.9 141.4 50.5 142.4 49.4 141.7 46.9 140.6 45.6 139.4 44.8 135.1 43 132.1 42.5 129.6 42.7 115.5 46.4 111.4 46.9 108.4 46.5 106.9 45.4 106.1 43.7 105.5 37.1 105.9 36.6 107.2 36.1Z M66.5 36.6 71.9 36.8 73 37.4 73.2 38.4 72.6 39.4 70.9 40.7 69.6 42.6 67.4 42.9 64.4 42.8 63.6 43.3 62.4 43.1 59.6 43.8 57.6 43.9 55.9 44.3 50.9 44.9 45.9 46.3 37.6 47.5 34.9 48.6 31.6 50.4 30.9 50.5 30.4 50.1 30.9 49.2 33.1 47.6 36.4 44.7 41.6 42.1 50.9 39.2 63.1 37 64.1 37.7 65.9 37.5Z M83.1 36.6 84.6 36.7 85.1 36.9 85.3 37.4 84.4 38 83.1 38 82.3 37.4 82.5 36.9Z M207.8 50.6 208.9 50.6 210.1 51.1 211.9 52.8 212.8 55.9 212.8 59.9 212.1 63.3 210.6 66.8 207.9 71.1 205.6 73.9 201.5 77.9 198.3 80.1 191.4 83.6 186 85.4 181.3 86.4 178.1 86.5 176.6 85.9 176.2 85.1 176.7 83.9 180.2 78.9 185.6 69.6 190.4 63.6 194.4 59.2 198.3 55.9 204 52.1 206.1 51.1Z M134.9 64.6 136.2 64.6 136.6 65.4 136.4 66.1 131.6 68.7 130.6 68.8 130.5 68.1 131.2 67.4 133.9 65.6Z M30.8 69.6 31.6 69.8 33.2 71.6 35.1 73.1 39.1 74.7 39.8 75.6 39.6 76.8 38.9 77.3 38.1 77.2 37.5 76.6 37.1 75.9 35.9 75.3 34.9 75.5 34.4 75.3 33.6 73.9 32.4 74.1 32 73.6 32.1 72.9 30.5 70.9 30.4 70.1Z M128.8 73.6 130.1 73.5 131.1 74.2 131.4 75.4 130.8 76.4 129.1 76.6 128.1 76 127.9 74.8Z M42.9 76.1 44.4 76 45.4 76.9 45.7 78.1 44.9 79.3 43.1 79.5 42 78.6 41.7 77.9 41.8 77.1Z M81.9 76.4 89.6 76.3 94.6 77 98.4 78.3 99.1 79 99.3 79.9 98.9 80.8 97.6 81.7 96.5 83.6 94.6 84.8 92.6 85.4 89.4 85.5 86.9 85.1 84.9 84.4 79.6 84.6 77.6 85.5 75.6 85.7 73.4 85.2 71.9 84 71.3 82.6 71.6 80.9 72.4 79.8 74.4 78.1 75.9 77.3Z M49.1 77.4 50.9 77.2 52.1 77.9 52.6 79.4 52 80.6 50.1 81.2 49.1 80.9 48.4 80.4 48 79.6 48 78.9 48.5 77.9Z M57.5 78.6 59.6 78.5 62.8 79.6 64 80.6 64.8 81.9 65 82.9 64.7 83.6 63.4 84.7 61.6 85 59.9 84.7 57.6 83.8 56.1 82.1 55.7 80.9 56.1 79.5Z"/>
<path fill="#fedb8c" fill-rule="evenodd" d="M111.7 36.1 117.4 36 119.6 36.6 120.1 37.4 118.9 38.1 114.6 38.6 111.9 38.4 110.2 37.9 109.5 37.4 110.1 36.6Z M66.3 36.9 66.9 36.6 71.6 36.8 72.8 37.4 73.1 38.1 72.6 39 70.9 40.5 69.9 42.1 69.4 42.4 67.4 42.8 66.6 42.1 64.6 42.2 63.9 43 62.1 43 51.6 44.6 46.1 46 37.6 47.4 34.9 48.5 31.6 50.3 31.1 50.4 30.6 50.1 30.9 49.3 33.1 47.7 36.4 44.8 41.6 42.2 50.9 39.4 62.9 37.1 63.6 37.3 64.1 38.3 65.9 38.1Z M144.8 48.9 147.9 48.7 150.3 49.1 152.9 50.4 155.5 52.1 156.9 53.6 157.9 55.9 157.9 57.9 157.1 59.5 155.1 60.6 152.6 60.9 145.9 60.1 143.4 58.8 142.3 57.6 141.6 55.9 141.5 52.1 141.9 50.9 142.4 50.2 143.5 49.4Z M202.8 58.1 204.2 58.1 205.7 58.6 206.9 59.7 207.6 61.1 207.9 62.9 207.8 65.1 206.1 70.3 203.1 74.6 201.3 76.6 198.3 78.9 196.5 79.9 194.6 80.3 193.4 80.3 191.9 79.9 190.9 79 190.1 77.9 189.7 75.1 190.4 71.2 191.6 68 193.6 64.9 196.9 61.4 200 59.1Z M132 66.9 135.9 65 136.4 65.2 136.5 65.6 136.1 66.2 131.4 68.7 130.6 68.6 130.7 68.1Z M30.7 69.9 31.1 69.7 31.6 69.9 33.1 71.7 35.1 73.2 38.9 74.7 39.7 75.6 39.6 76.6 38.9 77.1 38.1 77.1 37.1 75.7 35.6 75.1 35.1 75.4 34.4 75.1 34.1 74.1 33.6 73.8 32.9 74.1 32.4 74 32.1 73.4 32.3 72.9 30.7 70.9Z M43.2 76.1 44.6 76.3 45.4 77.1 45.5 78.4 44.6 79.3 43.1 79.4 41.9 78.4 41.9 77.1Z M80.8 77.1 90.1 77 94.4 77.6 97.7 78.6 98.4 79.1 98.6 79.9 98.2 80.6 97.4 81.2 97 82.6 96.4 83.4 94.4 84.8 92.1 85.3 89.9 85.4 87.4 85 84.4 83.8 79.9 84 78.1 85.2 75.6 85.6 73.4 85 71.9 83.6 71.6 82.1 72 80.6 73 79.6 75.5 78.1Z M49.4 77.4 51.1 77.3 52.2 78.1 52.5 79.4 51.8 80.6 49.9 81 49.1 80.8 48.3 80.1 48.1 79.4 48.2 78.6 48.7 77.9Z M57.9 78.6 60.6 78.9 62.9 79.8 64.7 81.9 64.9 82.9 64.6 83.6 63.1 84.6 61.4 84.9 59.9 84.6 57.6 83.6 56.1 81.9 55.8 80.6 56.4 79.3Z"/>
<path fill="#fdb76a" fill-rule="evenodd" d="M66.5 36.9 71.6 36.9 72.6 37.4 73 38.1 72.6 38.8 70.6 40.6 69.7 42.1 67.4 42.6 66.8 42.1 66.3 39.9 66.1 37.9Z M50.2 39.6 63.4 37.3 64 38.4 64.4 41.9 63.9 42.9 62.1 42.9 51.9 44.4 46.1 45.9 37.9 47.2 34.9 48.3 31.6 50.1 30.8 50.1 31 49.4 33.1 47.9 36.4 44.9 40.9 42.6Z M146.5 50.1 148.4 50.1 150.6 50.9 152.1 52 153.1 53.5 153.5 54.9 153.3 56.4 152.4 58.1 151.1 59.1 147.9 59.9 146 59.9 143.9 58.9 142.4 57.1 141.9 54.6 142.5 52.9 144.4 50.9Z M201.4 61.9 202.4 61.7 203.1 62 203.7 62.6 204.1 63.9 203.9 66.4 202.6 69.9 200.9 72.9 198.4 75.6 195.8 77.4 194.6 77.7 193.6 77.6 192.7 76.6 192.5 74.6 193.1 71.8 194.1 69.2 195.4 67.1 197.6 64.4 199.8 62.6Z M131.8 67.1 135.9 65.2 136.4 65.6 135.6 66.4 131.4 68.6 130.9 68.6 130.8 68.1Z M30.9 69.9 31.6 70 33.1 71.8 34.9 73.2 38.9 74.9 39.6 75.7 39.5 76.6 38.9 77 38.1 76.9 37.4 75.7 35.6 74.9 35.1 75.2 34.6 75.1 34.3 74.1 33.6 73.7 32.5 73.9 32.2 73.4 32.5 72.9 30.8 70.9 30.7 70.4Z M42.9 76.4 44.1 76.2 45.1 76.9 45.5 78.1 44.7 79.1 43.1 79.3 42.1 78.5 42 77.4Z M50.2 77.4 51.6 77.7 52.2 78.4 52.4 79.1 51.9 80.4 50.4 81 48.9 80.5 48.2 79.4 48.8 77.9Z M89.4 78.1 92.9 78.4 95.9 79.9 96.6 80.6 96.9 81.4 96.3 83.1 94.4 84.6 91.1 85.3 87.4 84.9 84.9 83.7 84.3 83.1 83.8 81.9 83.8 80.9 84.3 80.1 86.4 78.9Z M57.4 78.9 59.1 78.7 62.6 79.8 63.9 80.9 64.6 81.9 64.8 82.9 64.5 83.6 63.1 84.5 61.4 84.7 59.9 84.5 57.8 83.6 56.6 82.5 55.9 81.1 56.3 79.6Z M75.8 79.1 77.6 79.4 78.8 79.9 79.6 80.7 80.1 81.9 80.1 83.1 79.5 84.1 78 85.1 76.4 85.5 75.1 85.4 73.5 84.9 72.3 83.9 71.9 82.9 72.1 81.2 72.9 80.2 73.9 79.6Z"/>
<path fill="#f88b51" fill-rule="evenodd" d="M66.8 36.9 71.6 37.1 72.6 37.5 72.9 38.1 70.7 40.4 69.6 42 67.4 42.5 66.8 41.9 66.3 38.9 66.3 37.4Z M62.8 37.4 63.6 37.6 64 38.9 64.3 41.9 63.9 42.8 51.9 44.3 46.1 45.8 38.1 47.1 34.9 48.2 31.6 50 30.9 49.9 36.6 44.9 41.8 42.4 50.7 39.6Z M145.9 50.9 147.6 50.7 149.3 51.4 150.9 52.5 151.6 53.9 151.8 55.4 151.4 57.1 149.9 58.6 148.3 59.4 146.9 59.5 144.6 59 142.9 57.4 142.4 56.1 142.4 54.1 143.2 52.6 144.4 51.4Z M135.4 65.4 136.1 65.4 136.1 65.9 131.6 68.3 131 68.4 132.4 66.9Z M30.9 70.1 31.6 70.2 33 71.9 34.9 73.3 38.7 74.9 39.5 75.6 39.4 76.5 38.9 76.9 38.3 76.9 37.7 76.4 37.4 75.6 35.6 74.8 35.1 75.1 34.6 75 34.5 74.1 33.4 73.4 32.6 73.8 32.4 73.4 32.7 72.9 31.1 71.2Z M43.1 76.4 44.4 76.4 45.2 77.1 45.3 78.1 44.6 79.1 43.1 79.2 42.2 78.4 42.1 77.3Z M49.4 77.6 50.9 77.5 51.9 78.1 52.2 79.4 51.8 80.4 50.1 80.9 48.6 80.1 48.3 78.9Z M57.8 78.9 58.9 78.8 60.4 79 62.6 79.9 64.4 81.9 64.7 82.9 64.4 83.6 63.1 84.4 61.4 84.6 59.9 84.4 57.6 83.4 56.3 81.9 56 80.9 56.4 79.6Z M87.4 79 91.9 78.7 94.1 79.3 96.2 80.9 96.5 81.6 96.4 82.6 95.9 83.4 94.6 84.4 91.6 85.1 89.3 85.1 86.1 84.3 84.4 83 84 82.1 84.2 81.1 85.9 79.7Z M73.9 80 76.1 79.5 78.1 80.1 79.8 81.6 80 82.6 79.7 83.6 78.1 84.9 76.5 85.4 75.1 85.3 73.6 84.8 72.3 83.6 72 82.1 72.6 81.1Z"/>
<path fill="#ec5c3b" fill-rule="evenodd" d="M66.6 37.1 71.4 37.1 72.4 37.5 72.7 38.1 70.5 40.4 69.6 41.9 67.4 42.4 66.9 41.7 66.4 38.9Z M50.2 39.9 63.4 37.6 63.7 38.1 64.1 41.6 63.8 42.6 51.6 44.2 46.1 45.7 37.9 47 34.9 48.1 31.6 49.8 31.3 49.6 36.9 44.9 41.5 42.6Z M146.7 50.9 147.9 51 149.4 51.8 150.5 53.1 151 54.4 151 56.1 150.4 57.4 149.4 58.5 147.9 59.2 146.1 59.2 144.4 58.6 143.1 57.3 142.6 55.6 142.8 53.6 143.8 52.1 144.9 51.4Z M135.1 65.6 136 65.6 135.6 66.1 131.6 68 132.6 66.9Z M31.4 71.4 31.1 70.2 31.6 70.4 32.9 72 34.9 73.5 38.6 75 39.3 75.6 39.3 76.4 38.9 76.8 38.4 76.8 37.9 76.4 37.6 75.6 35.6 74.6 34.7 74.9 34.6 74.6 34.7 74.1 33.1 73 32.9 73.6 32.6 73.5 32.9 72.9Z M42.9 76.6 43.9 76.4 44.9 76.9 45.2 77.9 44.7 78.9 43.4 79.1 42.4 78.4 42.2 77.4Z M49.9 77.6 51.1 77.7 51.9 78.4 52.1 79.6 51.4 80.5 49.6 80.6 48.6 79.9 48.4 79.1 48.6 78.5 49.2 77.9Z M58.5 78.9 61.1 79.4 62.7 80.1 64.4 82.1 64.5 82.9 64.2 83.6 62.8 84.4 61.1 84.5 59.6 84.2 57.5 83.1 56.3 81.6 56.2 80.4 56.9 79.4Z M89.1 78.9 91.9 78.9 94.4 79.6 96.2 81.1 96.4 81.9 96.1 82.9 94.3 84.4 90.9 85 87.2 84.6 85.9 84.1 84.6 83.2 84.2 81.9 84.9 80.6 87.1 79.3Z M74.9 79.9 76.9 79.8 78.9 80.8 79.6 81.6 79.9 82.4 79.4 83.9 77.9 84.9 76.1 85.3 74 84.9 72.9 84.1 72.2 82.9 72.4 81.6 73.6 80.3Z"/>
<path fill="#d73027" fill-rule="evenodd" d="M66.7 37.4 67.1 37.2 71.4 37.3 72.3 37.6 72.5 38.1 70.6 40.1 69.4 41.8 67.4 42.2 67 41.6 66.6 39.4Z M50.8 39.9 63.1 37.7 63.6 38.6 64 41.6 63.6 42.5 51.9 44 45.9 45.6 39.4 46.5 37.1 47 33 48.6 36.8 45.1 41.9 42.6Z M146.1 51.1 147.6 51.1 149.1 51.9 150.1 52.9 150.9 54.6 150.9 55.9 150.1 57.5 149.2 58.4 147.6 59.1 146.1 59 144.4 58.4 143.4 57.4 142.8 55.9 142.9 54 143.6 52.6 144.6 51.7Z M31.3 70.6 31.6 70.6 32.1 71.1 32.9 72.5 31.6 71.4Z M35.3 74.1 38.5 75.1 39.1 75.6 39.1 76.4 38.4 76.6 37.9 76.1 37.9 75.5Z M43.3 76.6 44.2 76.6 44.9 77.2 45 78.1 44.4 78.9 43.1 78.9 42.4 78.1 42.4 77.4Z M49.5 77.9 50.9 77.8 51.6 78.3 52 79.1 51.6 80.1 50.1 80.6 48.9 80 48.6 78.9Z M57.9 79.1 60.6 79.4 62.5 80.1 64.1 81.9 64.4 82.6 64.2 83.4 63.1 84.1 61.4 84.3 60 84.1 58.1 83.4 56.9 82.2 56.3 80.9 56.6 79.8Z M88.6 79.1 91.9 79 94.1 79.6 96 81.1 96.2 81.9 96.1 82.5 94.4 84.2 91.4 84.8 87.6 84.6 85.8 83.9 84.5 82.6 84.4 81.9 84.6 81.1 85.9 80.1Z M75.6 79.9 78 80.4 79.6 81.9 79.7 82.6 79.4 83.6 78.1 84.6 76.6 85.1 75.4 85.1 73.8 84.6 72.6 83.6 72.3 82.4 72.8 81.4 73.9 80.4Z"/>
<rect x="30" y="50" width="100" height="20" fill="#fff"/>
<rect x="10.70" y="5.95" width="24.10" height="20.60" fill="#fff"/>
<text x="14.00" y="20.15" font-family="'Liberation Serif','Times New Roman',serif" font-weight="bold" font-style="italic" font-size="15.5">(e)</text>
<path d="M40.0 120.5V111.7M80.0 120.5V111.7M120.0 120.5V111.7M160.0 120.5V111.7M200.0 120.5V111.7M0 20.0H8.8M0 60.0H8.8M0 100.0H8.8" stroke="#000" stroke-width="1.9" fill="none"/>
<path d="M10.0 120.5V115.8M20.0 120.5V115.8M30.0 120.5V115.8M50.0 120.5V115.8M60.0 120.5V115.8M70.0 120.5V115.8M90.0 120.5V115.8M100.0 120.5V115.8M110.0 120.5V115.8M130.0 120.5V115.8M140.0 120.5V115.8M150.0 120.5V115.8M170.0 120.5V115.8M180.0 120.5V115.8M190.0 120.5V115.8M210.0 120.5V115.8M220.0 120.5V115.8M230.0 120.5V115.8M0 10.0H4.6M0 30.0H4.6M0 40.0H4.6M0 50.0H4.6M0 70.0H4.6M0 80.0H4.6M0 90.0H4.6M0 110.0H4.6" stroke="#0a0a20" stroke-width="0.85" fill="none"/>
<rect x="0.5" y="0.7" width="239.7" height="119.5" fill="none" stroke="#000" stroke-width="1.6"/>
<text x="159.30" y="47.95" font-family="'Liberation Serif','Times New Roman',serif" font-weight="bold" font-size="15.5">U</text>
<text x="139.40" y="82.55" font-family="'Liberation Serif','Times New Roman',serif" font-weight="bold" font-size="15.5">DTb</text>
<text x="108.70" y="94.95" font-family="'Liberation Serif','Times New Roman',serif" font-weight="bold" font-size="15.5">DTa</text>
<text x="-5.7" y="24.60" text-anchor="end" font-family="'Liberation Serif','Times New Roman',serif" font-size="13">2</text>
<text x="-5.7" y="64.60" text-anchor="end" font-family="'Liberation Serif','Times New Roman',serif" font-size="13">0</text>
<text x="-5.7" y="104.60" text-anchor="end" font-family="'Liberation Serif','Times New Roman',serif" font-size="13">−2</text>
<text transform="translate(-18.8 58.2) rotate(-90)" text-anchor="middle" font-family="'Liberation Serif','Times New Roman',serif" font-weight="bold" font-style="italic" font-size="15.5">y/D</text>
<text x="-1.50" y="135.0" text-anchor="middle" font-family="'Liberation Serif','Times New Roman',serif" font-size="13">−4</text>
<text x="38.50" y="135.0" text-anchor="middle" font-family="'Liberation Serif','Times New Roman',serif" font-size="13">−2</text>
<text x="80.00" y="135.0" text-anchor="middle" font-family="'Liberation Serif','Times New Roman',serif" font-size="13">0</text>
<text x="120.00" y="135.0" text-anchor="middle" font-family="'Liberation Serif','Times New Roman',serif" font-size="13">2</text>
<text x="160.00" y="135.0" text-anchor="middle" font-family="'Liberation Serif','Times New Roman',serif" font-size="13">4</text>
<text x="200.00" y="135.0" text-anchor="middle" font-family="'Liberation Serif','Times New Roman',serif" font-size="13">6</text>
<text x="240.00" y="135.0" text-anchor="middle" font-family="'Liberation Serif','Times New Roman',serif" font-size="13">8</text>
<text x="122.3" y="146.6" text-anchor="middle" font-family="'Liberation Serif','Times New Roman',serif" font-weight="bold" font-style="italic" font-size="15">x/D</text>
</g>
<g transform="translate(296.65 329.00)">
<rect x="0" y="0" width="240" height="120" fill="#4575b4"/>
<path fill="#679ec9" fill-rule="evenodd" d="M115.2 33.6 121.4 33.4 128.9 33.5 130.9 33.8 134.6 34.8 136.8 36.1 146.4 39.8 154.1 43.5 157.6 45.7 165.9 52.1 175 58.4 180.2 60.6 187.9 63.5 189 64.9 188.8 66.4 187.1 68 184.1 69.1 181.4 69.5 177.4 69.5 171.6 68.7 167.6 67.8 160.5 65.4 152.9 63.2 148.1 61.2 145.4 59.1 144 56.9 143.1 52.5 142.6 51.2 140.2 48.4 137.8 46.9 133.4 45.4 130.9 45.1 128.6 45.4 125.2 46.6 121.4 48.5 119.9 48.9 118.1 49 116.6 48.5 114.3 46.4 112.1 42.3 109 39.1 108.2 37.4 108.5 36.1 109.6 34.9 112.4 34Z M77.4 34.6 82.6 34.8 85.4 35.7 86.6 36.5 87.5 37.6 88 38.9 88 40.1 86.8 43.6 85.1 45.6 80.6 48.4 75.1 50.5 69.9 51.5 62.9 51.9 51.4 51 44.9 49.5 39.4 49.4 37.6 49.6 34.1 51 31.1 51.6 29.6 50.9 28.9 49.6 29 48.4 29.8 46.9 33.4 43.8 40.1 40.2 46.4 38 51.1 36.7 57.9 35.7 68.6 34.8Z M96.4 34.6 97.6 34.5 98.9 34.8 100 35.6 100.7 36.9 100.9 38.1 100.5 39.6 99.6 40.6 98.4 41.2 96.6 41.3 95.4 40.8 94.2 39.6 93.8 38.6 93.8 37.6 94.2 36.4 95.1 35.3Z M217.4 45.6 219.1 45.5 220.9 45.8 222.6 46.5 223.9 47.6 225 49.1 226 51.4 226.4 53.6 226.5 56.1 225.7 60.9 223.7 66.1 220 72.6 216 77.6 211.9 81.7 208.9 84.2 205.4 86.5 200.4 88.8 193.4 91 187.1 92 180.1 92 178.6 91.7 177.6 91.1 176.9 89.9 177.4 88.4 185.2 83.4 187.9 81 190.6 77.8 191.9 75.4 192.6 70.9 194 66.4 195.7 63.1 197.8 60.4 205.1 52.4 207.6 50.3 213.1 47Z M136.1 60.4 139.4 60.5 141.1 61.4 142.1 63.1 142.1 64.4 141.7 65.4 140.6 66.8 138.9 68 137.1 68.6 134.6 68.8 133.6 70.1 132.6 70.6 130.9 70.9 129.9 70.5 128.7 68.9 128.6 67.6 128.9 66.4 130.5 65.1 130.9 63.6 132.1 62.3 134.1 61Z M30.3 68.9 31.4 68.6 32.4 69 34.9 71.6 38.1 73.2 38.9 73.9 42.1 71.5 45.9 70 50.4 69.2 54.9 69.5 57.4 70.5 59.5 72.6 61.3 75.6 61.9 78.5 65.4 77.4 70.4 77.3 73.6 78.1 75.4 79 76.6 80 75.7 76.4 75.7 74.4 76.7 72.4 78.4 71 80.6 70.2 83.6 69.8 88.4 69.8 93.4 70.5 101.6 72.8 106.1 74.3 108.6 75.4 110.4 76.6 111.4 77.9 112 79.4 112 80.9 111.5 82.4 110.5 83.6 108.9 84.8 107.4 85.5 103.4 86.7 91.4 89 86.4 89.4 83.4 89.3 81.6 89 80.4 88.5 79.2 87.4 77.6 84.4 76.8 85.6 74.1 87.7 72.4 88.2 70.4 88.1 68.6 87.1 62.4 86.7 59.9 85.3 58.6 84.1 57.1 85 54.9 85.2 53.6 84.8 52.1 83.3 50.1 83.9 47.9 83.5 46.4 82.4 45.9 81.3 43.6 81.9 41.4 81.5 40.1 80.6 39.4 79.3 37.9 77.9 36.1 78 34.8 77.1 34.1 75.8 32.4 76.1 31.1 75.4 30.6 74.4 30.7 72.9 29.7 71.6 29.4 70.9 29.6 69.6Z M131.3 71.1 132.6 71.2 134.1 71.9 135.3 73.1 135.8 74.6 135.8 76.4 135.3 77.6 134.1 78.8 132.6 79.3 130.6 79.3 129.1 78.8 127.7 77.4 127.2 75.9 127.3 74.4 128.3 72.6 129.9 71.5Z"/>
<path fill="#8dc1dc" fill-rule="evenodd" d="M117.1 34.4 129.4 34.4 133.4 35.2 135.1 36 136.4 37 140.9 38.6 149.9 42.5 153.9 44.6 157.4 46.8 165.2 52.9 172.6 58.1 174.7 59.4 178.1 60.9 186.9 64.2 187.7 64.9 187.7 65.9 186.4 67.2 183.4 68.2 180.9 68.5 177.1 68.5 171.9 67.7 167.6 66.7 160.6 64.3 153.1 62.4 148.9 60.5 146.3 58.6 144.9 56.4 144.1 52.3 143.4 50.5 141.2 47.9 139.1 46.4 133.6 44.4 130.1 44.1 128.4 44.4 125.5 45.4 120.6 47.7 118.9 48 117.6 47.8 116.4 47.1 115.4 46.1 112.9 41.6 109.9 38.6 109.4 37.6 109.4 36.9 109.9 36.1 112.6 35Z M96.5 35.6 97.4 35.4 98.4 35.7 99.3 36.4 99.8 37.1 99.8 38.9 99.2 39.6 98.4 40.2 97.4 40.4 96.4 40.2 95.4 39.5 94.8 38.6 94.7 37.9 95 36.9Z M68.6 36.3 81.9 36.2 83.6 36.4 85.1 37.2 86.1 38.1 86.5 38.9 86.5 40.1 85.4 43.1 83.9 44.8 79.9 47.2 74.4 49.2 68.9 50.2 62.9 50.4 53.6 49.8 49.9 49.3 45.4 48.1 40.6 47.9 36.4 48.6 31.4 50.8 30.4 50.6 29.9 49.9 30 48.9 30.5 48.1 32.1 46.5 34.6 44.7 40.4 41.7 49.1 38.7 52.4 37.9 59.1 37Z M217.7 46.6 219.1 46.5 221.1 47 222.4 47.6 223.4 48.6 224.4 50.4 225.2 52.4 225.4 56.6 224.5 61.4 221.7 67.9 218.7 72.6 215 77.1 210.9 81.3 207.9 83.7 204.6 85.7 200.4 87.7 193.1 90 188.1 90.8 181.1 91 179.6 90.8 178.6 90.4 178.2 89.6 178.6 88.8 185.9 84.1 188.6 81.7 191.3 78.6 192.9 75.6 193.7 70.6 195.5 65.6 197.7 62.1 202.2 56.9 206 52.9 208.9 50.7 213.4 48Z M135.6 61.4 138.4 61.2 140.1 61.8 140.8 62.4 141.2 63.4 140.8 65.1 139.6 66.5 138.1 67.3 136.1 67.8 134.1 67.8 133.8 69.1 132.9 69.9 131.1 70.3 130.4 70.2 129.2 68.6 129.1 67.4 129.4 66.6 130.1 66 131.4 65.6 131.7 64.1 132.8 62.9Z M30.5 69.4 31.4 69.2 32.1 69.5 34.7 72.1 38.4 74.1 38.8 74.9 38.9 75.6 38.4 76.9 37.4 77.5 36.4 77.5 35.1 76.6 34.6 75.4 34.1 75.1 32.9 75.6 31.6 75.1 31.1 74.1 31.4 72.9 29.9 70.9 30 70.1Z M50 70.9 53.1 70.9 55.6 71.5 57.6 72.9 59.2 75.1 59.9 76.9 60 78.1 59.6 79.1 58.8 80.1 59.1 81.4 59 82.4 58.3 83.6 57.4 84.3 56.1 84.6 54.4 84.5 53.1 83.7 52.4 82.6 50.6 83.3 48.9 83.3 46.9 82.1 46.1 80.3 44.6 81.2 43.1 81.4 41.6 81 40.2 79.9 39.7 78.4 39.7 76.1 40.9 74.4 42.9 72.9 44.9 72Z M82.1 71.4 88.4 71.3 93.6 72 104.6 75.3 107.6 76.5 109.6 77.9 110.4 79.4 110.4 81.1 109.4 82.6 107.4 83.9 104.1 85 99.9 85.9 96.6 87 87.1 87.9 83.6 87.9 81.9 87.5 80.5 86.6 79.5 85.1 77.1 75.4 77.5 73.9 78.4 72.7 79.9 71.9Z M130.8 72.1 131.9 72 133.1 72.4 134.1 73.1 134.8 74.1 135 75.4 134.8 76.6 134.1 77.6 133.1 78.3 131.6 78.5 130.1 78.3 128.9 77.4 128.2 76.4 128.1 75.1 128.5 73.9 129.4 72.8Z M67.2 78.6 72.1 79 74.1 79.8 75.5 80.9 76.3 82.1 76.4 83.4 75.6 85.6 74.9 86.6 73.1 87.5 71.1 87.6 69.9 87.3 68.4 85.7 66.4 85.6 65.1 86.1 62.9 86.2 62.1 86 60.9 85.1 59.7 82.6 59.8 81.6 60.3 80.9 61.6 80 63.6 79.3Z"/>
<path fill="#b5deec" fill-rule="evenodd" d="M117.1 34.9 128.9 34.7 134.4 36 136.4 37.5 145.6 41 153.6 44.9 159.4 48.8 164.9 53.2 172.1 58.4 175.2 60.1 186.4 64.5 187.1 65.1 187.1 65.9 186.1 66.8 183.1 67.8 180.6 68.1 176.9 68 171.6 67.2 167.9 66.3 160.6 63.9 153.1 62 149.1 60.2 146.4 58 145.3 56.1 144.1 51 143.1 49.4 141.5 47.6 138.6 45.6 134.1 44 131.6 43.6 129.1 43.7 125.1 45 120.4 47.3 118.6 47.5 117.4 47.2 115.6 45.6 113.3 41.4 110.3 38.4 109.9 37.4 110.4 36.4 111.6 35.8Z M96.5 36.1 97.4 35.9 98.1 36.1 99.3 37.1 99.4 38.6 98.4 39.7 96.6 39.8 95.4 38.7 95.3 37.4Z M68.4 36.5 81.6 36.4 83.6 36.7 85.6 38.1 86.1 38.9 86.1 39.6 84.9 42.6 83.6 44.1 79.6 46.6 74.4 48.5 69.4 49.5 62.9 49.8 52.6 49 49.9 48.6 45.6 47.5 41.9 47.3 36.1 48.3 34 49.1 31.4 50.5 30.6 50.5 30.1 49.9 30.1 49.1 30.6 48.4 32.4 46.6 34.6 45 40.9 41.8 49.9 38.7 53.1 38.1 61.6 37Z M217.5 47.1 218.9 47 220.6 47.3 222.1 48 223.1 49 224.7 52.4 225 56.6 224.2 60.9 222.8 64.6 221.2 67.9 218.5 72.1 214.7 76.9 210.6 80.9 207.6 83.3 204.6 85.2 200.4 87.2 193.4 89.4 188.4 90.3 181.9 90.5 179.4 90.1 179 89.6 179.5 88.9 186.3 84.4 188.9 82.1 191.6 79 193.3 75.9 194.1 70.9 196 65.6 198.2 62.1 202.6 57.1 206.4 53.2 209.1 51 213.9 48.3Z M136.4 61.6 138.6 61.6 140.1 62.3 140.8 63.6 140.4 65.1 139.1 66.3 137.4 67.1 135.4 67.5 133.9 67.3 133.8 68.6 132.9 69.7 131.1 70.1 130.4 69.9 129.3 68.4 129.3 67.4 129.7 66.6 130.4 66.1 131.9 65.6 132 64.4 133.4 62.9 134.9 62Z M30.2 70.1 31.1 69.4 31.9 69.6 34.7 72.4 38.1 74.2 38.7 75.4 38.3 76.6 37.4 77.3 36.4 77.3 35.4 76.6 34.9 75.4 34.1 74.8 32.9 75.4 31.9 75.1 31.3 73.9 31.7 72.9 30.2 70.9Z M50.6 71.6 53.6 71.7 55.6 72.4 57.2 73.6 58.6 75.6 59.2 77.9 58.9 78.7 58.1 79.4 58.7 80.6 58.9 81.9 58.4 83.1 57.4 84.1 56.1 84.5 54.4 84.3 53.1 83.4 52.4 82.2 50.4 83.2 48.6 83 47 81.9 46.5 80.9 46.4 79.6 45.1 80.8 43.4 81.2 41.6 80.8 40.3 79.6 39.9 78.4 40 77.4 41.1 75.4 42.2 74.4 45.6 72.6Z M81.6 72.1 84.1 71.9 89.1 72 93.9 72.7 97.9 73.8 105.1 76.2 107.9 77.4 109.6 79.1 109.7 80.9 108.9 82.2 107.1 83.3 103.9 84.4 100.6 85.1 96.4 86.7 91.9 86.9 88.6 87.5 82.4 87 80.9 86.1 79.6 83.9 78.9 79.8 77.8 75.6 78 74.4 78.7 73.4 79.9 72.6Z M130.5 72.6 131.6 72.4 132.6 72.6 133.6 73.2 134.3 74.1 134.5 76.1 134 77.1 133.1 77.8 131.9 78.1 130.6 78 129.4 77.4 128.7 76.4 128.5 75.4 128.7 74.4 129.4 73.4Z M65.8 79.4 70.9 79.4 72.6 79.8 74.4 80.7 75.3 81.6 75.7 82.6 75.6 84.9 75 86.1 73.4 87.2 71.6 87.5 69.9 87.1 68.9 86.1 68.4 85.1 66.9 84.9 65.4 85.8 64.1 86 62.6 85.9 61.4 85.2 60.8 84.6 60.3 83.4 60.4 82.1 60.8 81.4 62.1 80.5Z"/>
<path fill="#dbf1f7" fill-rule="evenodd" d="M117.4 35.3 128.9 35 133.4 35.9 135.1 36.8 136.1 37.9 140.6 39.4 149.1 43.1 153.4 45.2 157.1 47.6 164.8 53.6 172.1 58.8 175.1 60.5 186 64.9 186.6 65.4 186.5 65.9 185.6 66.5 182.6 67.5 176.6 67.5 171.9 66.9 168.1 66 160.6 63.5 153.1 61.7 148.9 59.8 146.8 57.9 145.6 55.9 144.5 50.9 143.6 49.4 141.9 47.4 138.9 45.3 134.4 43.7 131.9 43.2 129.1 43.4 124.9 44.7 120.4 46.9 118.9 47.1 117.6 46.9 115.7 45.1 113.6 41.1 110.7 38.1 110.4 37.1 111.4 36.3 114.3 35.6Z M68.4 36.7 78.4 36.4 83.4 36.8 84.5 37.4 85.4 38.4 85.8 39.6 84.1 42.7 82.9 43.9 79.2 46.1 74.4 47.9 69.5 48.9 62.9 49.2 52.2 48.4 45.9 46.9 42.9 46.7 35.9 48.1 33.3 49.1 31.4 50.4 30.6 50.3 30.3 49.9 30.3 49.1 30.8 48.4 34.6 45.1 41.4 41.7 50.1 38.8 56.6 37.7 61.6 37.2Z M96.6 36.6 97.6 36.4 98.7 37.1 99 38.1 98.4 39.1 97.1 39.4 95.9 38.6 95.8 37.6Z M217.1 47.6 218.6 47.4 220.3 47.6 221.6 48.2 222.7 49.1 223.6 50.7 224.3 52.6 224.6 56.6 223.7 61.1 220.9 67.6 218.2 71.9 214.2 76.9 210.1 80.8 207.4 83 204.4 84.9 200.1 86.9 193.1 89.1 188.4 89.9 182.1 90.1 180 89.6 180.3 88.9 185.9 85.2 188.1 83.4 192 79.1 193.7 75.9 194.5 70.9 196.4 65.8 198.4 62.6 202.9 57.4 206.6 53.5 209.1 51.5 213.6 48.9Z M135.6 62.1 137.9 61.9 139.6 62.3 140.4 63.4 140.1 64.9 138.9 66.1 137.1 66.9 135.1 67.1 133.4 66.9 133.7 68.1 133.1 69.3 131.1 69.9 130.4 69.7 129.5 68.4 129.7 66.9 130.6 66.1 132.3 65.9 132.2 64.9 132.8 63.9 134.1 62.8Z M30.8 69.6 31.9 69.7 34.8 72.6 38.1 74.4 38.5 75.4 38.1 76.6 37.4 77.1 36.6 77.2 35.6 76.6 34.9 75.1 33.9 74.6 32.9 75.2 31.9 74.9 31.5 73.9 31.9 72.9 30.3 70.6Z M49.1 72.6 51.6 72.4 53.9 72.6 55.6 73.3 56.9 74.5 57.9 76.1 58.3 77.4 57.9 78.4 56.9 78.9 58.2 79.9 58.8 81.4 58.5 82.6 57.6 83.7 56.4 84.3 54.6 84.2 53.4 83.4 52.4 82 51.4 82.7 50.4 83 49.1 83 48.1 82.6 47.2 81.9 46.7 80.9 46.6 79.6 47.5 78.1 46.6 77.7 46.2 79.6 44.6 80.8 42.6 81 41.4 80.5 40.6 79.8 40 77.9 40.4 76.9 41.1 76.1 44.7 73.9Z M53.1 79.1 53.1 79.6 53.1 80 53.7 79.4Z M82.3 72.6 89.1 72.6 93.6 73.2 97 74.1 104.6 76.6 107 77.6 108.9 79.1 109.1 80.6 108.4 81.8 106.9 82.8 103.6 83.9 101.1 84.4 99.1 85.6 96.4 86.5 92.1 86.6 88.6 87.4 85.6 86.7 82.6 86.4 80.9 85.2 79.8 83.6 79.4 81.9 79.1 78.6 78.4 75.6 78.6 74.5 79.3 73.6 80.4 73.1Z M130.8 72.9 132.6 73 133.4 73.4 134 74.4 134.1 76.1 133.6 77 132.9 77.5 131.9 77.8 130.6 77.6 129.6 77.1 129 76.1 128.8 75.1 129.1 74.3 129.9 73.4Z M65.3 80.1 70.1 79.9 71.9 80.3 73.4 80.9 75 82.4 75.5 84.1 75.2 85.6 73.6 87 71.9 87.3 70.4 87.1 69.6 86.7 68.7 85.6 68.4 84.4 67.1 84.3 65.9 85.4 64.9 85.8 62.9 85.8 62.1 85.6 60.7 84.1 60.5 83.1 60.7 82.1 61.4 81.3 62.4 80.6Z"/>
<path fill="#f4fbd4" fill-rule="evenodd" d="M123.4 35.4 128.9 35.3 133.1 36.2 135.1 37.1 135.6 38.2 140.6 39.9 149.2 43.6 153.2 45.6 156.7 47.9 164.6 54 173.6 60.2 184.7 64.9 185.6 65.6 185 66.1 182.4 67 176.9 67.1 168.5 65.6 157.9 62.2 153.4 61.5 149.5 59.9 147.3 58.1 146 55.6 145.3 53.6 145.2 51.6 144.5 49.9 142.1 47.1 139.6 45.2 134.4 43.3 132.1 42.8 130.1 42.8 126.9 43.5 120.4 46.4 118.4 46.6 117.4 46.2 116.4 45.2 113.9 40.9 111.1 37.6 111.5 36.9 114 36.1Z M77 36.6 83.4 36.9 84.5 37.6 85.4 38.9 85.5 39.6 84 41.1 83.1 42.7 80.8 44.4 77.8 45.9 73.4 47.4 66.6 48.4 58.6 48.2 50.6 47.4 44.6 46 35.9 47.8 33.1 48.9 31.4 50.2 30.7 50.1 30.4 49.6 30.6 48.9 31.1 48.2 34.6 45.3 41.1 42 50.1 39 56.6 37.8 61.6 37.3 68.4 36.8Z M218.6 47.9 220.1 48.1 221.4 48.6 222.4 49.5 223.1 50.8 223.9 52.6 224.1 54.1 223.9 58.4 222.6 62.7 220.4 67.6 217.9 71.6 214 76.6 212.3 78.4 207.1 82.6 203.9 84.6 200.2 86.4 193 88.6 188.6 89.4 183.9 89.6 181.6 89.2 182 88.6 188.6 83.6 192.4 79.4 194 76.1 194.9 71.1 196.9 65.8 198.9 62.7 203.3 57.6 207.2 53.6 211.7 50.4 215.4 48.6Z M136.3 62.4 138.4 62.3 139.6 62.8 140 63.9 139.6 64.9 138.4 65.9 136.4 66.6 134.6 66.7 133.1 66.1 132.6 65.1 133.1 64.1 134.8 62.9Z M131.1 66.1 132.4 66.2 133.4 67.1 133.6 68.4 132.6 69.5 130.9 69.8 129.7 68.6 129.7 67.1 130.1 66.6Z M30.7 69.9 31.4 69.7 31.9 69.9 34.6 72.7 37.9 74.4 38.4 75.4 37.9 76.6 37.1 77.1 36.1 76.9 35.3 76.1 35.1 75.1 33.9 74.4 33.1 75 32.1 74.9 31.6 73.9 32 72.9 30.5 70.9Z M82.5 73.4 88.9 73.3 96 74.6 106.2 78.1 107.9 79.4 108.1 80.6 107.6 81.4 106.4 82.1 101.6 83.5 99.6 85.1 97.1 86 94.4 86.5 92.1 86.5 88.9 87.2 86.9 87 84.9 86 82.9 85.8 81.6 85.3 80.6 84.5 79.9 83.1 79.5 80.4 79.6 77.6 79.3 75.1 80.1 74.1Z M130.7 73.4 132.4 73.3 133.6 74.4 133.8 75.9 132.9 77.1 131.1 77.3 130.1 76.9 129.6 76.4 129.3 75.6 129.4 74.7Z M42.8 75.4 44.6 75.5 46.2 76.9 46.5 77.9 46.2 79.4 45.4 80.3 44.4 80.8 43.1 80.9 41.9 80.6 40.8 79.9 40.3 78.9 40.2 77.9 40.6 76.9 41.4 76Z M49.3 77.4 50.4 77.3 51.9 78 52.7 78.9 53.1 80.2 54.1 79.2 55.4 78.8 57.4 79.4 58.2 80.1 58.6 81.1 58.6 82.1 58.2 82.9 57.1 83.9 55.4 84.2 54.4 84 53.5 83.4 52.9 82.6 52.6 81.5 51.6 82.5 50.6 82.9 49.4 82.9 48.1 82.5 47 81.4 46.7 79.6 47.9 78Z M62.7 80.6 64.4 80.5 66.4 81.3 72.9 81.5 74.7 82.6 75.3 83.9 75.3 85.1 74.6 86.2 73.4 87 72.1 87.2 70.4 87 69.5 86.4 68.7 85.4 68.5 84.1 68.7 83.1 67.4 83 66.6 84.6 65.6 85.4 64.6 85.7 62.6 85.6 61.1 84.6 60.6 83.1 61.2 81.6Z"/>
<path fill="#fff4ae" fill-rule="evenodd" d="M122.1 35.9 128.9 35.7 134 36.9 135.1 37.8 134.6 38.7 145.2 42.6 153.4 46.6 158.6 50.1 164.1 54.5 171.1 59.6 173.9 61.2 181.2 64.6 181.7 65.1 181.7 65.6 180.4 66.1 178.1 66.3 172 65.6 167.7 64.6 159.2 61.9 156.4 61.8 154 61.4 150.1 59.9 148.1 58.6 146.8 56.9 145.6 53.4 145.7 50.9 143.7 47.6 141.9 45.8 140.4 44.8 138.4 43.8 135.4 42.7 132.1 42 129.1 42.2 124.9 43.5 120.4 45.5 119.1 45.7 118 45.4 116.1 43.4 113.4 38.6 113.2 37.9 113.6 37.4 115 36.9 119.9 36.4Z M68.4 36.9 78.4 36.7 83.4 37.1 84.2 37.6 84.1 38.1 85 38.9 85.1 39.6 84.4 40.4 81.4 42 79.6 43.9 78.6 44.3 75.6 44.5 55.9 44.3 49.6 44.6 36.1 47.4 33.6 48.4 31.4 50.1 30.9 50.1 30.5 49.6 30.7 48.9 31.9 47.6 34.9 45.3 41.1 42.1 50.1 39.1 53.1 38.5 61.6 37.4Z M217.9 49.1 220.4 49.7 222.1 51.4 223.1 54.1 223.1 57.4 222.4 60.8 220.9 64.7 219.1 68.1 214.4 75.6 212.4 77.9 210.8 79.1 204.3 83.4 200.3 85.4 192.9 87.6 189.6 87.9 188.1 87.4 187.8 86.6 188 85.9 192.8 80.1 194.2 77.6 195 75.4 195.9 70.9 196.9 68 198.1 65.4 199.6 63.1 204.4 57.7 207.4 54.6 209.5 52.9 214.2 50.1Z M135.9 63.4 138.1 63.2 138.7 63.4 139 63.9 138.4 64.9 136.8 65.6 135.1 65.9 133.8 65.4 133.7 64.9 134.2 64.4Z M130.6 66.4 131.9 66.2 133.1 66.9 133.5 68.1 133 69.1 131.1 69.7 130.1 69.1 129.7 68.4 129.7 67.4Z M30.9 69.9 32 70.1 33.6 72 35.1 73.1 37.9 74.5 38.3 75.4 37.9 76.5 37.1 76.9 36.1 76.7 35.5 76.1 35.3 75.1 33.9 74.3 33.1 74.9 32.1 74.8 31.7 73.9 32.2 72.9 30.6 70.9 30.5 70.4Z M131.1 74.4 132.1 74.4 132.6 74.9 132.7 75.6 132.4 76.1 131.4 76.3 130.6 75.9 130.4 75.1Z M41.4 76.2 43.4 75.4 44.4 75.6 45.4 76.2 46.2 77.1 46.2 79.1 44.9 80.5 43.9 80.8 42.6 80.7 41.4 80.2 40.6 79.4 40.3 78.1 40.5 77.1Z M83.4 75.6 91.6 75.6 98.4 76.6 101.6 77.4 105.1 79.1 105.9 79.9 106 80.6 105 81.6 101.9 82.7 99.9 84.6 97.6 85.6 95.4 86.1 92.4 86.2 91.4 86.6 88.9 87.1 87.1 86.9 85.9 86.5 84.6 85.6 82.9 85.4 81.6 85 80.9 84.3 80.3 83.1 79.8 79.4 80.1 77.4 81.4 76.1Z M48.8 77.6 50.4 77.5 51.9 78.2 52.7 79.1 52.9 81 53.5 79.9 54.6 79.1 55.9 78.9 57.1 79.3 57.9 79.9 58.4 80.9 58.5 81.9 58.3 82.6 57.1 83.8 55.6 84.1 54.6 84 53.6 83.4 53 82.6 52.6 81.3 51.9 82.2 50.9 82.7 49.6 82.8 48.4 82.5 47.1 81.4 46.8 79.9 47.4 78.6Z M61.9 81.1 64.1 80.5 65.1 80.8 66.7 82.1 67 82.9 66.9 83.9 65.6 85.3 64.6 85.6 62.9 85.6 61.1 84.4 60.7 83.1 61 82.1Z M71.1 81.6 72.1 81.5 73.4 81.9 74.4 82.4 75 83.4 75.3 84.4 75.1 85.1 74.6 86 73.6 86.7 72.4 87.1 70.6 86.9 69.6 86.4 68.9 85.4 68.7 84.1 69 83.1 69.6 82.3Z"/>
<path fill="#fedb8c" fill-rule="evenodd" d="M123.1 36.6 129.6 36.6 132.9 37.4 133.6 37.9 131.9 38.4 125.6 38.4 122 37.6 121 37.1Z M76.8 36.9 83.1 37.2 83.9 37.7 82.1 38.1 83.8 38.6 84.4 39.1 84.4 39.5 81.1 41.5 79.3 43.4 78.4 43.8 56.1 43.6 49.6 43.9 46.6 44.5 36.6 47 33.9 48.1 31.4 50 30.9 49.9 30.6 49.6 30.8 48.9 32.4 47.3 35.9 44.9 42.6 41.6 50.4 39.1 61.6 37.5 68.4 37Z M149.3 48.9 152.1 48.7 155.1 49.4 157.4 50.6 159.8 52.4 161.4 54.3 162.4 56.3 162.4 58.4 161.6 59.8 160.6 60.6 159.4 61.1 156.1 61.2 150.9 59.9 148.4 58.4 147.3 57.1 146.6 55.7 146.2 52.1 146.4 51.3 147.1 50.2 148.1 49.4Z M212.8 57.6 214.9 57.6 216.3 58.1 217.4 59.2 218.1 60.7 218.4 62.4 218.4 65 216.9 70.2 215.9 72.2 213.9 75.2 210.7 78.4 207.1 80.2 205.1 80.4 203.8 80.1 202.4 78.9 201.4 76.1 201.4 73 202.6 68.4 204.6 64.6 206.9 61.6 209.4 59.4Z M130.9 66.4 132.1 66.4 133.1 67.1 133.3 68.4 132.6 69.2 130.9 69.5 129.9 68.6 129.9 67.1Z M30.8 70.1 31.4 69.9 31.8 70.1 34.6 72.9 37.9 74.6 38.2 75.4 37.9 76.4 37.1 76.8 36.1 76.6 35.5 75.9 35.5 75.1 33.9 74.1 32.9 74.9 32.1 74.6 31.8 73.9 32.3 72.9 30.8 71.1Z M42.7 75.6 44.4 75.7 45.4 76.3 46.1 77.1 46.1 79.1 45.5 79.9 44.6 80.5 43.6 80.7 42.4 80.6 41.2 79.9 40.6 79.1 40.4 78.1 40.7 77.1 41.6 76.1Z M82.5 76.4 91.1 76.2 95.8 76.6 101.9 78.1 104.9 79.6 105.3 80.4 104.3 81.4 101.6 82.2 100.5 83.9 98.2 85.1 95.6 85.8 92.6 85.9 90.1 86.8 88.6 87 87.1 86.8 85.6 86.2 84.4 85.1 81.9 84.4 80.9 83.1 80.4 80.1 80.5 78.1 81.1 77Z M49.2 77.6 50.9 77.7 51.9 78.3 52.6 79.1 52.6 81.1 52 81.9 51.1 82.5 50.1 82.7 48.9 82.6 47.7 81.9 47.1 81.1 46.9 80.1 47.2 79.1 48.1 78.1Z M54.9 79.1 55.9 79 56.9 79.3 58.2 80.6 58.4 81.6 58.3 82.4 57.6 83.3 56.9 83.8 54.6 83.9 53.6 83.2 53 82.4 52.9 81.4 53.3 80.4 54 79.6Z M62.6 80.9 64.4 80.7 66.2 81.6 66.9 83.1 66.7 84.1 66.1 84.8 64.9 85.4 63.1 85.5 61.4 84.6 60.9 83.6 60.9 82.6 61.6 81.5Z M71.9 81.6 74.1 82.4 75.2 84.1 75 85.1 74.4 86.1 72.4 87 70.1 86.6 69.1 85.6 68.8 84.6 68.9 83.6 69.6 82.5 70.6 81.9Z"/>
<path fill="#fdb76a" fill-rule="evenodd" d="M77.6 36.9 81.9 37.1 83.1 37.4 83.1 37.6 80.6 38.8 78.1 40.7 75.4 42.2 70.1 43 65.4 42.8 49.5 43.4 35.6 47.3 33.6 48.1 31.4 49.8 30.8 49.6 31 48.9 32.6 47.2 36.1 44.9 42.4 41.8 50.4 39.2 61.6 37.6 68.4 37.1 75.9 37.1Z M151.4 49.9 153.1 50 155.4 50.6 157.1 51.9 158.4 53.6 158.7 54.9 158.6 56.4 158.1 57.5 156.6 58.9 154.4 59.6 151.9 59.6 149.1 58.3 147.5 56.6 146.9 54.6 147.4 52.5 149.2 50.6Z M212.2 61.6 213.6 61.9 214.4 63.4 214.4 66.6 213.6 69.4 211.6 73.2 209.5 75.6 207.2 77.1 205.4 77.2 204.4 76.2 204.1 74.6 204.4 71.8 205.1 69.5 207.9 64.8 210.1 62.6Z M130.6 66.6 131.6 66.4 132.7 66.9 133.3 67.9 132.9 68.9 132.1 69.3 131.1 69.4 130.4 69 130 68.4 129.9 67.6Z M31 70.1 31.9 70.3 33.4 72.1 34.9 73.2 37.7 74.6 38.1 75.4 37.7 76.4 36.9 76.7 36.1 76.5 35.6 75.9 35.6 75.1 33.6 73.8 33.1 74.7 32.3 74.6 31.9 73.9 32.5 72.9 30.9 71Z M42.3 75.9 44.1 75.8 45.9 77 46 78.9 45 80.1 43.9 80.6 42.9 80.6 41.7 80.1 40.9 79.4 40.5 78.4 40.7 77.4 41.4 76.5Z M90.4 77.6 95.4 77.5 99 78.6 100.1 79.4 101 80.4 101.3 81.4 101.1 82.4 99.4 84.1 96.9 85.1 92.6 85.6 91.5 86.4 88.9 86.9 86.1 86.3 85.1 85.6 84.1 84.4 83.7 82.9 84 81.4 84.7 80.4 85.9 79.5Z M48.8 77.9 50.6 77.8 52.4 79 52.5 80.9 51.5 82.1 50.4 82.6 49.4 82.6 48.2 82.1 47.4 81.4 47 80.4 47.2 79.4 47.9 78.5Z M54.6 79.4 56.4 79.3 57.9 80.3 58.3 81.9 57.4 83.4 56.4 83.8 55.1 83.9 54.1 83.5 53.4 82.8 53 81.9 53.1 80.9 53.6 80.1Z M63 80.9 64.6 80.9 65.7 81.4 66.4 82.1 66.8 83.4 65.8 84.9 64.9 85.3 63 85.4 61.3 84.4 60.9 83.4 61.1 82.4 62 81.4Z M71 81.9 72.9 81.9 74.5 82.9 75.1 84.6 74.1 86.2 72.9 86.8 71.6 86.9 70.1 86.5 69.3 85.6 68.9 84.6 69.1 83.4 69.9 82.4Z"/>
<path fill="#f88b51" fill-rule="evenodd" d="M68.4 37.2 81.6 37.2 82.4 37.4 82.4 37.6 76.4 41.6 75.1 42.1 70.1 42.9 55.6 42.9 49.1 43.3 35.4 47.2 33.6 48 31.4 49.7 30.9 49.4 32.3 47.6 34.4 46 40.2 42.9 50.3 39.4 61.6 37.8Z M149.6 51 152.4 50.2 154.6 50.9 156 51.9 156.9 53.1 157.2 54.6 156.9 56.1 155.9 57.4 154.9 58.2 152.4 58.7 150.1 58.3 148.7 57.4 147.7 55.9 147.4 54.1 148.1 52.4Z M130.9 66.6 131.9 66.6 132.8 67.1 133.2 68.1 132.8 68.9 131.1 69.3 130.4 68.9 130 67.6 130.2 67.1Z M31 70.4 31.8 70.4 34.4 73 37.6 74.7 38 75.4 37.6 76.3 36.9 76.6 36.2 76.4 35.7 75.9 35.6 74.9 33.6 73.7 33.1 74.5 32.4 74.5 32.1 73.6 32.9 73.1 31.1 71.1Z M42.6 75.9 44.2 75.9 45.8 77.1 45.9 78.9 44.8 80.1 43.6 80.5 42.6 80.4 41.5 79.9 40.9 79.2 40.6 78.1 40.9 77.2 41.6 76.4Z M49.1 77.9 50.7 77.9 52.3 79.1 52.4 80.9 51.3 82.1 50.1 82.5 49.1 82.4 48 81.9 47.4 81.2 47.1 80.1 47.4 79.2 48.1 78.4Z M87.5 78.9 89.1 78.7 90.4 78.9 92.1 79.7 93.3 80.9 93.8 82.1 93.7 83.9 93.2 84.9 91.9 86.1 88.9 86.8 87.4 86.6 85.9 86.1 84.4 84.6 83.9 83.1 84.1 81.4 85.1 80.1Z M54.9 79.4 56.4 79.4 57.9 80.5 58.2 81.4 58.1 82.1 57.1 83.4 56.1 83.7 54.9 83.7 54.1 83.4 53.4 82.5 53.1 81.6 53.4 80.6Z M63.5 80.9 65.5 81.4 66.6 82.7 66.4 84.1 65.1 85.1 62.6 85.2 61.6 84.5 61.2 83.9 61.1 82.9 61.4 82.1 62.4 81.2Z M71.5 81.9 73.7 82.4 74.4 82.9 74.9 83.9 74.9 84.6 74.5 85.6 73 86.6 71.6 86.7 70.4 86.5 69.1 85.1 69.1 83.9 69.6 82.9 70.4 82.2Z"/>
<path fill="#ec5c3b" fill-rule="evenodd" d="M77.4 37.1 81.6 37.3 82 37.6 76.1 41.6 74.5 42.1 70.1 42.7 55.6 42.7 48.9 43.2 35.6 47 33.9 47.7 31.2 49.4 32.5 47.6 34.4 46.1 40.4 42.9 50.4 39.5 61.6 37.9 68.4 37.4Z M149.4 51.3 152.1 50.4 153.9 50.8 155.1 51.6 156 52.6 156.4 54.4 156.2 55.9 155.2 57.4 154.4 57.9 152.4 58.5 149.9 58 148.8 57.1 148 55.9 147.6 54.4 148.1 52.9Z M130.7 66.9 131.6 66.6 132.6 67.1 133 67.9 132.8 68.6 131.9 69.1 130.6 68.9 130.1 67.9Z M31.3 70.4 34.4 73.2 37.6 74.9 37.8 75.4 37.6 76.1 36.9 76.5 36.1 76.2 35.8 75.6 35.8 74.9 32.6 72.6 31.1 70.9Z M32.5 73.4 32.9 73.3 33.2 73.6 33.2 74.1 32.9 74.5 32.3 74.1Z M43.3 75.9 44.4 76.1 45.2 76.6 45.8 77.4 45.9 78.1 45.8 78.9 45.3 79.6 44.5 80.1 43.4 80.4 41.4 79.6 40.7 78.1 40.9 77.4 41.5 76.6Z M49.8 77.9 50.9 78.1 51.7 78.6 52.3 79.4 52.4 80.1 52.3 80.9 51.8 81.6 51 82.1 49.9 82.4 47.9 81.6 47.2 80.1 47.4 79.4 48 78.6Z M88.2 78.9 90.1 79.1 91.6 79.6 92.6 80.3 93.2 81.1 93.7 82.6 93.4 84.1 91.6 86.1 88.9 86.6 86.9 86.4 85.5 85.6 84.4 84.4 84 82.4 84.6 80.9 85.9 79.8Z M55.5 79.4 57.4 80.1 58.1 81.4 57.5 82.9 56.1 83.6 54.4 83.4 53.6 82.7 53.3 81.9 53.4 80.9 53.9 80.2Z M63 81.1 64.6 81.1 66.1 82.1 66.6 83.4 65.8 84.6 64.6 85.1 63.1 85.1 61.6 84.3 61.2 83.4 61.3 82.6 62 81.6Z M71 82.1 72.8 82.1 74.4 83.1 74.8 84.4 74.1 85.9 73.1 86.4 71.9 86.6 70.4 86.4 69.6 85.7 69.1 84.6 69.3 83.6 70 82.6Z"/>
<path fill="#d73027" fill-rule="evenodd" d="M68.4 37.5 78.4 37.3 81.6 37.6 77.9 40.4 74.9 41.9 69.9 42.6 55.6 42.6 49.1 43 36.6 46.5 32.4 48.1 34.6 46.1 40.3 43.1 50.4 39.6 61.6 38Z M151.6 50.6 152.6 50.6 154.6 51.4 155.9 52.8 156.2 54.1 156.1 55.6 155.1 57.2 154.4 57.7 152.4 58.3 149.4 57.5 148.3 56.1 147.8 54.6 148.1 53.2 149.1 51.7 150 51.1Z M131 66.9 131.9 66.8 132.6 67.3 132.9 67.9 132.6 68.6 131.6 69 130.6 68.6 130.3 67.6Z M31.4 70.9 31.8 70.9 32.5 71.9 32.4 72Z M32.5 73.6 33 73.6 32.9 74.2 32.5 74.1Z M35.1 74.1 36.2 74.4 37.4 74.9 37.7 75.4 37.4 76.1 36.9 76.3 36.3 76.1 36 75.6 36.3 74.9Z M42.7 76.1 44.1 76.2 45.6 77.4 45.6 78.9 44.7 79.9 43.6 80.2 42.6 80.1 41.6 79.6 41.1 79 40.9 78.1 41.1 77.4Z M49.2 78.1 50.6 78.2 52.1 79.4 52.1 80.9 51.2 81.9 50.1 82.2 49.1 82.1 48.1 81.6 47.6 81 47.4 80.1 47.6 79.4Z M87.6 79.1 89.1 79 90.6 79.4 92.1 80.1 93.1 81.1 93.5 82.4 93.4 83.9 92.9 84.8 91.7 85.9 88.9 86.5 87.1 86.3 85.7 85.6 84.6 84.4 84.2 82.6 84.6 81.1 85.6 80.1Z M55 79.6 56.6 79.8 57.8 80.9 57.8 82.1 56.6 83.3 54.8 83.4 53.6 82.4 53.4 81.6 53.6 80.8Z M62.7 81.4 64.1 81.2 65.7 81.9 66.4 83.1 65.9 84.3 65 84.9 63.9 85 62.7 84.9 61.9 84.4 61.4 83.6 61.4 82.8 61.9 82Z M70.7 82.4 72.1 82.1 73.9 82.9 74.7 84.4 74.1 85.6 73.4 86.2 72.1 86.5 70.9 86.3 70 85.9 69.4 85 69.3 83.9 69.9 82.9Z"/>
<rect x="30" y="50" width="100" height="20" fill="#fff"/>
<rect x="10.25" y="6.20" width="24.40" height="21.10" fill="#fff"/>
<text x="13.55" y="20.40" font-family="'Liberation Serif','Times New Roman',serif" font-weight="bold" font-style="italic" font-size="15.5">(f)</text>
<path d="M40.0 120.5V111.7M80.0 120.5V111.7M120.0 120.5V111.7M160.0 120.5V111.7M200.0 120.5V111.7M0 20.0H8.8M0 60.0H8.8M0 100.0H8.8" stroke="#000" stroke-width="1.9" fill="none"/>
<path d="M10.0 120.5V115.8M20.0 120.5V115.8M30.0 120.5V115.8M50.0 120.5V115.8M60.0 120.5V115.8M70.0 120.5V115.8M90.0 120.5V115.8M100.0 120.5V115.8M110.0 120.5V115.8M130.0 120.5V115.8M140.0 120.5V115.8M150.0 120.5V115.8M170.0 120.5V115.8M180.0 120.5V115.8M190.0 120.5V115.8M210.0 120.5V115.8M220.0 120.5V115.8M230.0 120.5V115.8M0 10.0H4.6M0 30.0H4.6M0 40.0H4.6M0 50.0H4.6M0 70.0H4.6M0 80.0H4.6M0 90.0H4.6M0 110.0H4.6" stroke="#0a0a20" stroke-width="0.85" fill="none"/>
<rect x="0.5" y="0.7" width="239.7" height="119.5" fill="none" stroke="#000" stroke-width="1.6"/>
<text x="161.05" y="44.40" font-family="'Liberation Serif','Times New Roman',serif" font-weight="bold" font-size="15.5">U</text>
<text x="142.45" y="80.30" font-family="'Liberation Serif','Times New Roman',serif" font-weight="bold" font-size="15.5">DTb</text>
<text x="120.15" y="95.20" font-family="'Liberation Serif','Times New Roman',serif" font-weight="bold" font-size="15.5">DTa</text>
<text x="-1.50" y="135.0" text-anchor="middle" font-family="'Liberation Serif','Times New Roman',serif" font-size="13">−4</text>
<text x="38.50" y="135.0" text-anchor="middle" font-family="'Liberation Serif','Times New Roman',serif" font-size="13">−2</text>
<text x="80.00" y="135.0" text-anchor="middle" font-family="'Liberation Serif','Times New Roman',serif" font-size="13">0</text>
<text x="120.00" y="135.0" text-anchor="middle" font-family="'Liberation Serif','Times New Roman',serif" font-size="13">2</text>
<text x="160.00" y="135.0" text-anchor="middle" font-family="'Liberation Serif','Times New Roman',serif" font-size="13">4</text>
<text x="200.00" y="135.0" text-anchor="middle" font-family="'Liberation Serif','Times New Roman',serif" font-size="13">6</text>
<text x="240.00" y="135.0" text-anchor="middle" font-family="'Liberation Serif','Times New Roman',serif" font-size="13">8</text>
<text x="122.3" y="146.6" text-anchor="middle" font-family="'Liberation Serif','Times New Roman',serif" font-weight="bold" font-style="italic" font-size="15">x/D</text>
</g>
</svg></body></html>
